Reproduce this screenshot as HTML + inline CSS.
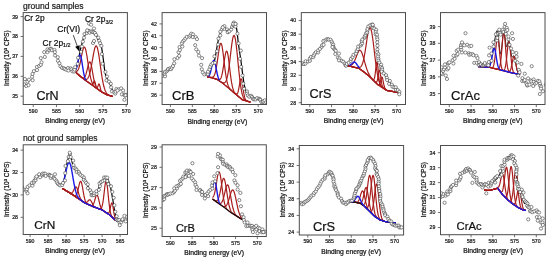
<!DOCTYPE html>
<html><head><meta charset="utf-8"><style>html,body{margin:0;padding:0;background:#fff;overflow:hidden}svg{display:block;filter:blur(0.35px)}</style></head>
<body><svg width="550" height="259" viewBox="0 0 550 259" font-family='"Liberation Sans", sans-serif'><clipPath id="c0"><rect x="23.2" y="12.6" width="104.2" height="91.9"/></clipPath>
<g clip-path="url(#c0)"><g fill="none" stroke-width="1.2" stroke-linejoin="round"><path d="M75.00,70.20 L75.32,70.07 L75.64,69.63 L75.96,68.78 L76.28,67.93 L76.60,67.08 L76.92,66.22 L77.24,65.06 L77.55,63.78 L77.87,62.50 L78.19,61.23 L78.51,59.92 L78.83,58.01 L79.15,56.09 L79.47,54.18 L79.79,52.49 L80.11,50.83 L80.43,49.17 L80.75,47.98 L81.07,46.93 L81.39,45.87 L81.71,44.68 L82.03,43.40 L82.34,42.12 L82.66,41.01 L82.98,40.05 L83.30,39.09 L83.62,38.13 L83.94,37.18 L84.26,36.39 L84.58,35.65 L84.90,34.90 L85.22,34.16 L85.54,33.45 L85.86,33.02 L86.18,32.60 L86.50,32.17 L86.82,31.75 L87.13,31.53 L87.45,31.61 L87.77,31.69 L88.09,31.77 L88.41,31.85 L88.73,31.93 L89.05,32.01 L89.37,32.09 L89.69,32.17 L90.01,32.25 L90.33,32.33 L90.65,32.41 L90.97,32.49 L91.29,32.43 L91.61,32.35 L91.92,32.27 L92.24,32.19 L92.56,32.11 L92.88,32.03 L93.20,32.10 L93.52,32.26 L93.84,32.42 L94.16,32.58 L94.48,32.74 L94.80,32.90 L95.12,33.16 L95.44,33.58 L95.76,34.01 L96.08,34.43 L96.39,34.86 L96.71,35.64 L97.03,36.60 L97.35,37.56 L97.67,38.52 L97.99,39.47 L98.31,40.04 L98.63,40.60 L98.95,41.16 L99.27,41.72 L99.59,42.28 L99.91,42.84 L100.23,43.53 L100.55,44.27 L100.87,45.02 L101.18,45.76 L101.50,46.53 L101.82,48.72 L102.14,50.92 L102.46,53.16 L102.78,55.44 L103.10,57.76 L103.42,60.15 L103.74,62.55 L104.06,65.26 L104.38,68.06 L104.70,70.49 L105.02,72.08 L105.34,73.68 L105.66,75.28 L105.97,76.11 L106.29,76.81 L106.61,77.52 L106.93,78.22 L107.25,78.93 L107.57,79.63 L107.89,80.34 L108.21,81.00 L108.53,81.60 L108.85,82.19 L109.17,82.78 L109.49,83.38 L109.81,83.97 L110.13,84.56 L110.45,85.16 L110.76,85.75 L111.08,86.53 L111.40,87.46 L111.72,88.38 L112.04,89.31 L112.36,90.23 L112.68,91.15 L113.00,91.70" stroke="#000" stroke-width="1.2"/><path d="M72.30,69.50 L72.55,69.71 L72.81,69.91 L73.06,70.12 L73.31,70.32 L73.57,70.53 L73.82,70.73 L74.07,70.94 L74.33,71.14 L74.58,71.35 L74.83,71.56 L75.09,71.76 L75.34,71.97 L75.59,72.17 L75.85,72.38 L76.10,72.59 L76.36,72.81 L76.61,73.03 L76.86,73.26 L77.12,73.48 L77.37,73.70 L77.62,73.92 L77.88,74.15 L78.13,74.37 L78.38,74.59 L78.64,74.81 L78.89,75.04 L79.14,75.26 L79.40,75.48 L79.65,75.71 L79.90,75.93 L80.16,76.15 L80.41,76.35 L80.66,76.55 L80.92,76.75 L81.17,76.95 L81.42,77.15 L81.68,77.36 L81.93,77.56 L82.18,77.76 L82.44,77.96 L82.69,78.16 L82.95,78.36 L83.20,78.57 L83.45,78.77 L83.71,78.97 L83.96,79.17 L84.21,79.37 L84.47,79.58 L84.72,79.78 L84.97,79.98 L85.23,80.16 L85.48,80.34 L85.73,80.51 L85.99,80.69 L86.24,80.87 L86.49,81.05 L86.75,81.22 L87.00,81.40 L87.25,81.58 L87.51,81.76 L87.76,81.93 L88.01,82.11 L88.27,82.29 L88.52,82.46 L88.77,82.64 L89.03,82.82 L89.28,83.00 L89.54,83.17 L89.79,83.35 L90.04,83.53 L90.30,83.71 L90.55,83.88 L90.80,84.06 L91.06,84.24 L91.31,84.44 L91.56,84.63 L91.82,84.82 L92.07,85.01 L92.32,85.21 L92.58,85.40 L92.83,85.59 L93.08,85.78 L93.34,85.98 L93.59,86.17 L93.84,86.36 L94.10,86.55 L94.35,86.75 L94.60,86.94 L94.86,87.13 L95.11,87.32 L95.36,87.52 L95.62,87.71 L95.87,87.90 L96.13,88.09 L96.38,88.26 L96.63,88.44 L96.89,88.61 L97.14,88.79 L97.39,88.96 L97.65,89.14 L97.90,89.31 L98.15,89.48 L98.41,89.66 L98.66,89.83 L98.91,90.01 L99.17,90.18 L99.42,90.36 L99.67,90.53 L99.93,90.71 L100.18,90.88 L100.43,91.06 L100.69,91.23 L100.94,91.41 L101.19,91.58 L101.45,91.76 L101.70,91.93 L101.95,92.08 L102.21,92.22 L102.46,92.36 L102.72,92.49 L102.97,92.63 L103.22,92.77 L103.48,92.90 L103.73,93.04 L103.98,93.18 L104.24,93.31 L104.49,93.45 L104.74,93.58 L105.00,93.72 L105.25,93.86 L105.50,93.99 L105.76,94.13 L106.01,94.27 L106.26,94.40 L106.52,94.54 L106.77,94.68 L107.02,94.81 L107.28,94.88 L107.53,94.95 L107.78,95.02 L108.04,95.10 L108.29,95.17 L108.54,95.24 L108.80,95.31 L109.05,95.39 L109.31,95.46 L109.56,95.53 L109.81,95.60 L110.07,95.68 L110.32,95.75 L110.57,95.82 L110.83,95.89 L111.08,95.97 L111.33,96.04 L111.59,96.11 L111.84,96.18 L112.09,96.26 L112.35,96.33 L112.60,96.40" stroke="#a81c1c"/><path d="M72.30,69.47 L72.55,69.66 L72.81,69.86 L73.06,70.04 L73.31,70.23 L73.57,70.41 L73.82,70.58 L74.07,70.74 L74.33,70.89 L74.58,71.03 L74.83,71.15 L75.09,71.25 L75.34,71.33 L75.59,71.39 L75.85,71.41 L76.10,71.41 L76.36,71.38 L76.61,71.30 L76.86,71.18 L77.12,71.00 L77.37,70.76 L77.62,70.45 L77.88,70.07 L78.13,69.62 L78.38,69.09 L78.64,68.47 L78.89,67.77 L79.14,66.98 L79.40,66.11 L79.65,65.16 L79.90,64.13 L80.16,63.02 L80.41,61.84 L80.66,60.60 L80.92,59.32 L81.17,58.02 L81.42,56.71 L81.68,55.41 L81.93,54.13 L82.18,52.91 L82.44,51.75 L82.69,50.68 L82.95,49.72 L83.20,48.88 L83.45,48.19 L83.71,47.66 L83.96,47.30 L84.21,47.11 L84.47,47.12 L84.72,47.32 L84.97,47.70 L85.23,48.26 L85.48,48.99 L85.73,49.89 L85.99,50.95 L86.24,52.16 L86.49,53.50 L86.75,54.94 L87.00,56.47 L87.25,58.07 L87.51,59.72 L87.76,61.40 L88.01,63.09 L88.27,64.77 L88.52,66.43 L88.77,68.05 L89.03,69.62 L89.28,71.12 L89.54,72.56 L89.79,73.92 L90.04,75.19 L90.30,76.38 L90.55,77.49 L90.80,78.51 L91.06,79.45 L91.31,80.32 L91.56,81.12 L91.82,81.85 L92.07,82.51 L92.32,83.11 L92.58,83.65 L92.83,84.14 L93.08,84.59 L93.34,85.00 L93.59,85.37 L93.84,85.72 L94.10,86.04 L94.35,86.33 L94.60,86.61 L94.86,86.87 L95.11,87.12 L95.36,87.36 L95.62,87.59 L95.87,87.81 L96.13,88.01 L96.38,88.21 L96.63,88.39 L96.89,88.58 L97.14,88.76 L97.39,88.94 L97.65,89.12 L97.90,89.30 L98.15,89.48 L98.41,89.65 L98.66,89.83 L98.91,90.01 L99.17,90.18 L99.42,90.36 L99.67,90.53 L99.93,90.71 L100.18,90.88 L100.43,91.06 L100.69,91.23 L100.94,91.41 L101.19,91.58 L101.45,91.76 L101.70,91.93 L101.95,92.08 L102.21,92.22 L102.46,92.36 L102.72,92.49 L102.97,92.63 L103.22,92.77 L103.48,92.90 L103.73,93.04 L103.98,93.18 L104.24,93.31 L104.49,93.45 L104.74,93.58 L105.00,93.72 L105.25,93.86 L105.50,93.99 L105.76,94.13 L106.01,94.27 L106.26,94.40 L106.52,94.54 L106.77,94.68 L107.02,94.81 L107.28,94.88 L107.53,94.95 L107.78,95.02 L108.04,95.10 L108.29,95.17 L108.54,95.24 L108.80,95.31 L109.05,95.39 L109.31,95.46 L109.56,95.53 L109.81,95.60 L110.07,95.68 L110.32,95.75 L110.57,95.82 L110.83,95.89 L111.08,95.97 L111.33,96.04 L111.59,96.11 L111.84,96.18 L112.09,96.26 L112.35,96.33 L112.60,96.40" stroke="#a81c1c"/><path d="M72.30,69.50 L72.55,69.71 L72.81,69.91 L73.06,70.12 L73.31,70.32 L73.57,70.53 L73.82,70.73 L74.07,70.94 L74.33,71.14 L74.58,71.35 L74.83,71.56 L75.09,71.76 L75.34,71.97 L75.59,72.17 L75.85,72.38 L76.10,72.59 L76.36,72.81 L76.61,73.03 L76.86,73.26 L77.12,73.48 L77.37,73.70 L77.62,73.92 L77.88,74.15 L78.13,74.37 L78.38,74.59 L78.64,74.81 L78.89,75.04 L79.14,75.26 L79.40,75.48 L79.65,75.70 L79.90,75.92 L80.16,76.13 L80.41,76.32 L80.66,76.51 L80.92,76.70 L81.17,76.89 L81.42,77.06 L81.68,77.23 L81.93,77.38 L82.18,77.52 L82.44,77.65 L82.69,77.75 L82.95,77.82 L83.20,77.86 L83.45,77.87 L83.71,77.82 L83.96,77.73 L84.21,77.57 L84.47,77.34 L84.72,77.04 L84.97,76.66 L85.23,76.17 L85.48,75.59 L85.73,74.92 L85.99,74.16 L86.24,73.31 L86.49,72.39 L86.75,71.39 L87.00,70.35 L87.25,69.27 L87.51,68.18 L87.76,67.09 L88.01,66.05 L88.27,65.07 L88.52,64.18 L88.77,63.40 L89.03,62.77 L89.28,62.30 L89.54,62.02 L89.79,61.92 L90.04,62.03 L90.30,62.35 L90.55,62.86 L90.80,63.56 L91.06,64.44 L91.31,65.50 L91.56,66.68 L91.82,67.98 L92.07,69.35 L92.32,70.78 L92.58,72.24 L92.83,73.70 L93.08,75.14 L93.34,76.54 L93.59,77.88 L93.84,79.15 L94.10,80.34 L94.35,81.45 L94.60,82.46 L94.86,83.38 L95.11,84.21 L95.36,84.96 L95.62,85.63 L95.87,86.22 L96.13,86.75 L96.38,87.20 L96.63,87.61 L96.89,87.97 L97.14,88.29 L97.39,88.58 L97.65,88.85 L97.90,89.10 L98.15,89.33 L98.41,89.54 L98.66,89.75 L98.91,89.95 L99.17,90.14 L99.42,90.33 L99.67,90.51 L99.93,90.69 L100.18,90.87 L100.43,91.05 L100.69,91.23 L100.94,91.40 L101.19,91.58 L101.45,91.76 L101.70,91.93 L101.95,92.08 L102.21,92.22 L102.46,92.36 L102.72,92.49 L102.97,92.63 L103.22,92.77 L103.48,92.90 L103.73,93.04 L103.98,93.18 L104.24,93.31 L104.49,93.45 L104.74,93.58 L105.00,93.72 L105.25,93.86 L105.50,93.99 L105.76,94.13 L106.01,94.27 L106.26,94.40 L106.52,94.54 L106.77,94.68 L107.02,94.81 L107.28,94.88 L107.53,94.95 L107.78,95.02 L108.04,95.10 L108.29,95.17 L108.54,95.24 L108.80,95.31 L109.05,95.39 L109.31,95.46 L109.56,95.53 L109.81,95.60 L110.07,95.68 L110.32,95.75 L110.57,95.82 L110.83,95.89 L111.08,95.97 L111.33,96.04 L111.59,96.11 L111.84,96.18 L112.09,96.26 L112.35,96.33 L112.60,96.40" stroke="#a81c1c"/><path d="M72.30,69.50 L72.55,69.71 L72.81,69.91 L73.06,70.12 L73.31,70.32 L73.57,70.53 L73.82,70.73 L74.07,70.94 L74.33,71.14 L74.58,71.35 L74.83,71.56 L75.09,71.76 L75.34,71.97 L75.59,72.17 L75.85,72.38 L76.10,72.59 L76.36,72.81 L76.61,73.03 L76.86,73.26 L77.12,73.48 L77.37,73.70 L77.62,73.92 L77.88,74.15 L78.13,74.37 L78.38,74.59 L78.64,74.81 L78.89,75.04 L79.14,75.26 L79.40,75.48 L79.65,75.70 L79.90,75.92 L80.16,76.14 L80.41,76.34 L80.66,76.54 L80.92,76.73 L81.17,76.93 L81.42,77.13 L81.68,77.32 L81.93,77.51 L82.18,77.70 L82.44,77.89 L82.69,78.08 L82.95,78.25 L83.20,78.43 L83.45,78.60 L83.71,78.76 L83.96,78.91 L84.21,79.05 L84.47,79.18 L84.72,79.30 L84.97,79.40 L85.23,79.46 L85.48,79.50 L85.73,79.51 L85.99,79.49 L86.24,79.45 L86.49,79.37 L86.75,79.25 L87.00,79.08 L87.25,78.87 L87.51,78.61 L87.76,78.30 L88.01,77.92 L88.27,77.48 L88.52,76.97 L88.77,76.39 L89.03,75.74 L89.28,75.00 L89.54,74.19 L89.79,73.30 L90.04,72.34 L90.30,71.29 L90.55,70.16 L90.80,68.97 L91.06,67.71 L91.31,66.40 L91.56,65.04 L91.82,63.63 L92.07,62.19 L92.32,60.73 L92.58,59.25 L92.83,57.78 L93.08,56.33 L93.34,54.92 L93.59,53.55 L93.84,52.26 L94.10,51.04 L94.35,49.92 L94.60,48.91 L94.86,48.04 L95.11,47.29 L95.36,46.70 L95.62,46.27 L95.87,46.01 L96.13,45.92 L96.38,45.99 L96.63,46.23 L96.89,46.66 L97.14,47.26 L97.39,48.03 L97.65,48.96 L97.90,50.05 L98.15,51.27 L98.41,52.62 L98.66,54.09 L98.91,55.66 L99.17,57.31 L99.42,59.03 L99.67,60.81 L99.93,62.62 L100.18,64.46 L100.43,66.30 L100.69,68.13 L100.94,69.94 L101.19,71.72 L101.45,73.46 L101.70,75.15 L101.95,76.75 L102.21,78.27 L102.46,79.72 L102.72,81.10 L102.97,82.39 L103.22,83.61 L103.48,84.75 L103.73,85.81 L103.98,86.79 L104.24,87.69 L104.49,88.53 L104.74,89.29 L105.00,90.00 L105.25,90.64 L105.50,91.22 L105.76,91.75 L106.01,92.24 L106.26,92.68 L106.52,93.08 L106.77,93.44 L107.02,93.77 L107.28,94.01 L107.53,94.23 L107.78,94.43 L108.04,94.60 L108.29,94.76 L108.54,94.91 L108.80,95.04 L109.05,95.17 L109.31,95.28 L109.56,95.39 L109.81,95.49 L110.07,95.58 L110.32,95.68 L110.57,95.76 L110.83,95.85 L111.08,95.93 L111.33,96.01 L111.59,96.09 L111.84,96.17 L112.09,96.24 L112.35,96.32 L112.60,96.39" stroke="#a81c1c"/><path d="M72.30,69.50 L72.55,69.71 L72.81,69.91 L73.06,70.12 L73.31,70.32 L73.57,70.53 L73.82,70.73 L74.07,70.94 L74.33,71.14 L74.58,71.35 L74.83,71.56 L75.09,71.76 L75.34,71.97 L75.59,72.17 L75.85,72.38 L76.10,72.59 L76.36,72.81 L76.61,73.03 L76.86,73.26 L77.12,73.48 L77.37,73.70 L77.62,73.92 L77.88,74.15 L78.13,74.37 L78.38,74.59 L78.64,74.81 L78.89,75.04 L79.14,75.26 L79.40,75.48 L79.65,75.71 L79.90,75.93 L80.16,76.15 L80.41,76.35 L80.66,76.55 L80.92,76.75 L81.17,76.95 L81.42,77.15 L81.68,77.36 L81.93,77.56 L82.18,77.76 L82.44,77.96 L82.69,78.16 L82.95,78.36 L83.20,78.57 L83.45,78.77 L83.71,78.97 L83.96,79.17 L84.21,79.37 L84.47,79.58 L84.72,79.78 L84.97,79.98 L85.23,80.16 L85.48,80.34 L85.73,80.51 L85.99,80.69 L86.24,80.87 L86.49,81.05 L86.75,81.22 L87.00,81.40 L87.25,81.58 L87.51,81.76 L87.76,81.93 L88.01,82.11 L88.27,82.29 L88.52,82.46 L88.77,82.64 L89.03,82.82 L89.28,83.00 L89.54,83.17 L89.79,83.35 L90.04,83.53 L90.30,83.71 L90.55,83.88 L90.80,84.06 L91.06,84.24 L91.31,84.44 L91.56,84.63 L91.82,84.82 L92.07,85.01 L92.32,85.21 L92.58,85.40 L92.83,85.59 L93.08,85.78 L93.34,85.98 L93.59,86.17 L93.84,86.36 L94.10,86.55 L94.35,86.75 L94.60,86.94 L94.86,87.13 L95.11,87.32 L95.36,87.51 L95.62,87.70 L95.87,87.87 L96.13,88.01 L96.38,88.11 L96.63,88.14 L96.89,88.08 L97.14,87.89 L97.39,87.53 L97.65,87.00 L97.90,86.32 L98.15,85.57 L98.41,84.83 L98.66,84.26 L98.91,83.98 L99.17,84.06 L99.42,84.53 L99.67,85.33 L99.93,86.35 L100.18,87.46 L100.43,88.54 L100.69,89.49 L100.94,90.28 L101.19,90.90 L101.45,91.37 L101.70,91.72 L101.95,91.98 L102.21,92.17 L102.46,92.33 L102.72,92.48 L102.97,92.63 L103.22,92.76 L103.48,92.90 L103.73,93.04 L103.98,93.18 L104.24,93.31 L104.49,93.45 L104.74,93.58 L105.00,93.72 L105.25,93.86 L105.50,93.99 L105.76,94.13 L106.01,94.27 L106.26,94.40 L106.52,94.54 L106.77,94.68 L107.02,94.81 L107.28,94.88 L107.53,94.95 L107.78,95.02 L108.04,95.10 L108.29,95.17 L108.54,95.24 L108.80,95.31 L109.05,95.39 L109.31,95.46 L109.56,95.53 L109.81,95.60 L110.07,95.68 L110.32,95.75 L110.57,95.82 L110.83,95.89 L111.08,95.97 L111.33,96.04 L111.59,96.11 L111.84,96.18 L112.09,96.26 L112.35,96.33 L112.60,96.40" stroke="#a81c1c"/><path d="M72.30,69.50 L72.55,69.71 L72.81,69.91 L73.06,70.12 L73.31,70.32 L73.57,70.53 L73.82,70.73 L74.07,70.94 L74.33,71.14 L74.58,71.35 L74.83,71.56 L75.09,71.76 L75.34,71.97 L75.59,72.17 L75.85,72.38 L76.10,72.59 L76.36,72.81 L76.61,73.03 L76.86,73.26 L77.12,73.48 L77.37,73.70 L77.62,73.92 L77.88,74.15 L78.13,74.37 L78.38,74.59 L78.64,74.81 L78.89,75.04 L79.14,75.26 L79.40,75.48 L79.65,75.71 L79.90,75.93 L80.16,76.15 L80.41,76.35 L80.66,76.55 L80.92,76.75 L81.17,76.95 L81.42,77.15 L81.68,77.36 L81.93,77.56 L82.18,77.76 L82.44,77.96 L82.69,78.16 L82.95,78.36 L83.20,78.57 L83.45,78.77 L83.71,78.97 L83.96,79.17 L84.21,79.37 L84.47,79.58 L84.72,79.78 L84.97,79.98 L85.23,80.16 L85.48,80.34 L85.73,80.51 L85.99,80.69 L86.24,80.87 L86.49,81.05 L86.75,81.22 L87.00,81.40 L87.25,81.58 L87.51,81.76 L87.76,81.93 L88.01,82.11 L88.27,82.29 L88.52,82.46 L88.77,82.64 L89.03,82.82 L89.28,83.00 L89.54,83.17 L89.79,83.35 L90.04,83.53 L90.30,83.71 L90.55,83.88 L90.80,84.06 L91.06,84.23 L91.31,84.40 L91.56,84.55 L91.82,84.66 L92.07,84.71 L92.32,84.66 L92.58,84.48 L92.83,84.14 L93.08,83.63 L93.34,83.00 L93.59,82.29 L93.84,81.64 L94.10,81.15 L94.35,80.95 L94.60,81.11 L94.86,81.64 L95.11,82.46 L95.36,83.49 L95.62,84.57 L95.87,85.62 L96.13,86.52 L96.38,87.26 L96.63,87.83 L96.89,88.27 L97.14,88.61 L97.39,88.87 L97.65,89.09 L97.90,89.29 L98.15,89.48 L98.41,89.66 L98.66,89.83 L98.91,90.01 L99.17,90.18 L99.42,90.36 L99.67,90.53 L99.93,90.71 L100.18,90.88 L100.43,91.06 L100.69,91.23 L100.94,91.41 L101.19,91.58 L101.45,91.76 L101.70,91.93 L101.95,92.08 L102.21,92.22 L102.46,92.36 L102.72,92.49 L102.97,92.63 L103.22,92.77 L103.48,92.90 L103.73,93.04 L103.98,93.18 L104.24,93.31 L104.49,93.45 L104.74,93.58 L105.00,93.72 L105.25,93.86 L105.50,93.99 L105.76,94.13 L106.01,94.27 L106.26,94.40 L106.52,94.54 L106.77,94.68 L107.02,94.81 L107.28,94.88 L107.53,94.95 L107.78,95.02 L108.04,95.10 L108.29,95.17 L108.54,95.24 L108.80,95.31 L109.05,95.39 L109.31,95.46 L109.56,95.53 L109.81,95.60 L110.07,95.68 L110.32,95.75 L110.57,95.82 L110.83,95.89 L111.08,95.97 L111.33,96.04 L111.59,96.11 L111.84,96.18 L112.09,96.26 L112.35,96.33 L112.60,96.40" stroke="#a81c1c"/><path d="M74.33,70.54 L74.58,70.54 L74.83,70.47 L75.09,70.34 L75.34,70.12 L75.59,69.80 L75.85,69.38 L76.10,68.85 L76.36,68.21 L76.61,67.45 L76.86,66.56 L77.12,65.55 L77.37,64.45 L77.62,63.26 L77.88,62.02 L78.13,60.77 L78.38,59.53 L78.64,58.36 L78.89,57.30 L79.14,56.39 L79.40,55.67 L79.65,55.18 L79.90,54.94 L80.16,54.97 L80.41,55.26 L80.66,55.84 L80.92,56.67 L81.17,57.74 L81.42,59.01 L81.68,60.45 L81.93,62.02 L82.18,63.66 L82.44,65.34 L82.69,67.01 L82.95,68.64 L83.20,70.20 L83.45,71.67 L83.71,73.02 L83.96,74.25 L84.21,75.36 L84.47,76.34 L84.72,77.21 L84.97,77.97 L85.23,78.60 L85.48,79.15 L85.73,79.62 L85.99,80.02" stroke="#1a1ae8" stroke-width="1.4"/></g></g>
<g fill="#fff" stroke="#3c3c3c" stroke-width="0.6"><g clip-path="url(#c0)"><circle cx="24.93" cy="79.07" r="1.6"/><circle cx="24.17" cy="84.39" r="1.6"/><circle cx="26.26" cy="86.01" r="1.6"/><circle cx="28.49" cy="85.13" r="1.6"/><circle cx="27.46" cy="81.65" r="1.6"/><circle cx="28.84" cy="79.75" r="1.6"/><circle cx="32.65" cy="80.21" r="1.6"/><circle cx="32.09" cy="76.68" r="1.6"/><circle cx="32.56" cy="73.93" r="1.6"/><circle cx="33.88" cy="71.11" r="1.6"/><circle cx="37.00" cy="70.05" r="1.6"/><circle cx="36.90" cy="66.93" r="1.6"/><circle cx="39.22" cy="65.94" r="1.6"/><circle cx="40.86" cy="64.74" r="1.6"/><circle cx="41.58" cy="62.28" r="1.6"/><circle cx="40.79" cy="58.14" r="1.6"/><circle cx="44.82" cy="56.99" r="1.6"/><circle cx="44.20" cy="52.15" r="1.6"/><circle cx="47.45" cy="52.10" r="1.6"/><circle cx="47.52" cy="49.41" r="1.6"/><circle cx="49.31" cy="50.12" r="1.6"/><circle cx="50.35" cy="48.62" r="1.6"/><circle cx="51.26" cy="48.89" r="1.6"/><circle cx="52.00" cy="50.20" r="1.6"/><circle cx="54.47" cy="49.96" r="1.6"/><circle cx="54.87" cy="52.17" r="1.6"/><circle cx="55.04" cy="55.48" r="1.6"/><circle cx="57.76" cy="57.20" r="1.6"/><circle cx="57.97" cy="60.82" r="1.6"/><circle cx="59.39" cy="63.23" r="1.6"/><circle cx="60.45" cy="66.30" r="1.6"/><circle cx="62.06" cy="67.85" r="1.6"/><circle cx="63.78" cy="68.32" r="1.6"/><circle cx="64.74" cy="69.00" r="1.6"/><circle cx="66.35" cy="69.76" r="1.6"/><circle cx="68.00" cy="68.07" r="1.6"/><circle cx="68.39" cy="70.51" r="1.6"/><circle cx="70.57" cy="68.29" r="1.6"/><circle cx="71.51" cy="69.37" r="1.6"/><circle cx="72.52" cy="71.30" r="1.6"/><circle cx="74.14" cy="71.51" r="1.6"/><circle cx="74.53" cy="69.69" r="1.6"/><circle cx="75.14" cy="67.17" r="1.6"/><circle cx="77.74" cy="63.84" r="1.6"/><circle cx="78.06" cy="57.75" r="1.6"/><circle cx="80.99" cy="51.82" r="1.6"/><circle cx="81.85" cy="46.49" r="1.6"/><circle cx="82.90" cy="41.60" r="1.6"/><circle cx="84.02" cy="37.67" r="1.6"/><circle cx="84.50" cy="34.02" r="1.6"/><circle cx="86.73" cy="33.02" r="1.6"/><circle cx="87.57" cy="30.88" r="1.6"/><circle cx="88.81" cy="30.93" r="1.6"/><circle cx="89.74" cy="32.62" r="1.6"/><circle cx="91.42" cy="31.31" r="1.6"/><circle cx="92.53" cy="31.86" r="1.6"/><circle cx="93.73" cy="32.34" r="1.6"/><circle cx="94.94" cy="32.98" r="1.6"/><circle cx="95.99" cy="34.86" r="1.6"/><circle cx="98.16" cy="37.60" r="1.6"/><circle cx="99.24" cy="40.76" r="1.6"/><circle cx="100.13" cy="43.27" r="1.6"/><circle cx="101.38" cy="45.88" r="1.6"/><circle cx="101.88" cy="54.11" r="1.6"/><circle cx="102.58" cy="63.78" r="1.6"/><circle cx="105.44" cy="71.89" r="1.6"/><circle cx="106.98" cy="76.52" r="1.6"/><circle cx="106.54" cy="80.35" r="1.6"/><circle cx="109.06" cy="81.68" r="1.6"/><circle cx="110.79" cy="83.77" r="1.6"/><circle cx="111.06" cy="87.38" r="1.6"/><circle cx="111.98" cy="91.33" r="1.6"/><circle cx="114.18" cy="92.20" r="1.6"/><circle cx="115.24" cy="93.57" r="1.6"/><circle cx="115.67" cy="91.69" r="1.6"/><circle cx="116.38" cy="89.00" r="1.6"/><circle cx="118.76" cy="89.38" r="1.6"/><circle cx="121.15" cy="88.35" r="1.6"/><circle cx="123.15" cy="90.46" r="1.6"/><circle cx="121.88" cy="94.36" r="1.6"/><circle cx="124.63" cy="94.67" r="1.6"/><circle cx="124.83" cy="95.51" r="1.6"/><circle cx="127.31" cy="94.61" r="1.6"/><circle cx="89.10" cy="23.70" r="1.6"/><circle cx="91.10" cy="24.70" r="1.6"/><circle cx="94.00" cy="28.50" r="1.6"/><circle cx="87.20" cy="30.40" r="1.6"/><circle cx="93.00" cy="43.00" r="1.6"/><circle cx="94.00" cy="41.00" r="1.6"/><circle cx="117.50" cy="90.50" r="1.6"/><circle cx="125.60" cy="95.20" r="1.6"/><circle cx="124.40" cy="99.80" r="1.6"/></g></g>
<line x1="33.20" y1="104.50" x2="33.20" y2="107.10" stroke="#4d4d4d" stroke-width="0.8"/>
<text x="33.20" y="112.50" font-size="5.2" text-anchor="middle" fill="#222" stroke="#222" stroke-width="0.22" >590</text>
<line x1="56.45" y1="104.50" x2="56.45" y2="107.10" stroke="#4d4d4d" stroke-width="0.8"/>
<text x="56.45" y="112.50" font-size="5.2" text-anchor="middle" fill="#222" stroke="#222" stroke-width="0.22" >585</text>
<line x1="79.70" y1="104.50" x2="79.70" y2="107.10" stroke="#4d4d4d" stroke-width="0.8"/>
<text x="79.70" y="112.50" font-size="5.2" text-anchor="middle" fill="#222" stroke="#222" stroke-width="0.22" >580</text>
<line x1="102.95" y1="104.50" x2="102.95" y2="107.10" stroke="#4d4d4d" stroke-width="0.8"/>
<text x="102.95" y="112.50" font-size="5.2" text-anchor="middle" fill="#222" stroke="#222" stroke-width="0.22" >575</text>
<line x1="126.20" y1="104.50" x2="126.20" y2="107.10" stroke="#4d4d4d" stroke-width="0.8"/>
<text x="126.20" y="112.50" font-size="5.2" text-anchor="middle" fill="#222" stroke="#222" stroke-width="0.22" >570</text>
<line x1="20.60" y1="96.20" x2="23.20" y2="96.20" stroke="#4d4d4d" stroke-width="0.8"/>
<text x="18.00" y="98.10" font-size="5.2" text-anchor="end" fill="#222" stroke="#222" stroke-width="0.22" >35</text>
<line x1="20.60" y1="76.30" x2="23.20" y2="76.30" stroke="#4d4d4d" stroke-width="0.8"/>
<text x="18.00" y="78.20" font-size="5.2" text-anchor="end" fill="#222" stroke="#222" stroke-width="0.22" >36</text>
<line x1="20.60" y1="56.40" x2="23.20" y2="56.40" stroke="#4d4d4d" stroke-width="0.8"/>
<text x="18.00" y="58.30" font-size="5.2" text-anchor="end" fill="#222" stroke="#222" stroke-width="0.22" >37</text>
<line x1="20.60" y1="36.50" x2="23.20" y2="36.50" stroke="#4d4d4d" stroke-width="0.8"/>
<text x="18.00" y="38.40" font-size="5.2" text-anchor="end" fill="#222" stroke="#222" stroke-width="0.22" >38</text>
<line x1="20.60" y1="16.60" x2="23.20" y2="16.60" stroke="#4d4d4d" stroke-width="0.8"/>
<text x="18.00" y="18.50" font-size="5.2" text-anchor="end" fill="#222" stroke="#222" stroke-width="0.22" >39</text>
<rect x="23.20" y="12.60" width="104.20" height="91.90" fill="none" stroke="#4d4d4d" stroke-width="1"/>
<text x="75.10" y="122.90" font-size="6.75" text-anchor="middle" fill="#111" stroke="#111" stroke-width="0.22" >Binding energy (eV)</text>
<text x="0" y="0" font-size="6.55" text-anchor="middle" fill="#111" stroke="#111" stroke-width="0.22" transform="translate(9.10,58.15) rotate(-90)">Intensity (10<tspan font-size="4.2" dy="-2.1">3</tspan><tspan dy="2.1"> CPS)</tspan></text>
<text x="36.40" y="100.00" font-size="12.5" text-anchor="start" fill="#111" stroke="#111" stroke-width="0.22" >CrN</text>
<clipPath id="c1"><rect x="162.1" y="12.6" width="104.4" height="91.9"/></clipPath>
<g clip-path="url(#c1)"><g fill="none" stroke-width="1.2" stroke-linejoin="round"><path d="M211.00,67.19 L211.34,66.45 L211.67,65.72 L212.01,64.99 L212.34,64.66 L212.68,64.32 L213.02,63.98 L213.35,63.65 L213.69,63.31 L214.03,62.88 L214.36,61.31 L214.70,59.75 L215.03,58.18 L215.37,56.61 L215.71,54.76 L216.04,52.75 L216.38,50.73 L216.71,48.71 L217.05,46.73 L217.39,44.94 L217.72,43.15 L218.06,41.35 L218.39,39.56 L218.73,38.23 L219.07,37.11 L219.40,35.99 L219.74,34.87 L220.08,33.81 L220.41,32.97 L220.75,32.13 L221.08,31.29 L221.42,30.45 L221.76,29.61 L222.09,28.88 L222.43,28.46 L222.76,28.04 L223.10,27.62 L223.44,27.20 L223.77,26.78 L224.11,26.66 L224.45,27.17 L224.78,27.67 L225.12,28.18 L225.45,28.68 L225.79,29.18 L226.13,29.75 L226.46,30.42 L226.80,31.10 L227.13,31.77 L227.47,32.44 L227.81,33.11 L228.14,33.32 L228.48,32.90 L228.82,32.48 L229.15,32.06 L229.49,31.64 L229.82,31.22 L230.16,30.60 L230.50,29.76 L230.83,28.92 L231.17,28.08 L231.50,27.24 L231.84,26.40 L232.18,25.78 L232.51,25.36 L232.85,24.94 L233.18,24.52 L233.52,24.10 L233.86,23.68 L234.19,23.64 L234.53,23.90 L234.87,24.15 L235.20,24.40 L235.54,24.65 L235.87,24.91 L236.21,26.26 L236.55,28.28 L236.88,30.29 L237.22,33.02 L237.55,36.12 L237.89,39.22 L238.23,42.33 L238.56,44.82 L238.90,47.15 L239.24,49.48 L239.57,51.80 L239.91,53.98 L240.24,56.14 L240.58,58.30 L240.92,60.46 L241.25,63.02 L241.59,65.71 L241.92,68.39 L242.26,71.08 L242.60,73.71 L242.93,76.17 L243.27,78.64 L243.61,81.10 L243.94,83.57 L244.28,85.11 L244.61,86.45 L244.95,87.80 L245.29,89.14 L245.62,90.49 L245.96,91.83 L246.29,92.41 L246.63,92.88 L246.97,93.35 L247.30,93.82 L247.64,94.29 L247.97,94.76 L248.31,95.24 L248.65,95.60 L248.98,95.82 L249.32,96.05 L249.66,96.27 L249.99,96.49 L250.33,96.72 L250.66,96.94 L251.00,97.17" stroke="#000" stroke-width="1.2"/><path d="M207.00,77.00 L207.27,77.04 L207.55,77.08 L207.82,77.11 L208.09,77.15 L208.37,77.19 L208.64,77.23 L208.92,77.27 L209.19,77.31 L209.46,77.34 L209.74,77.38 L210.01,77.42 L210.28,77.46 L210.56,77.50 L210.83,77.54 L211.10,77.57 L211.38,77.61 L211.65,77.65 L211.92,77.69 L212.20,77.77 L212.47,77.86 L212.75,77.95 L213.02,78.05 L213.29,78.14 L213.57,78.23 L213.84,78.32 L214.11,78.42 L214.39,78.51 L214.66,78.60 L214.93,78.70 L215.21,78.79 L215.48,78.88 L215.75,78.98 L216.03,79.07 L216.30,79.16 L216.58,79.25 L216.85,79.35 L217.12,79.44 L217.40,79.56 L217.67,79.75 L217.94,79.93 L218.22,80.12 L218.49,80.30 L218.76,80.49 L219.04,80.67 L219.31,80.85 L219.58,81.04 L219.86,81.22 L220.13,81.41 L220.41,81.59 L220.68,81.77 L220.95,81.96 L221.23,82.14 L221.50,82.33 L221.77,82.51 L222.05,82.70 L222.32,82.88 L222.59,83.08 L222.87,83.30 L223.14,83.53 L223.42,83.76 L223.69,83.98 L223.96,84.21 L224.24,84.44 L224.51,84.66 L224.78,84.89 L225.06,85.11 L225.33,85.34 L225.60,85.57 L225.88,85.79 L226.15,86.02 L226.42,86.25 L226.70,86.47 L226.97,86.70 L227.25,86.92 L227.52,87.15 L227.79,87.38 L228.07,87.61 L228.34,87.85 L228.61,88.08 L228.89,88.31 L229.16,88.55 L229.43,88.78 L229.71,89.02 L229.98,89.25 L230.25,89.48 L230.53,89.72 L230.80,89.95 L231.08,90.18 L231.35,90.42 L231.62,90.65 L231.90,90.89 L232.17,91.12 L232.44,91.35 L232.72,91.59 L232.99,91.82 L233.26,92.05 L233.54,92.29 L233.81,92.52 L234.08,92.75 L234.36,92.98 L234.63,93.21 L234.91,93.45 L235.18,93.68 L235.45,93.91 L235.73,94.14 L236.00,94.37 L236.27,94.61 L236.55,94.84 L236.82,95.07 L237.09,95.30 L237.37,95.53 L237.64,95.77 L237.92,96.00 L238.19,96.23 L238.46,96.46 L238.74,96.69 L239.01,96.93 L239.28,97.16 L239.56,97.39 L239.83,97.62 L240.10,97.85 L240.38,98.09 L240.65,98.32 L240.92,98.55 L241.20,98.78 L241.47,99.01 L241.75,99.24 L242.02,99.48 L242.29,99.71 L242.57,99.85 L242.84,99.92 L243.11,100.00 L243.39,100.08 L243.66,100.16 L243.93,100.24 L244.21,100.31 L244.48,100.39 L244.75,100.47 L245.03,100.55 L245.30,100.62 L245.58,100.70 L245.85,100.78 L246.12,100.86 L246.40,100.93 L246.67,101.01 L246.94,101.09 L247.22,101.17 L247.49,101.25 L247.76,101.32 L248.04,101.40 L248.31,101.48 L248.58,101.56 L248.86,101.63 L249.13,101.71 L249.41,101.79 L249.68,101.87 L249.95,101.94 L250.23,102.02 L250.50,102.10" stroke="#a81c1c"/><path d="M207.00,77.00 L207.27,77.04 L207.55,77.07 L207.82,77.11 L208.09,77.15 L208.37,77.19 L208.64,77.22 L208.92,77.26 L209.19,77.29 L209.46,77.32 L209.74,77.35 L210.01,77.37 L210.28,77.39 L210.56,77.41 L210.83,77.41 L211.10,77.41 L211.38,77.39 L211.65,77.35 L211.92,77.29 L212.20,77.25 L212.47,77.18 L212.75,77.08 L213.02,76.93 L213.29,76.72 L213.57,76.44 L213.84,76.09 L214.11,75.65 L214.39,75.11 L214.66,74.47 L214.93,73.70 L215.21,72.81 L215.48,71.78 L215.75,70.61 L216.03,69.29 L216.30,67.84 L216.58,66.25 L216.85,64.53 L217.12,62.70 L217.40,60.81 L217.67,58.91 L217.94,56.97 L218.22,55.02 L218.49,53.10 L218.76,51.25 L219.04,49.51 L219.31,47.92 L219.58,46.51 L219.86,45.33 L220.13,44.40 L220.41,43.75 L220.68,43.40 L220.95,43.37 L221.23,43.66 L221.50,44.27 L221.77,45.18 L222.05,46.39 L222.32,47.85 L222.59,49.57 L222.87,51.51 L223.14,53.62 L223.42,55.85 L223.69,58.16 L223.96,60.51 L224.24,62.87 L224.51,65.19 L224.78,67.46 L225.06,69.65 L225.33,71.72 L225.60,73.68 L225.88,75.50 L226.15,77.18 L226.42,78.72 L226.70,80.12 L226.97,81.38 L227.25,82.50 L227.52,83.51 L227.79,84.41 L228.07,85.20 L228.34,85.91 L228.61,86.54 L228.89,87.10 L229.16,87.59 L229.43,88.04 L229.71,88.44 L229.98,88.81 L230.25,89.15 L230.53,89.47 L230.80,89.77 L231.08,90.05 L231.35,90.32 L231.62,90.58 L231.90,90.83 L232.17,91.08 L232.44,91.33 L232.72,91.57 L232.99,91.81 L233.26,92.05 L233.54,92.28 L233.81,92.51 L234.08,92.75 L234.36,92.98 L234.63,93.21 L234.91,93.45 L235.18,93.68 L235.45,93.91 L235.73,94.14 L236.00,94.37 L236.27,94.61 L236.55,94.84 L236.82,95.07 L237.09,95.30 L237.37,95.53 L237.64,95.77 L237.92,96.00 L238.19,96.23 L238.46,96.46 L238.74,96.69 L239.01,96.93 L239.28,97.16 L239.56,97.39 L239.83,97.62 L240.10,97.85 L240.38,98.09 L240.65,98.32 L240.92,98.55 L241.20,98.78 L241.47,99.01 L241.75,99.24 L242.02,99.48 L242.29,99.71 L242.57,99.85 L242.84,99.92 L243.11,100.00 L243.39,100.08 L243.66,100.16 L243.93,100.24 L244.21,100.31 L244.48,100.39 L244.75,100.47 L245.03,100.55 L245.30,100.62 L245.58,100.70 L245.85,100.78 L246.12,100.86 L246.40,100.93 L246.67,101.01 L246.94,101.09 L247.22,101.17 L247.49,101.25 L247.76,101.32 L248.04,101.40 L248.31,101.48 L248.58,101.56 L248.86,101.63 L249.13,101.71 L249.41,101.79 L249.68,101.87 L249.95,101.94 L250.23,102.02 L250.50,102.10" stroke="#a81c1c"/><path d="M207.00,77.00 L207.27,77.04 L207.55,77.08 L207.82,77.11 L208.09,77.15 L208.37,77.19 L208.64,77.23 L208.92,77.27 L209.19,77.31 L209.46,77.34 L209.74,77.38 L210.01,77.42 L210.28,77.46 L210.56,77.50 L210.83,77.54 L211.10,77.57 L211.38,77.61 L211.65,77.65 L211.92,77.69 L212.20,77.77 L212.47,77.86 L212.75,77.95 L213.02,78.05 L213.29,78.14 L213.57,78.23 L213.84,78.32 L214.11,78.42 L214.39,78.51 L214.66,78.60 L214.93,78.69 L215.21,78.78 L215.48,78.87 L215.75,78.96 L216.03,79.05 L216.30,79.13 L216.58,79.21 L216.85,79.28 L217.12,79.35 L217.40,79.44 L217.67,79.58 L217.94,79.70 L218.22,79.80 L218.49,79.87 L218.76,79.91 L219.04,79.91 L219.31,79.86 L219.58,79.76 L219.86,79.59 L220.13,79.33 L220.41,78.98 L220.68,78.53 L220.95,77.96 L221.23,77.27 L221.50,76.43 L221.77,75.45 L222.05,74.32 L222.32,73.04 L222.59,71.63 L222.87,70.11 L223.14,68.47 L223.42,66.73 L223.69,64.91 L223.96,63.05 L224.24,61.19 L224.51,59.36 L224.78,57.61 L225.06,55.99 L225.33,54.54 L225.60,53.29 L225.88,52.31 L226.15,51.60 L226.42,51.21 L226.70,51.14 L226.97,51.41 L227.25,52.01 L227.52,52.94 L227.79,54.18 L228.07,55.69 L228.34,57.45 L228.61,59.41 L228.89,61.53 L229.16,63.77 L229.43,66.07 L229.71,68.39 L229.98,70.71 L230.25,72.97 L230.53,75.15 L230.80,77.22 L231.08,79.16 L231.35,80.97 L231.62,82.63 L231.90,84.14 L232.17,85.50 L232.44,86.72 L232.72,87.80 L232.99,88.75 L233.26,89.59 L233.54,90.33 L233.81,90.98 L234.08,91.55 L234.36,92.06 L234.63,92.51 L234.91,92.91 L235.18,93.28 L235.45,93.61 L235.73,93.92 L236.00,94.21 L236.27,94.49 L236.55,94.76 L236.82,95.01 L237.09,95.26 L237.37,95.51 L237.64,95.75 L237.92,95.98 L238.19,96.22 L238.46,96.46 L238.74,96.69 L239.01,96.92 L239.28,97.16 L239.56,97.39 L239.83,97.62 L240.10,97.85 L240.38,98.08 L240.65,98.32 L240.92,98.55 L241.20,98.78 L241.47,99.01 L241.75,99.24 L242.02,99.48 L242.29,99.71 L242.57,99.85 L242.84,99.92 L243.11,100.00 L243.39,100.08 L243.66,100.16 L243.93,100.24 L244.21,100.31 L244.48,100.39 L244.75,100.47 L245.03,100.55 L245.30,100.62 L245.58,100.70 L245.85,100.78 L246.12,100.86 L246.40,100.93 L246.67,101.01 L246.94,101.09 L247.22,101.17 L247.49,101.25 L247.76,101.32 L248.04,101.40 L248.31,101.48 L248.58,101.56 L248.86,101.63 L249.13,101.71 L249.41,101.79 L249.68,101.87 L249.95,101.94 L250.23,102.02 L250.50,102.10" stroke="#a81c1c"/><path d="M207.00,77.00 L207.27,77.04 L207.55,77.08 L207.82,77.11 L208.09,77.15 L208.37,77.19 L208.64,77.23 L208.92,77.27 L209.19,77.31 L209.46,77.34 L209.74,77.38 L210.01,77.42 L210.28,77.46 L210.56,77.50 L210.83,77.54 L211.10,77.57 L211.38,77.61 L211.65,77.65 L211.92,77.69 L212.20,77.77 L212.47,77.86 L212.75,77.95 L213.02,78.05 L213.29,78.14 L213.57,78.23 L213.84,78.32 L214.11,78.42 L214.39,78.51 L214.66,78.60 L214.93,78.70 L215.21,78.79 L215.48,78.88 L215.75,78.97 L216.03,79.07 L216.30,79.16 L216.58,79.25 L216.85,79.35 L217.12,79.44 L217.40,79.56 L217.67,79.75 L217.94,79.93 L218.22,80.11 L218.49,80.29 L218.76,80.48 L219.04,80.66 L219.31,80.84 L219.58,81.01 L219.86,81.19 L220.13,81.36 L220.41,81.54 L220.68,81.70 L220.95,81.86 L221.23,82.02 L221.50,82.17 L221.77,82.31 L222.05,82.43 L222.32,82.55 L222.59,82.66 L222.87,82.78 L223.14,82.87 L223.42,82.94 L223.69,82.97 L223.96,82.96 L224.24,82.91 L224.51,82.80 L224.78,82.64 L225.06,82.41 L225.33,82.10 L225.60,81.71 L225.88,81.22 L226.15,80.64 L226.42,79.94 L226.70,79.13 L226.97,78.19 L227.25,77.12 L227.52,75.92 L227.79,74.58 L228.07,73.10 L228.34,71.49 L228.61,69.74 L228.89,67.86 L229.16,65.87 L229.43,63.77 L229.71,61.57 L229.98,59.31 L230.25,57.00 L230.53,54.67 L230.80,52.34 L231.08,50.04 L231.35,47.80 L231.62,45.66 L231.90,43.64 L232.17,41.79 L232.44,40.12 L232.72,38.67 L232.99,37.46 L233.26,36.51 L233.54,35.85 L233.81,35.49 L234.08,35.43 L234.36,35.69 L234.63,36.26 L234.91,37.13 L235.18,38.30 L235.45,39.76 L235.73,41.47 L236.00,43.43 L236.27,45.59 L236.55,47.94 L236.82,50.45 L237.09,53.07 L237.37,55.78 L237.64,58.56 L237.92,61.36 L238.19,64.15 L238.46,66.93 L238.74,69.64 L239.01,72.29 L239.28,74.84 L239.56,77.28 L239.83,79.60 L240.10,81.80 L240.38,83.85 L240.65,85.77 L240.92,87.55 L241.20,89.19 L241.47,90.70 L241.75,92.08 L242.02,93.33 L242.29,94.46 L242.57,95.40 L242.84,96.17 L243.11,96.85 L243.39,97.45 L243.66,97.98 L243.93,98.43 L244.21,98.83 L244.48,99.18 L244.75,99.49 L245.03,99.75 L245.30,99.99 L245.58,100.19 L245.85,100.38 L246.12,100.54 L246.40,100.68 L246.67,100.82 L246.94,100.94 L247.22,101.05 L247.49,101.15 L247.76,101.25 L248.04,101.35 L248.31,101.44 L248.58,101.53 L248.86,101.61 L249.13,101.69 L249.41,101.78 L249.68,101.86 L249.95,101.94 L250.23,102.02 L250.50,102.10" stroke="#a81c1c"/><path d="M207.00,77.00 L207.27,77.04 L207.55,77.08 L207.82,77.11 L208.09,77.15 L208.37,77.19 L208.64,77.23 L208.92,77.27 L209.19,77.31 L209.46,77.34 L209.74,77.38 L210.01,77.42 L210.28,77.46 L210.56,77.50 L210.83,77.54 L211.10,77.57 L211.38,77.61 L211.65,77.65 L211.92,77.69 L212.20,77.77 L212.47,77.86 L212.75,77.95 L213.02,78.05 L213.29,78.14 L213.57,78.23 L213.84,78.32 L214.11,78.42 L214.39,78.51 L214.66,78.60 L214.93,78.70 L215.21,78.79 L215.48,78.88 L215.75,78.98 L216.03,79.07 L216.30,79.16 L216.58,79.25 L216.85,79.35 L217.12,79.44 L217.40,79.56 L217.67,79.75 L217.94,79.93 L218.22,80.12 L218.49,80.30 L218.76,80.49 L219.04,80.67 L219.31,80.85 L219.58,81.04 L219.86,81.22 L220.13,81.41 L220.41,81.59 L220.68,81.77 L220.95,81.96 L221.23,82.14 L221.50,82.33 L221.77,82.51 L222.05,82.70 L222.32,82.88 L222.59,83.08 L222.87,83.30 L223.14,83.53 L223.42,83.76 L223.69,83.98 L223.96,84.21 L224.24,84.44 L224.51,84.66 L224.78,84.89 L225.06,85.11 L225.33,85.34 L225.60,85.57 L225.88,85.79 L226.15,86.02 L226.42,86.25 L226.70,86.47 L226.97,86.70 L227.25,86.92 L227.52,87.15 L227.79,87.38 L228.07,87.61 L228.34,87.85 L228.61,88.08 L228.89,88.31 L229.16,88.55 L229.43,88.78 L229.71,89.02 L229.98,89.25 L230.25,89.48 L230.53,89.72 L230.80,89.95 L231.08,90.18 L231.35,90.42 L231.62,90.65 L231.90,90.89 L232.17,91.12 L232.44,91.35 L232.72,91.59 L232.99,91.82 L233.26,92.05 L233.54,92.28 L233.81,92.51 L234.08,92.74 L234.36,92.97 L234.63,93.19 L234.91,93.40 L235.18,93.60 L235.45,93.79 L235.73,93.95 L236.00,94.07 L236.27,94.13 L236.55,94.13 L236.82,94.03 L237.09,93.82 L237.37,93.46 L237.64,92.93 L237.92,92.22 L238.19,91.30 L238.46,90.18 L238.74,88.86 L239.01,87.40 L239.28,85.82 L239.56,84.22 L239.83,82.66 L240.10,81.25 L240.38,80.08 L240.65,79.24 L240.92,78.80 L241.20,78.80 L241.47,79.26 L241.75,80.16 L242.02,81.46 L242.29,83.09 L242.57,84.86 L242.84,86.73 L243.11,88.64 L243.39,90.53 L243.66,92.31 L243.93,93.93 L244.21,95.37 L244.48,96.60 L244.75,97.63 L245.03,98.46 L245.30,99.13 L245.58,99.66 L245.85,100.07 L246.12,100.38 L246.40,100.62 L246.67,100.81 L246.94,100.97 L247.22,101.09 L247.49,101.20 L247.76,101.30 L248.04,101.39 L248.31,101.47 L248.58,101.55 L248.86,101.63 L249.13,101.71 L249.41,101.79 L249.68,101.87 L249.95,101.94 L250.23,102.02 L250.50,102.10" stroke="#a81c1c"/><path d="M208.37,76.43 L208.64,76.20 L208.92,75.89 L209.19,75.49 L209.46,75.00 L209.74,74.39 L210.01,73.66 L210.28,72.81 L210.56,71.84 L210.83,70.76 L211.10,69.57 L211.38,68.31 L211.65,67.01 L211.92,65.70 L212.20,64.46 L212.47,63.32 L212.75,62.32 L213.02,61.48 L213.29,60.87 L213.57,60.49 L213.84,60.39 L214.11,60.56 L214.39,61.00 L214.66,61.70 L214.93,62.63 L215.21,63.75 L215.48,65.02 L215.75,66.40 L216.03,67.83 L216.30,69.27 L216.58,70.69 L216.85,72.04 L217.12,73.30 L217.40,74.49 L217.67,75.62 L217.94,76.62 L218.22,77.50 L218.49,78.27 L218.76,78.93 L219.04,79.50 L219.31,79.98 L219.58,80.40" stroke="#1a1ae8" stroke-width="1.4"/></g></g>
<g fill="#fff" stroke="#3c3c3c" stroke-width="0.6"><g clip-path="url(#c1)"><circle cx="162.44" cy="75.85" r="1.6"/><circle cx="165.05" cy="76.28" r="1.6"/><circle cx="164.71" cy="73.62" r="1.6"/><circle cx="164.93" cy="71.86" r="1.6"/><circle cx="166.53" cy="71.29" r="1.6"/><circle cx="167.68" cy="70.29" r="1.6"/><circle cx="168.03" cy="69.07" r="1.6"/><circle cx="169.65" cy="68.50" r="1.6"/><circle cx="170.97" cy="69.16" r="1.6"/><circle cx="171.88" cy="67.70" r="1.6"/><circle cx="172.98" cy="66.08" r="1.6"/><circle cx="174.22" cy="63.24" r="1.6"/><circle cx="174.44" cy="59.26" r="1.6"/><circle cx="177.56" cy="57.97" r="1.6"/><circle cx="179.21" cy="55.92" r="1.6"/><circle cx="178.52" cy="52.21" r="1.6"/><circle cx="179.88" cy="50.06" r="1.6"/><circle cx="179.51" cy="47.11" r="1.6"/><circle cx="182.33" cy="46.57" r="1.6"/><circle cx="181.92" cy="43.33" r="1.6"/><circle cx="182.94" cy="41.43" r="1.6"/><circle cx="184.21" cy="40.13" r="1.6"/><circle cx="185.43" cy="38.54" r="1.6"/><circle cx="186.81" cy="36.86" r="1.6"/><circle cx="189.51" cy="36.73" r="1.6"/><circle cx="190.41" cy="35.35" r="1.6"/><circle cx="191.32" cy="33.71" r="1.6"/><circle cx="193.02" cy="34.40" r="1.6"/><circle cx="192.81" cy="37.02" r="1.6"/><circle cx="195.75" cy="37.16" r="1.6"/><circle cx="196.96" cy="39.14" r="1.6"/><circle cx="195.21" cy="45.16" r="1.6"/><circle cx="196.28" cy="49.36" r="1.6"/><circle cx="198.26" cy="51.93" r="1.6"/><circle cx="198.98" cy="55.63" r="1.6"/><circle cx="202.08" cy="58.12" r="1.6"/><circle cx="201.20" cy="64.84" r="1.6"/><circle cx="201.81" cy="69.28" r="1.6"/><circle cx="202.83" cy="72.44" r="1.6"/><circle cx="204.32" cy="74.41" r="1.6"/><circle cx="206.62" cy="74.08" r="1.6"/><circle cx="207.85" cy="74.04" r="1.6"/><circle cx="208.05" cy="71.71" r="1.6"/><circle cx="209.45" cy="69.33" r="1.6"/><circle cx="210.22" cy="66.71" r="1.6"/><circle cx="211.33" cy="64.61" r="1.6"/><circle cx="212.75" cy="63.19" r="1.6"/><circle cx="215.00" cy="62.69" r="1.6"/><circle cx="214.46" cy="56.30" r="1.6"/><circle cx="217.00" cy="51.20" r="1.6"/><circle cx="218.02" cy="44.54" r="1.6"/><circle cx="218.55" cy="38.60" r="1.6"/><circle cx="220.22" cy="35.47" r="1.6"/><circle cx="220.40" cy="31.65" r="1.6"/><circle cx="222.03" cy="29.33" r="1.6"/><circle cx="222.96" cy="27.48" r="1.6"/><circle cx="224.39" cy="26.14" r="1.6"/><circle cx="224.37" cy="28.91" r="1.6"/><circle cx="227.06" cy="29.40" r="1.6"/><circle cx="228.10" cy="31.62" r="1.6"/><circle cx="227.71" cy="32.26" r="1.6"/><circle cx="229.32" cy="31.30" r="1.6"/><circle cx="231.16" cy="29.51" r="1.6"/><circle cx="232.12" cy="26.79" r="1.6"/><circle cx="233.23" cy="25.14" r="1.6"/><circle cx="233.82" cy="22.56" r="1.6"/><circle cx="235.46" cy="23.95" r="1.6"/><circle cx="235.51" cy="26.57" r="1.6"/><circle cx="237.42" cy="33.67" r="1.6"/><circle cx="238.60" cy="43.38" r="1.6"/><circle cx="240.84" cy="50.61" r="1.6"/><circle cx="240.01" cy="58.80" r="1.6"/><circle cx="241.17" cy="66.86" r="1.6"/><circle cx="242.58" cy="75.53" r="1.6"/><circle cx="243.25" cy="83.69" r="1.6"/><circle cx="244.16" cy="88.75" r="1.6"/><circle cx="247.00" cy="91.45" r="1.6"/><circle cx="247.16" cy="93.61" r="1.6"/><circle cx="247.88" cy="95.42" r="1.6"/><circle cx="249.29" cy="96.63" r="1.6"/><circle cx="251.21" cy="95.85" r="1.6"/><circle cx="251.93" cy="96.90" r="1.6"/><circle cx="252.84" cy="98.42" r="1.6"/><circle cx="253.46" cy="99.12" r="1.6"/><circle cx="254.51" cy="99.27" r="1.6"/><circle cx="255.81" cy="99.45" r="1.6"/><circle cx="257.13" cy="98.10" r="1.6"/><circle cx="258.95" cy="98.76" r="1.6"/><circle cx="259.96" cy="99.30" r="1.6"/><circle cx="260.42" cy="99.99" r="1.6"/><circle cx="261.43" cy="102.07" r="1.6"/><circle cx="262.76" cy="102.02" r="1.6"/><circle cx="263.42" cy="101.32" r="1.6"/><circle cx="264.81" cy="100.38" r="1.6"/><circle cx="266.15" cy="102.28" r="1.6"/><circle cx="222.70" cy="27.40" r="1.6"/><circle cx="233.20" cy="23.90" r="1.6"/><circle cx="235.50" cy="23.90" r="1.6"/></g></g>
<line x1="170.40" y1="104.50" x2="170.40" y2="107.10" stroke="#4d4d4d" stroke-width="0.8"/>
<text x="170.40" y="112.50" font-size="5.2" text-anchor="middle" fill="#222" stroke="#222" stroke-width="0.22" >590</text>
<line x1="192.35" y1="104.50" x2="192.35" y2="107.10" stroke="#4d4d4d" stroke-width="0.8"/>
<text x="192.35" y="112.50" font-size="5.2" text-anchor="middle" fill="#222" stroke="#222" stroke-width="0.22" >585</text>
<line x1="214.30" y1="104.50" x2="214.30" y2="107.10" stroke="#4d4d4d" stroke-width="0.8"/>
<text x="214.30" y="112.50" font-size="5.2" text-anchor="middle" fill="#222" stroke="#222" stroke-width="0.22" >580</text>
<line x1="236.25" y1="104.50" x2="236.25" y2="107.10" stroke="#4d4d4d" stroke-width="0.8"/>
<text x="236.25" y="112.50" font-size="5.2" text-anchor="middle" fill="#222" stroke="#222" stroke-width="0.22" >575</text>
<line x1="258.20" y1="104.50" x2="258.20" y2="107.10" stroke="#4d4d4d" stroke-width="0.8"/>
<text x="258.20" y="112.50" font-size="5.2" text-anchor="middle" fill="#222" stroke="#222" stroke-width="0.22" >570</text>
<line x1="159.50" y1="95.12" x2="162.10" y2="95.12" stroke="#4d4d4d" stroke-width="0.8"/>
<text x="156.90" y="97.02" font-size="5.2" text-anchor="end" fill="#222" stroke="#222" stroke-width="0.22" >36</text>
<line x1="159.50" y1="83.25" x2="162.10" y2="83.25" stroke="#4d4d4d" stroke-width="0.8"/>
<text x="156.90" y="85.15" font-size="5.2" text-anchor="end" fill="#222" stroke="#222" stroke-width="0.22" >37</text>
<line x1="159.50" y1="71.38" x2="162.10" y2="71.38" stroke="#4d4d4d" stroke-width="0.8"/>
<text x="156.90" y="73.28" font-size="5.2" text-anchor="end" fill="#222" stroke="#222" stroke-width="0.22" >38</text>
<line x1="159.50" y1="59.51" x2="162.10" y2="59.51" stroke="#4d4d4d" stroke-width="0.8"/>
<text x="156.90" y="61.41" font-size="5.2" text-anchor="end" fill="#222" stroke="#222" stroke-width="0.22" >39</text>
<line x1="159.50" y1="47.64" x2="162.10" y2="47.64" stroke="#4d4d4d" stroke-width="0.8"/>
<text x="156.90" y="49.54" font-size="5.2" text-anchor="end" fill="#222" stroke="#222" stroke-width="0.22" >40</text>
<line x1="159.50" y1="35.77" x2="162.10" y2="35.77" stroke="#4d4d4d" stroke-width="0.8"/>
<text x="156.90" y="37.67" font-size="5.2" text-anchor="end" fill="#222" stroke="#222" stroke-width="0.22" >41</text>
<line x1="159.50" y1="23.90" x2="162.10" y2="23.90" stroke="#4d4d4d" stroke-width="0.8"/>
<text x="156.90" y="25.80" font-size="5.2" text-anchor="end" fill="#222" stroke="#222" stroke-width="0.22" >42</text>
<rect x="162.10" y="12.60" width="104.40" height="91.90" fill="none" stroke="#4d4d4d" stroke-width="1"/>
<text x="217.40" y="124.30" font-size="6.75" text-anchor="middle" fill="#111" stroke="#111" stroke-width="0.22" >Binding energy (eV)</text>
<text x="0" y="0" font-size="6.55" text-anchor="middle" fill="#111" stroke="#111" stroke-width="0.22" transform="translate(148.00,58.15) rotate(-90)">Intensity (10<tspan font-size="4.2" dy="-2.1">3</tspan><tspan dy="2.1"> CPS)</tspan></text>
<text x="172.10" y="99.50" font-size="13" text-anchor="start" fill="#111" stroke="#111" stroke-width="0.22" >CrB</text>
<clipPath id="c2"><rect x="301.3" y="12.6" width="104.19999999999999" height="91.9"/></clipPath>
<g clip-path="url(#c2)"><g fill="none" stroke-width="1.2" stroke-linejoin="round"><path d="M350.00,61.00 L350.42,60.50 L350.84,60.00 L351.26,59.50 L351.68,59.00 L352.10,58.50 L352.52,57.75 L352.94,57.00 L353.36,56.25 L353.78,55.55 L354.20,54.88 L354.62,54.21 L355.04,53.53 L355.46,52.86 L355.88,52.19 L356.30,51.47 L356.72,50.74 L357.14,50.00 L357.56,49.26 L357.98,48.53 L358.40,47.91 L358.82,47.30 L359.24,46.69 L359.66,46.07 L360.08,45.46 L360.50,44.77 L360.92,43.86 L361.34,42.95 L361.76,42.03 L362.18,41.12 L362.61,40.21 L363.03,39.36 L363.45,38.54 L363.87,37.72 L364.29,36.90 L364.71,36.08 L365.13,35.21 L365.55,34.25 L365.97,33.29 L366.39,32.32 L366.81,31.36 L367.23,30.40 L367.65,29.52 L368.07,28.69 L368.49,27.87 L368.91,27.05 L369.33,26.23 L369.75,25.46 L370.17,25.09 L370.59,24.73 L371.01,24.36 L371.43,24.00 L371.85,23.63 L372.27,24.03 L372.69,24.85 L373.11,25.67 L373.53,26.49 L373.95,27.31 L374.37,28.18 L374.79,29.28 L375.21,30.37 L375.63,31.47 L376.05,32.57 L376.47,33.66 L376.89,37.88 L377.31,44.13 L377.73,51.82 L378.15,54.76 L378.57,57.70 L378.99,60.37 L379.41,62.09 L379.83,63.81 L380.25,65.19 L380.67,66.35 L381.09,67.50 L381.51,68.44 L381.93,69.31 L382.35,70.17 L382.77,71.03 L383.19,71.86 L383.61,72.65 L384.03,73.45 L384.45,74.24 L384.87,75.02 L385.29,75.79 L385.71,76.56 L386.13,77.33 L386.55,78.08 L386.97,78.70 L387.39,79.32 L387.82,79.93 L388.24,80.55 L388.66,81.09 L389.08,81.64 L389.50,82.19 L389.92,82.74 L390.34,83.29 L390.76,83.81 L391.18,84.32 L391.60,84.84 L392.02,85.35 L392.44,85.86 L392.86,86.34 L393.28,86.67 L393.70,86.99 L394.12,87.32 L394.54,87.64 L394.96,87.97 L395.38,88.28 L395.80,88.60 L396.22,88.91 L396.64,89.23 L397.06,89.54 L397.48,89.91 L397.90,90.49 L398.32,91.06 L398.74,91.64 L399.16,92.20 L399.58,92.73 L400.00,93.00" stroke="#000" stroke-width="1.2"/><path d="M345.00,66.00 L345.35,66.01 L345.69,66.03 L346.04,66.04 L346.38,66.06 L346.73,66.07 L347.08,66.08 L347.42,66.10 L347.77,66.11 L348.11,66.12 L348.46,66.14 L348.81,66.15 L349.15,66.17 L349.50,66.18 L349.84,66.19 L350.19,66.25 L350.53,66.33 L350.88,66.42 L351.23,66.50 L351.57,66.59 L351.92,66.67 L352.26,66.76 L352.61,66.85 L352.96,66.93 L353.30,67.02 L353.65,67.10 L353.99,67.19 L354.34,67.27 L354.69,67.36 L355.03,67.44 L355.38,67.53 L355.72,67.62 L356.07,67.70 L356.42,67.79 L356.76,67.87 L357.11,67.96 L357.45,68.04 L357.80,68.13 L358.14,68.21 L358.49,68.30 L358.84,68.39 L359.18,68.47 L359.53,68.67 L359.87,68.94 L360.22,69.20 L360.57,69.46 L360.91,69.73 L361.26,69.99 L361.60,70.25 L361.95,70.52 L362.30,70.78 L362.64,71.04 L362.99,71.31 L363.33,71.57 L363.68,71.83 L364.03,72.10 L364.37,72.36 L364.72,72.62 L365.06,72.88 L365.41,73.15 L365.75,73.41 L366.10,73.67 L366.45,73.94 L366.79,74.20 L367.14,74.46 L367.48,74.73 L367.83,74.99 L368.18,75.25 L368.52,75.52 L368.87,75.86 L369.21,76.21 L369.56,76.55 L369.91,76.89 L370.25,77.23 L370.60,77.57 L370.94,77.92 L371.29,78.26 L371.64,78.60 L371.98,78.94 L372.33,79.29 L372.67,79.63 L373.02,79.97 L373.36,80.31 L373.71,80.65 L374.06,81.00 L374.40,81.34 L374.75,81.68 L375.09,82.02 L375.44,82.37 L375.79,82.71 L376.13,83.05 L376.48,83.39 L376.82,83.73 L377.17,84.08 L377.52,84.42 L377.86,84.74 L378.21,84.95 L378.55,85.17 L378.90,85.39 L379.25,85.60 L379.59,85.82 L379.94,86.03 L380.28,86.25 L380.63,86.46 L380.97,86.68 L381.32,86.90 L381.67,87.11 L382.01,87.33 L382.36,87.54 L382.70,87.76 L383.05,87.97 L383.40,88.19 L383.74,88.41 L384.09,88.62 L384.43,88.84 L384.78,89.05 L385.13,89.27 L385.47,89.48 L385.82,89.70 L386.16,89.92 L386.51,90.13 L386.86,90.35 L387.20,90.52 L387.55,90.58 L387.89,90.64 L388.24,90.70 L388.58,90.76 L388.93,90.82 L389.28,90.88 L389.62,90.94 L389.97,91.00 L390.31,91.06 L390.66,91.12 L391.01,91.18 L391.35,91.24 L391.70,91.30 L392.04,91.36 L392.39,91.42 L392.74,91.48 L393.08,91.54 L393.43,91.60 L393.77,91.66 L394.12,91.73 L394.47,91.80 L394.81,91.88 L395.16,91.95 L395.50,92.03 L395.85,92.10 L396.19,92.18 L396.54,92.25 L396.89,92.33 L397.23,92.40 L397.58,92.48 L397.92,92.55 L398.27,92.63 L398.62,92.70 L398.96,92.78 L399.31,92.85 L399.65,92.93 L400.00,93.00" stroke="#a81c1c"/><path d="M345.00,65.99 L345.35,66.00 L345.69,66.01 L346.04,66.01 L346.38,66.01 L346.73,66.01 L347.08,66.01 L347.42,66.00 L347.77,65.98 L348.11,65.96 L348.46,65.92 L348.81,65.87 L349.15,65.80 L349.50,65.72 L349.84,65.62 L350.19,65.52 L350.53,65.43 L350.88,65.31 L351.23,65.15 L351.57,64.94 L351.92,64.69 L352.26,64.38 L352.61,64.02 L352.96,63.60 L353.30,63.12 L353.65,62.57 L353.99,61.96 L354.34,61.30 L354.69,60.57 L355.03,59.79 L355.38,58.97 L355.72,58.11 L356.07,57.22 L356.42,56.32 L356.76,55.42 L357.11,54.54 L357.45,53.68 L357.80,52.88 L358.14,52.15 L358.49,51.49 L358.84,50.93 L359.18,50.49 L359.53,50.28 L359.87,50.26 L360.22,50.38 L360.57,50.64 L360.91,51.04 L361.26,51.58 L361.60,52.25 L361.95,53.04 L362.30,53.94 L362.64,54.94 L362.99,56.02 L363.33,57.17 L363.68,58.37 L364.03,59.60 L364.37,60.85 L364.72,62.10 L365.06,63.34 L365.41,64.55 L365.75,65.72 L366.10,66.85 L366.45,67.93 L366.79,68.95 L367.14,69.91 L367.48,70.80 L367.83,71.63 L368.18,72.41 L368.52,73.12 L368.87,73.86 L369.21,74.54 L369.56,75.18 L369.91,75.77 L370.25,76.33 L370.60,76.84 L370.94,77.33 L371.29,77.80 L371.64,78.24 L371.98,78.66 L372.33,79.06 L372.67,79.46 L373.02,79.84 L373.36,80.21 L373.71,80.58 L374.06,80.94 L374.40,81.30 L374.75,81.65 L375.09,82.00 L375.44,82.35 L375.79,82.70 L376.13,83.04 L376.48,83.39 L376.82,83.73 L377.17,84.07 L377.52,84.42 L377.86,84.74 L378.21,84.95 L378.55,85.17 L378.90,85.39 L379.25,85.60 L379.59,85.82 L379.94,86.03 L380.28,86.25 L380.63,86.46 L380.97,86.68 L381.32,86.90 L381.67,87.11 L382.01,87.33 L382.36,87.54 L382.70,87.76 L383.05,87.97 L383.40,88.19 L383.74,88.41 L384.09,88.62 L384.43,88.84 L384.78,89.05 L385.13,89.27 L385.47,89.48 L385.82,89.70 L386.16,89.92 L386.51,90.13 L386.86,90.35 L387.20,90.52 L387.55,90.58 L387.89,90.64 L388.24,90.70 L388.58,90.76 L388.93,90.82 L389.28,90.88 L389.62,90.94 L389.97,91.00 L390.31,91.06 L390.66,91.12 L391.01,91.18 L391.35,91.24 L391.70,91.30 L392.04,91.36 L392.39,91.42 L392.74,91.48 L393.08,91.54 L393.43,91.60 L393.77,91.66 L394.12,91.73 L394.47,91.80 L394.81,91.88 L395.16,91.95 L395.50,92.03 L395.85,92.10 L396.19,92.18 L396.54,92.25 L396.89,92.33 L397.23,92.40 L397.58,92.48 L397.92,92.55 L398.27,92.63 L398.62,92.70 L398.96,92.78 L399.31,92.85 L399.65,92.93 L400.00,93.00" stroke="#a81c1c"/><path d="M345.00,66.00 L345.35,66.01 L345.69,66.03 L346.04,66.04 L346.38,66.06 L346.73,66.07 L347.08,66.08 L347.42,66.10 L347.77,66.11 L348.11,66.12 L348.46,66.14 L348.81,66.15 L349.15,66.17 L349.50,66.18 L349.84,66.19 L350.19,66.25 L350.53,66.33 L350.88,66.42 L351.23,66.50 L351.57,66.59 L351.92,66.67 L352.26,66.76 L352.61,66.84 L352.96,66.93 L353.30,67.01 L353.65,67.09 L353.99,67.18 L354.34,67.26 L354.69,67.33 L355.03,67.41 L355.38,67.48 L355.72,67.55 L356.07,67.61 L356.42,67.67 L356.76,67.71 L357.11,67.74 L357.45,67.76 L357.80,67.75 L358.14,67.73 L358.49,67.67 L358.84,67.57 L359.18,67.43 L359.53,67.36 L359.87,67.28 L360.22,67.13 L360.57,66.90 L360.91,66.58 L361.26,66.15 L361.60,65.60 L361.95,64.92 L362.30,64.10 L362.64,63.13 L362.99,62.00 L363.33,60.71 L363.68,59.26 L364.03,57.64 L364.37,55.86 L364.72,53.94 L365.06,51.89 L365.41,49.72 L365.75,47.47 L366.10,45.16 L366.45,42.83 L366.79,40.51 L367.14,38.26 L367.48,36.11 L367.83,34.10 L368.18,32.28 L368.52,30.70 L368.87,29.45 L369.21,28.52 L369.56,27.91 L369.91,27.65 L370.25,27.76 L370.60,28.23 L370.94,29.07 L371.29,30.27 L371.64,31.80 L371.98,33.65 L372.33,35.77 L372.67,38.13 L373.02,40.70 L373.36,43.42 L373.71,46.25 L374.06,49.16 L374.40,52.10 L374.75,55.02 L375.09,57.90 L375.44,60.70 L375.79,63.39 L376.13,65.96 L376.48,68.38 L376.82,70.65 L377.17,72.75 L377.52,74.70 L377.86,76.45 L378.21,77.94 L378.55,79.28 L378.90,80.48 L379.25,81.54 L379.59,82.48 L379.94,83.32 L380.28,84.05 L380.63,84.70 L380.97,85.27 L381.32,85.78 L381.67,86.24 L382.01,86.65 L382.36,87.02 L382.70,87.35 L383.05,87.67 L383.40,87.96 L383.74,88.23 L384.09,88.49 L384.43,88.74 L384.78,88.98 L385.13,89.22 L385.47,89.45 L385.82,89.67 L386.16,89.90 L386.51,90.12 L386.86,90.34 L387.20,90.51 L387.55,90.57 L387.89,90.63 L388.24,90.70 L388.58,90.76 L388.93,90.82 L389.28,90.88 L389.62,90.94 L389.97,91.00 L390.31,91.06 L390.66,91.12 L391.01,91.18 L391.35,91.24 L391.70,91.30 L392.04,91.36 L392.39,91.42 L392.74,91.48 L393.08,91.54 L393.43,91.60 L393.77,91.66 L394.12,91.73 L394.47,91.80 L394.81,91.88 L395.16,91.95 L395.50,92.03 L395.85,92.10 L396.19,92.18 L396.54,92.25 L396.89,92.33 L397.23,92.40 L397.58,92.48 L397.92,92.55 L398.27,92.63 L398.62,92.70 L398.96,92.78 L399.31,92.85 L399.65,92.93 L400.00,93.00" stroke="#a81c1c"/><path d="M345.00,66.00 L345.35,66.01 L345.69,66.03 L346.04,66.04 L346.38,66.06 L346.73,66.07 L347.08,66.08 L347.42,66.10 L347.77,66.11 L348.11,66.12 L348.46,66.14 L348.81,66.15 L349.15,66.17 L349.50,66.18 L349.84,66.19 L350.19,66.25 L350.53,66.33 L350.88,66.42 L351.23,66.50 L351.57,66.59 L351.92,66.67 L352.26,66.76 L352.61,66.85 L352.96,66.93 L353.30,67.02 L353.65,67.10 L353.99,67.19 L354.34,67.27 L354.69,67.36 L355.03,67.44 L355.38,67.53 L355.72,67.62 L356.07,67.70 L356.42,67.79 L356.76,67.87 L357.11,67.96 L357.45,68.04 L357.80,68.13 L358.14,68.21 L358.49,68.30 L358.84,68.39 L359.18,68.47 L359.53,68.67 L359.87,68.94 L360.22,69.20 L360.57,69.46 L360.91,69.73 L361.26,69.99 L361.60,70.25 L361.95,70.52 L362.30,70.78 L362.64,71.04 L362.99,71.31 L363.33,71.57 L363.68,71.83 L364.03,72.10 L364.37,72.36 L364.72,72.62 L365.06,72.88 L365.41,73.15 L365.75,73.41 L366.10,73.67 L366.45,73.94 L366.79,74.20 L367.14,74.46 L367.48,74.73 L367.83,74.99 L368.18,75.25 L368.52,75.52 L368.87,75.86 L369.21,76.21 L369.56,76.55 L369.91,76.89 L370.25,77.23 L370.60,77.57 L370.94,77.92 L371.29,78.26 L371.64,78.60 L371.98,78.93 L372.33,79.25 L372.67,79.54 L373.02,79.77 L373.36,79.87 L373.71,79.76 L374.06,79.31 L374.40,78.36 L374.75,76.79 L375.09,74.54 L375.44,71.70 L375.79,68.54 L376.13,65.52 L376.48,63.18 L376.82,62.03 L377.17,62.35 L377.52,64.17 L377.86,67.15 L378.21,70.72 L378.55,74.44 L378.90,77.85 L379.25,80.67 L379.59,82.81 L379.94,84.33 L380.28,85.35 L380.63,86.02 L380.97,86.48 L381.32,86.81 L381.67,87.08 L382.01,87.31 L382.36,87.54 L382.70,87.76 L383.05,87.97 L383.40,88.19 L383.74,88.41 L384.09,88.62 L384.43,88.84 L384.78,89.05 L385.13,89.27 L385.47,89.48 L385.82,89.70 L386.16,89.92 L386.51,90.13 L386.86,90.35 L387.20,90.52 L387.55,90.58 L387.89,90.64 L388.24,90.70 L388.58,90.76 L388.93,90.82 L389.28,90.88 L389.62,90.94 L389.97,91.00 L390.31,91.06 L390.66,91.12 L391.01,91.18 L391.35,91.24 L391.70,91.30 L392.04,91.36 L392.39,91.42 L392.74,91.48 L393.08,91.54 L393.43,91.60 L393.77,91.66 L394.12,91.73 L394.47,91.80 L394.81,91.88 L395.16,91.95 L395.50,92.03 L395.85,92.10 L396.19,92.18 L396.54,92.25 L396.89,92.33 L397.23,92.40 L397.58,92.48 L397.92,92.55 L398.27,92.63 L398.62,92.70 L398.96,92.78 L399.31,92.85 L399.65,92.93 L400.00,93.00" stroke="#a81c1c"/><path d="M345.00,66.00 L345.35,66.01 L345.69,66.03 L346.04,66.04 L346.38,66.06 L346.73,66.07 L347.08,66.08 L347.42,66.10 L347.77,66.11 L348.11,66.12 L348.46,66.14 L348.81,66.15 L349.15,66.17 L349.50,66.18 L349.84,66.19 L350.19,66.25 L350.53,66.33 L350.88,66.42 L351.23,66.50 L351.57,66.59 L351.92,66.67 L352.26,66.76 L352.61,66.85 L352.96,66.93 L353.30,67.02 L353.65,67.10 L353.99,67.19 L354.34,67.27 L354.69,67.36 L355.03,67.44 L355.38,67.53 L355.72,67.62 L356.07,67.70 L356.42,67.79 L356.76,67.87 L357.11,67.96 L357.45,68.04 L357.80,68.13 L358.14,68.21 L358.49,68.30 L358.84,68.39 L359.18,68.47 L359.53,68.67 L359.87,68.94 L360.22,69.20 L360.57,69.46 L360.91,69.73 L361.26,69.99 L361.60,70.25 L361.95,70.52 L362.30,70.78 L362.64,71.04 L362.99,71.31 L363.33,71.57 L363.68,71.83 L364.03,72.10 L364.37,72.36 L364.72,72.62 L365.06,72.88 L365.41,73.15 L365.75,73.41 L366.10,73.67 L366.45,73.94 L366.79,74.20 L367.14,74.46 L367.48,74.73 L367.83,74.99 L368.18,75.25 L368.52,75.52 L368.87,75.86 L369.21,76.21 L369.56,76.55 L369.91,76.89 L370.25,77.23 L370.60,77.57 L370.94,77.92 L371.29,78.26 L371.64,78.60 L371.98,78.94 L372.33,79.29 L372.67,79.63 L373.02,79.97 L373.36,80.31 L373.71,80.65 L374.06,80.99 L374.40,81.33 L374.75,81.66 L375.09,81.97 L375.44,82.25 L375.79,82.44 L376.13,82.50 L376.48,82.34 L376.82,81.84 L377.17,80.92 L377.52,79.50 L377.86,77.62 L378.21,75.34 L378.55,73.08 L378.90,71.22 L379.25,70.14 L379.59,70.10 L379.94,71.14 L380.28,73.10 L380.63,75.65 L380.97,78.40 L381.32,80.99 L381.67,83.18 L382.01,84.89 L382.36,86.14 L382.70,87.00 L383.05,87.60 L383.40,88.01 L383.74,88.33 L384.09,88.59 L384.43,88.83 L384.78,89.05 L385.13,89.27 L385.47,89.48 L385.82,89.70 L386.16,89.92 L386.51,90.13 L386.86,90.35 L387.20,90.52 L387.55,90.58 L387.89,90.64 L388.24,90.70 L388.58,90.76 L388.93,90.82 L389.28,90.88 L389.62,90.94 L389.97,91.00 L390.31,91.06 L390.66,91.12 L391.01,91.18 L391.35,91.24 L391.70,91.30 L392.04,91.36 L392.39,91.42 L392.74,91.48 L393.08,91.54 L393.43,91.60 L393.77,91.66 L394.12,91.73 L394.47,91.80 L394.81,91.88 L395.16,91.95 L395.50,92.03 L395.85,92.10 L396.19,92.18 L396.54,92.25 L396.89,92.33 L397.23,92.40 L397.58,92.48 L397.92,92.55 L398.27,92.63 L398.62,92.70 L398.96,92.78 L399.31,92.85 L399.65,92.93 L400.00,93.00" stroke="#a81c1c"/><path d="M345.00,66.00 L345.35,66.01 L345.69,66.03 L346.04,66.04 L346.38,66.06 L346.73,66.07 L347.08,66.08 L347.42,66.10 L347.77,66.11 L348.11,66.12 L348.46,66.14 L348.81,66.15 L349.15,66.17 L349.50,66.18 L349.84,66.19 L350.19,66.25 L350.53,66.33 L350.88,66.42 L351.23,66.50 L351.57,66.59 L351.92,66.67 L352.26,66.76 L352.61,66.85 L352.96,66.93 L353.30,67.02 L353.65,67.10 L353.99,67.19 L354.34,67.27 L354.69,67.36 L355.03,67.44 L355.38,67.53 L355.72,67.62 L356.07,67.70 L356.42,67.79 L356.76,67.87 L357.11,67.96 L357.45,68.04 L357.80,68.13 L358.14,68.21 L358.49,68.30 L358.84,68.39 L359.18,68.47 L359.53,68.67 L359.87,68.94 L360.22,69.20 L360.57,69.46 L360.91,69.73 L361.26,69.99 L361.60,70.25 L361.95,70.52 L362.30,70.78 L362.64,71.04 L362.99,71.31 L363.33,71.57 L363.68,71.83 L364.03,72.10 L364.37,72.36 L364.72,72.62 L365.06,72.88 L365.41,73.15 L365.75,73.41 L366.10,73.67 L366.45,73.94 L366.79,74.20 L367.14,74.46 L367.48,74.73 L367.83,74.99 L368.18,75.25 L368.52,75.52 L368.87,75.86 L369.21,76.21 L369.56,76.55 L369.91,76.89 L370.25,77.23 L370.60,77.57 L370.94,77.92 L371.29,78.26 L371.64,78.60 L371.98,78.94 L372.33,79.29 L372.67,79.63 L373.02,79.97 L373.36,80.31 L373.71,80.65 L374.06,81.00 L374.40,81.34 L374.75,81.68 L375.09,82.02 L375.44,82.37 L375.79,82.71 L376.13,83.05 L376.48,83.39 L376.82,83.73 L377.17,84.07 L377.52,84.39 L377.86,84.67 L378.21,84.81 L378.55,84.86 L378.90,84.79 L379.25,84.51 L379.59,83.96 L379.94,83.10 L380.28,81.93 L380.63,80.55 L380.97,79.12 L381.32,77.89 L381.67,77.13 L382.01,77.01 L382.36,77.61 L382.70,78.85 L383.05,80.53 L383.40,82.39 L383.74,84.20 L384.09,85.78 L384.43,87.05 L384.78,88.00 L385.13,88.70 L385.47,89.19 L385.82,89.56 L386.16,89.85 L386.51,90.11 L386.86,90.34 L387.20,90.51 L387.55,90.58 L387.89,90.64 L388.24,90.70 L388.58,90.76 L388.93,90.82 L389.28,90.88 L389.62,90.94 L389.97,91.00 L390.31,91.06 L390.66,91.12 L391.01,91.18 L391.35,91.24 L391.70,91.30 L392.04,91.36 L392.39,91.42 L392.74,91.48 L393.08,91.54 L393.43,91.60 L393.77,91.66 L394.12,91.73 L394.47,91.80 L394.81,91.88 L395.16,91.95 L395.50,92.03 L395.85,92.10 L396.19,92.18 L396.54,92.25 L396.89,92.33 L397.23,92.40 L397.58,92.48 L397.92,92.55 L398.27,92.63 L398.62,92.70 L398.96,92.78 L399.31,92.85 L399.65,92.93 L400.00,93.00" stroke="#a81c1c"/><path d="M349.50,65.53 L349.84,65.34 L350.19,65.14 L350.53,64.94 L350.88,64.69 L351.23,64.40 L351.57,64.07 L351.92,63.73 L352.26,63.37 L352.61,63.03 L352.96,62.71 L353.30,62.44 L353.65,62.23 L353.99,62.10 L354.34,62.06 L354.69,62.12 L355.03,62.28 L355.38,62.54 L355.72,62.88 L356.07,63.29 L356.42,63.76 L356.76,64.27 L357.11,64.79 L357.45,65.31 L357.80,65.82 L358.14,66.30 L358.49,66.74 L358.84,67.14 L359.18,67.49 L359.53,67.92" stroke="#1a1ae8" stroke-width="1.4"/></g></g>
<g fill="#fff" stroke="#3c3c3c" stroke-width="0.6"><g clip-path="url(#c2)"><circle cx="301.32" cy="63.91" r="1.6"/><circle cx="302.45" cy="63.43" r="1.6"/><circle cx="304.05" cy="64.10" r="1.6"/><circle cx="305.42" cy="63.58" r="1.6"/><circle cx="305.63" cy="61.28" r="1.6"/><circle cx="308.00" cy="61.51" r="1.6"/><circle cx="309.91" cy="60.86" r="1.6"/><circle cx="309.86" cy="58.51" r="1.6"/><circle cx="311.04" cy="56.92" r="1.6"/><circle cx="313.20" cy="57.18" r="1.6"/><circle cx="313.88" cy="55.37" r="1.6"/><circle cx="314.70" cy="53.62" r="1.6"/><circle cx="315.93" cy="52.21" r="1.6"/><circle cx="318.09" cy="52.43" r="1.6"/><circle cx="318.18" cy="50.35" r="1.6"/><circle cx="319.98" cy="48.89" r="1.6"/><circle cx="321.67" cy="46.87" r="1.6"/><circle cx="322.07" cy="45.30" r="1.6"/><circle cx="323.60" cy="44.80" r="1.6"/><circle cx="323.32" cy="41.02" r="1.6"/><circle cx="325.46" cy="40.49" r="1.6"/><circle cx="326.55" cy="39.25" r="1.6"/><circle cx="328.09" cy="39.28" r="1.6"/><circle cx="328.68" cy="39.53" r="1.6"/><circle cx="330.58" cy="39.72" r="1.6"/><circle cx="331.72" cy="41.65" r="1.6"/><circle cx="332.42" cy="43.46" r="1.6"/><circle cx="333.19" cy="44.67" r="1.6"/><circle cx="333.46" cy="46.83" r="1.6"/><circle cx="333.69" cy="48.40" r="1.6"/><circle cx="335.00" cy="49.77" r="1.6"/><circle cx="335.77" cy="50.80" r="1.6"/><circle cx="335.34" cy="54.01" r="1.6"/><circle cx="338.91" cy="53.61" r="1.6"/><circle cx="337.92" cy="57.58" r="1.6"/><circle cx="339.43" cy="58.40" r="1.6"/><circle cx="338.98" cy="60.35" r="1.6"/><circle cx="341.71" cy="60.93" r="1.6"/><circle cx="343.32" cy="61.78" r="1.6"/><circle cx="344.84" cy="63.54" r="1.6"/><circle cx="345.59" cy="65.29" r="1.6"/><circle cx="346.10" cy="65.67" r="1.6"/><circle cx="346.81" cy="63.91" r="1.6"/><circle cx="348.73" cy="62.66" r="1.6"/><circle cx="350.58" cy="61.02" r="1.6"/><circle cx="350.94" cy="58.87" r="1.6"/><circle cx="352.58" cy="57.10" r="1.6"/><circle cx="353.52" cy="54.84" r="1.6"/><circle cx="355.92" cy="53.57" r="1.6"/><circle cx="356.65" cy="51.08" r="1.6"/><circle cx="357.81" cy="49.11" r="1.6"/><circle cx="358.18" cy="46.54" r="1.6"/><circle cx="360.65" cy="45.58" r="1.6"/><circle cx="361.14" cy="44.34" r="1.6"/><circle cx="362.19" cy="43.13" r="1.6"/><circle cx="361.73" cy="41.07" r="1.6"/><circle cx="362.36" cy="39.55" r="1.6"/><circle cx="364.59" cy="37.71" r="1.6"/><circle cx="364.79" cy="36.60" r="1.6"/><circle cx="365.47" cy="35.10" r="1.6"/><circle cx="366.14" cy="33.31" r="1.6"/><circle cx="367.12" cy="32.42" r="1.6"/><circle cx="367.42" cy="30.28" r="1.6"/><circle cx="367.49" cy="28.92" r="1.6"/><circle cx="368.36" cy="26.41" r="1.6"/><circle cx="370.37" cy="25.19" r="1.6"/><circle cx="372.26" cy="24.55" r="1.6"/><circle cx="372.81" cy="24.76" r="1.6"/><circle cx="373.24" cy="27.96" r="1.6"/><circle cx="374.42" cy="28.56" r="1.6"/><circle cx="376.20" cy="29.83" r="1.6"/><circle cx="375.70" cy="32.15" r="1.6"/><circle cx="375.66" cy="34.30" r="1.6"/><circle cx="377.04" cy="34.70" r="1.6"/><circle cx="377.06" cy="37.63" r="1.6"/><circle cx="377.40" cy="39.43" r="1.6"/><circle cx="377.22" cy="42.32" r="1.6"/><circle cx="377.47" cy="45.68" r="1.6"/><circle cx="377.39" cy="49.45" r="1.6"/><circle cx="377.12" cy="52.45" r="1.6"/><circle cx="378.43" cy="54.18" r="1.6"/><circle cx="378.04" cy="56.48" r="1.6"/><circle cx="378.37" cy="58.71" r="1.6"/><circle cx="378.53" cy="60.61" r="1.6"/><circle cx="379.35" cy="62.62" r="1.6"/><circle cx="381.16" cy="64.75" r="1.6"/><circle cx="380.66" cy="67.21" r="1.6"/><circle cx="382.08" cy="67.92" r="1.6"/><circle cx="382.10" cy="69.59" r="1.6"/><circle cx="381.75" cy="71.61" r="1.6"/><circle cx="383.85" cy="73.36" r="1.6"/><circle cx="386.07" cy="75.17" r="1.6"/><circle cx="386.78" cy="77.78" r="1.6"/><circle cx="387.17" cy="80.10" r="1.6"/><circle cx="389.85" cy="80.92" r="1.6"/><circle cx="389.15" cy="83.88" r="1.6"/><circle cx="391.87" cy="84.65" r="1.6"/><circle cx="392.54" cy="86.79" r="1.6"/><circle cx="394.25" cy="87.28" r="1.6"/><circle cx="395.80" cy="87.35" r="1.6"/><circle cx="395.99" cy="89.78" r="1.6"/><circle cx="397.82" cy="90.19" r="1.6"/><circle cx="399.39" cy="91.83" r="1.6"/><circle cx="399.29" cy="94.28" r="1.6"/><circle cx="332.40" cy="47.00" r="1.6"/></g></g>
<line x1="309.80" y1="104.50" x2="309.80" y2="107.10" stroke="#4d4d4d" stroke-width="0.8"/>
<text x="309.80" y="112.50" font-size="5.2" text-anchor="middle" fill="#222" stroke="#222" stroke-width="0.22" >590</text>
<line x1="331.53" y1="104.50" x2="331.53" y2="107.10" stroke="#4d4d4d" stroke-width="0.8"/>
<text x="331.53" y="112.50" font-size="5.2" text-anchor="middle" fill="#222" stroke="#222" stroke-width="0.22" >585</text>
<line x1="353.25" y1="104.50" x2="353.25" y2="107.10" stroke="#4d4d4d" stroke-width="0.8"/>
<text x="353.25" y="112.50" font-size="5.2" text-anchor="middle" fill="#222" stroke="#222" stroke-width="0.22" >580</text>
<line x1="374.98" y1="104.50" x2="374.98" y2="107.10" stroke="#4d4d4d" stroke-width="0.8"/>
<text x="374.98" y="112.50" font-size="5.2" text-anchor="middle" fill="#222" stroke="#222" stroke-width="0.22" >575</text>
<line x1="396.70" y1="104.50" x2="396.70" y2="107.10" stroke="#4d4d4d" stroke-width="0.8"/>
<text x="396.70" y="112.50" font-size="5.2" text-anchor="middle" fill="#222" stroke="#222" stroke-width="0.22" >570</text>
<line x1="298.70" y1="102.70" x2="301.30" y2="102.70" stroke="#4d4d4d" stroke-width="0.8"/>
<text x="296.10" y="104.60" font-size="5.2" text-anchor="end" fill="#222" stroke="#222" stroke-width="0.22" >28</text>
<line x1="298.70" y1="89.00" x2="301.30" y2="89.00" stroke="#4d4d4d" stroke-width="0.8"/>
<text x="296.10" y="90.90" font-size="5.2" text-anchor="end" fill="#222" stroke="#222" stroke-width="0.22" >30</text>
<line x1="298.70" y1="75.30" x2="301.30" y2="75.30" stroke="#4d4d4d" stroke-width="0.8"/>
<text x="296.10" y="77.20" font-size="5.2" text-anchor="end" fill="#222" stroke="#222" stroke-width="0.22" >32</text>
<line x1="298.70" y1="61.60" x2="301.30" y2="61.60" stroke="#4d4d4d" stroke-width="0.8"/>
<text x="296.10" y="63.50" font-size="5.2" text-anchor="end" fill="#222" stroke="#222" stroke-width="0.22" >34</text>
<line x1="298.70" y1="47.90" x2="301.30" y2="47.90" stroke="#4d4d4d" stroke-width="0.8"/>
<text x="296.10" y="49.80" font-size="5.2" text-anchor="end" fill="#222" stroke="#222" stroke-width="0.22" >36</text>
<line x1="298.70" y1="34.20" x2="301.30" y2="34.20" stroke="#4d4d4d" stroke-width="0.8"/>
<text x="296.10" y="36.10" font-size="5.2" text-anchor="end" fill="#222" stroke="#222" stroke-width="0.22" >38</text>
<line x1="298.70" y1="20.50" x2="301.30" y2="20.50" stroke="#4d4d4d" stroke-width="0.8"/>
<text x="296.10" y="22.40" font-size="5.2" text-anchor="end" fill="#222" stroke="#222" stroke-width="0.22" >40</text>
<rect x="301.30" y="12.60" width="104.20" height="91.90" fill="none" stroke="#4d4d4d" stroke-width="1"/>
<text x="353.60" y="122.90" font-size="6.75" text-anchor="middle" fill="#111" stroke="#111" stroke-width="0.22" >Binding energy (eV)</text>
<text x="0" y="0" font-size="6.55" text-anchor="middle" fill="#111" stroke="#111" stroke-width="0.22" transform="translate(287.20,58.15) rotate(-90)">Intensity (10<tspan font-size="4.2" dy="-2.1">3</tspan><tspan dy="2.1"> CPS)</tspan></text>
<text x="309.50" y="98.30" font-size="12.7" text-anchor="start" fill="#111" stroke="#111" stroke-width="0.22" >CrS</text>
<clipPath id="c3"><rect x="440.5" y="12.6" width="104.5" height="91.9"/></clipPath>
<g clip-path="url(#c3)"><g fill="none" stroke-width="1.2" stroke-linejoin="round"><path d="M478.00,66.50 L478.26,66.52 L478.53,66.54 L478.79,66.56 L479.06,66.58 L479.32,66.60 L479.59,66.62 L479.85,66.64 L480.12,66.66 L480.38,66.68 L480.65,66.70 L480.91,66.72 L481.18,66.74 L481.44,66.76 L481.71,66.78 L481.97,66.80 L482.24,66.82 L482.50,66.84 L482.77,66.86 L483.03,66.88 L483.30,66.90 L483.56,66.92 L483.83,66.94 L484.09,66.96 L484.35,66.98 L484.62,67.00 L484.88,67.02 L485.15,67.04 L485.41,67.05 L485.68,67.07 L485.94,67.09 L486.21,67.11 L486.47,67.12 L486.74,67.14 L487.00,67.14 L487.27,67.15 L487.53,67.14 L487.80,67.11 L488.06,67.07 L488.33,67.00 L488.59,66.90 L488.86,66.74 L489.12,66.53 L489.39,66.24 L489.65,65.85 L489.92,65.35 L490.18,64.75 L490.44,64.03 L490.71,63.14 L490.97,62.09 L491.24,60.88 L491.50,59.51 L491.77,58.00 L492.03,56.38 L492.30,54.67 L492.56,52.91 L492.83,51.14 L493.09,49.38 L493.36,47.68 L493.62,46.05 L493.89,44.48 L494.15,42.98 L494.42,41.54 L494.68,40.12 L494.95,38.73 L495.21,37.34 L495.48,35.96 L495.74,34.61 L496.01,33.35 L496.27,32.23 L496.53,31.34 L496.80,30.77 L497.06,30.60 L497.33,30.89 L497.59,31.70 L497.86,33.04 L498.12,34.86 L498.39,37.10 L498.65,39.65 L498.92,42.38 L499.18,45.12 L499.45,47.71 L499.71,50.00 L499.98,51.85 L500.24,53.13 L500.51,53.77 L500.77,53.71 L501.04,52.95 L501.30,51.54 L501.57,49.56 L501.83,47.12 L502.09,44.38 L502.36,41.52 L502.62,38.75 L502.89,36.24 L503.15,34.17 L503.42,32.69 L503.68,31.89 L503.95,31.81 L504.21,32.44 L504.48,33.70 L504.74,35.44 L505.01,37.51 L505.27,39.71 L505.54,41.84 L505.80,43.73 L506.07,45.22 L506.33,46.21 L506.60,46.66 L506.86,46.57 L507.13,46.02 L507.39,45.12 L507.66,44.01 L507.92,42.87 L508.18,41.85 L508.45,41.11 L508.71,40.76 L508.98,40.89 L509.24,41.52 L509.51,42.64 L509.77,44.16 L510.04,45.99 L510.30,47.99 L510.57,50.02 L510.83,51.95 L511.10,53.66 L511.36,55.05 L511.63,56.08 L511.89,56.72 L512.16,57.01 L512.42,57.01 L512.69,56.78 L512.95,56.45 L513.22,56.10 L513.48,55.82 L513.75,55.72 L514.01,55.86 L514.27,56.29 L514.54,57.01 L514.80,58.00 L515.07,59.22 L515.33,60.63 L515.60,62.14 L515.86,63.70 L516.13,65.24 L516.39,66.71 L516.66,68.06 L516.92,69.26 L517.19,70.31 L517.45,71.19 L517.72,71.91 L517.98,72.50 L518.25,72.96 L518.51,73.31 L518.78,73.59 L519.04,73.80 L519.31,73.95 L519.57,74.07 L519.84,74.17 L520.10,74.25" stroke="#000" stroke-width="0.9"/><path d="M478.00,66.50 L478.26,66.52 L478.53,66.54 L478.79,66.56 L479.06,66.58 L479.32,66.60 L479.59,66.62 L479.85,66.64 L480.12,66.66 L480.38,66.68 L480.65,66.70 L480.91,66.72 L481.18,66.74 L481.44,66.76 L481.71,66.78 L481.97,66.80 L482.24,66.82 L482.50,66.84 L482.77,66.86 L483.03,66.88 L483.30,66.90 L483.56,66.92 L483.83,66.94 L484.09,66.96 L484.35,66.98 L484.62,67.00 L484.88,67.02 L485.15,67.04 L485.41,67.06 L485.68,67.08 L485.94,67.10 L486.21,67.12 L486.47,67.14 L486.74,67.16 L487.00,67.18 L487.27,67.20 L487.53,67.21 L487.80,67.23 L488.06,67.25 L488.33,67.27 L488.59,67.29 L488.86,67.31 L489.12,67.33 L489.39,67.35 L489.65,67.37 L489.92,67.39 L490.18,67.44 L490.44,67.51 L490.71,67.57 L490.97,67.64 L491.24,67.70 L491.50,67.77 L491.77,67.83 L492.03,67.90 L492.30,67.96 L492.56,68.03 L492.83,68.09 L493.09,68.16 L493.36,68.22 L493.62,68.29 L493.89,68.35 L494.15,68.42 L494.42,68.48 L494.68,68.55 L494.95,68.61 L495.21,68.67 L495.48,68.74 L495.74,68.80 L496.01,68.87 L496.27,68.93 L496.53,69.00 L496.80,69.06 L497.06,69.13 L497.33,69.19 L497.59,69.26 L497.86,69.32 L498.12,69.39 L498.39,69.45 L498.65,69.52 L498.92,69.58 L499.18,69.65 L499.45,69.71 L499.71,69.78 L499.98,69.84 L500.24,69.91 L500.51,69.97 L500.77,70.03 L501.04,70.10 L501.30,70.16 L501.57,70.23 L501.83,70.29 L502.09,70.36 L502.36,70.42 L502.62,70.49 L502.89,70.55 L503.15,70.62 L503.42,70.68 L503.68,70.75 L503.95,70.81 L504.21,70.88 L504.48,70.95 L504.74,71.02 L505.01,71.09 L505.27,71.15 L505.54,71.22 L505.80,71.29 L506.07,71.36 L506.33,71.43 L506.60,71.50 L506.86,71.56 L507.13,71.63 L507.39,71.70 L507.66,71.77 L507.92,71.84 L508.18,71.91 L508.45,71.97 L508.71,72.04 L508.98,72.11 L509.24,72.18 L509.51,72.25 L509.77,72.32 L510.04,72.38 L510.30,72.45 L510.57,72.52 L510.83,72.59 L511.10,72.66 L511.36,72.73 L511.63,72.79 L511.89,72.86 L512.16,72.93 L512.42,73.00 L512.69,73.07 L512.95,73.14 L513.22,73.20 L513.48,73.24 L513.75,73.29 L514.01,73.33 L514.27,73.37 L514.54,73.41 L514.80,73.46 L515.07,73.50 L515.33,73.54 L515.60,73.58 L515.86,73.62 L516.13,73.67 L516.39,73.71 L516.66,73.75 L516.92,73.79 L517.19,73.84 L517.45,73.88 L517.72,73.92 L517.98,73.96 L518.25,74.00 L518.51,74.05 L518.78,74.09 L519.04,74.13 L519.31,74.17 L519.57,74.22 L519.84,74.26 L520.10,74.30" stroke="#a81c1c"/><path d="M478.00,66.50 L478.26,66.52 L478.53,66.54 L478.79,66.56 L479.06,66.58 L479.32,66.60 L479.59,66.62 L479.85,66.64 L480.12,66.66 L480.38,66.68 L480.65,66.70 L480.91,66.72 L481.18,66.74 L481.44,66.76 L481.71,66.78 L481.97,66.80 L482.24,66.82 L482.50,66.84 L482.77,66.86 L483.03,66.88 L483.30,66.90 L483.56,66.92 L483.83,66.94 L484.09,66.96 L484.35,66.98 L484.62,67.00 L484.88,67.02 L485.15,67.04 L485.41,67.06 L485.68,67.08 L485.94,67.10 L486.21,67.12 L486.47,67.14 L486.74,67.16 L487.00,67.18 L487.27,67.20 L487.53,67.21 L487.80,67.23 L488.06,67.25 L488.33,67.27 L488.59,67.29 L488.86,67.31 L489.12,67.33 L489.39,67.35 L489.65,67.37 L489.92,67.39 L490.18,67.44 L490.44,67.50 L490.71,67.55 L490.97,67.60 L491.24,67.64 L491.50,67.66 L491.77,67.66 L492.03,67.62 L492.30,67.54 L492.56,67.38 L492.83,67.12 L493.09,66.74 L493.36,66.19 L493.62,65.45 L493.89,64.46 L494.15,63.20 L494.42,61.65 L494.68,59.78 L494.95,57.60 L495.21,55.14 L495.48,52.47 L495.74,49.65 L496.01,46.81 L496.27,44.08 L496.53,41.59 L496.80,39.48 L497.06,37.88 L497.33,36.90 L497.59,36.60 L497.86,37.00 L498.12,38.08 L498.39,39.78 L498.65,41.99 L498.92,44.60 L499.18,47.45 L499.45,50.42 L499.71,53.37 L499.98,56.18 L500.24,58.78 L500.51,61.10 L500.77,63.12 L501.04,64.82 L501.30,66.22 L501.57,67.34 L501.83,68.23 L502.09,68.91 L502.36,69.43 L502.62,69.82 L502.89,70.12 L503.15,70.34 L503.42,70.51 L503.68,70.64 L503.95,70.75 L504.21,70.84 L504.48,70.93 L504.74,71.01 L505.01,71.08 L505.27,71.15 L505.54,71.22 L505.80,71.29 L506.07,71.36 L506.33,71.43 L506.60,71.50 L506.86,71.56 L507.13,71.63 L507.39,71.70 L507.66,71.77 L507.92,71.84 L508.18,71.91 L508.45,71.97 L508.71,72.04 L508.98,72.11 L509.24,72.18 L509.51,72.25 L509.77,72.32 L510.04,72.38 L510.30,72.45 L510.57,72.52 L510.83,72.59 L511.10,72.66 L511.36,72.73 L511.63,72.79 L511.89,72.86 L512.16,72.93 L512.42,73.00 L512.69,73.07 L512.95,73.14 L513.22,73.20 L513.48,73.24 L513.75,73.29 L514.01,73.33 L514.27,73.37 L514.54,73.41 L514.80,73.46 L515.07,73.50 L515.33,73.54 L515.60,73.58 L515.86,73.62 L516.13,73.67 L516.39,73.71 L516.66,73.75 L516.92,73.79 L517.19,73.84 L517.45,73.88 L517.72,73.92 L517.98,73.96 L518.25,74.00 L518.51,74.05 L518.78,74.09 L519.04,74.13 L519.31,74.17 L519.57,74.22 L519.84,74.26 L520.10,74.30" stroke="#a81c1c"/><path d="M478.00,66.50 L478.26,66.52 L478.53,66.54 L478.79,66.56 L479.06,66.58 L479.32,66.60 L479.59,66.62 L479.85,66.64 L480.12,66.66 L480.38,66.68 L480.65,66.70 L480.91,66.72 L481.18,66.74 L481.44,66.76 L481.71,66.78 L481.97,66.80 L482.24,66.82 L482.50,66.84 L482.77,66.86 L483.03,66.88 L483.30,66.90 L483.56,66.92 L483.83,66.94 L484.09,66.96 L484.35,66.98 L484.62,67.00 L484.88,67.02 L485.15,67.04 L485.41,67.06 L485.68,67.08 L485.94,67.10 L486.21,67.12 L486.47,67.14 L486.74,67.16 L487.00,67.18 L487.27,67.20 L487.53,67.21 L487.80,67.23 L488.06,67.25 L488.33,67.27 L488.59,67.29 L488.86,67.31 L489.12,67.33 L489.39,67.35 L489.65,67.37 L489.92,67.39 L490.18,67.44 L490.44,67.51 L490.71,67.57 L490.97,67.64 L491.24,67.70 L491.50,67.77 L491.77,67.83 L492.03,67.90 L492.30,67.96 L492.56,68.03 L492.83,68.09 L493.09,68.16 L493.36,68.22 L493.62,68.29 L493.89,68.35 L494.15,68.42 L494.42,68.48 L494.68,68.54 L494.95,68.61 L495.21,68.67 L495.48,68.74 L495.74,68.80 L496.01,68.87 L496.27,68.93 L496.53,68.99 L496.80,69.04 L497.06,69.09 L497.33,69.13 L497.59,69.16 L497.86,69.16 L498.12,69.12 L498.39,69.03 L498.65,68.87 L498.92,68.61 L499.18,68.22 L499.45,67.65 L499.71,66.86 L499.98,65.82 L500.24,64.47 L500.51,62.78 L500.77,60.72 L501.04,58.30 L501.30,55.53 L501.57,52.47 L501.83,49.21 L502.09,45.86 L502.36,42.56 L502.62,39.48 L502.89,36.79 L503.15,34.63 L503.42,33.16 L503.68,32.45 L503.95,32.57 L504.21,33.50 L504.48,35.20 L504.74,37.56 L505.01,40.44 L505.27,43.69 L505.54,47.13 L505.80,50.61 L506.07,53.99 L506.33,57.15 L506.60,60.01 L506.86,62.53 L507.13,64.67 L507.39,66.45 L507.66,67.90 L507.92,69.04 L508.18,69.93 L508.45,70.61 L508.71,71.12 L508.98,71.50 L509.24,71.78 L509.51,72.00 L509.77,72.16 L510.04,72.29 L510.30,72.40 L510.57,72.49 L510.83,72.57 L511.10,72.65 L511.36,72.72 L511.63,72.79 L511.89,72.86 L512.16,72.93 L512.42,73.00 L512.69,73.07 L512.95,73.14 L513.22,73.20 L513.48,73.24 L513.75,73.29 L514.01,73.33 L514.27,73.37 L514.54,73.41 L514.80,73.46 L515.07,73.50 L515.33,73.54 L515.60,73.58 L515.86,73.62 L516.13,73.67 L516.39,73.71 L516.66,73.75 L516.92,73.79 L517.19,73.84 L517.45,73.88 L517.72,73.92 L517.98,73.96 L518.25,74.00 L518.51,74.05 L518.78,74.09 L519.04,74.13 L519.31,74.17 L519.57,74.22 L519.84,74.26 L520.10,74.30" stroke="#a81c1c"/><path d="M478.00,66.50 L478.26,66.52 L478.53,66.54 L478.79,66.56 L479.06,66.58 L479.32,66.60 L479.59,66.62 L479.85,66.64 L480.12,66.66 L480.38,66.68 L480.65,66.70 L480.91,66.72 L481.18,66.74 L481.44,66.76 L481.71,66.78 L481.97,66.80 L482.24,66.82 L482.50,66.84 L482.77,66.86 L483.03,66.88 L483.30,66.90 L483.56,66.92 L483.83,66.94 L484.09,66.96 L484.35,66.98 L484.62,67.00 L484.88,67.02 L485.15,67.04 L485.41,67.06 L485.68,67.08 L485.94,67.10 L486.21,67.12 L486.47,67.14 L486.74,67.16 L487.00,67.18 L487.27,67.20 L487.53,67.21 L487.80,67.23 L488.06,67.25 L488.33,67.27 L488.59,67.29 L488.86,67.31 L489.12,67.33 L489.39,67.35 L489.65,67.37 L489.92,67.39 L490.18,67.44 L490.44,67.51 L490.71,67.57 L490.97,67.64 L491.24,67.70 L491.50,67.77 L491.77,67.83 L492.03,67.90 L492.30,67.96 L492.56,68.03 L492.83,68.09 L493.09,68.16 L493.36,68.22 L493.62,68.29 L493.89,68.35 L494.15,68.42 L494.42,68.48 L494.68,68.55 L494.95,68.61 L495.21,68.67 L495.48,68.74 L495.74,68.80 L496.01,68.87 L496.27,68.93 L496.53,69.00 L496.80,69.06 L497.06,69.13 L497.33,69.19 L497.59,69.26 L497.86,69.32 L498.12,69.39 L498.39,69.45 L498.65,69.52 L498.92,69.58 L499.18,69.65 L499.45,69.71 L499.71,69.78 L499.98,69.84 L500.24,69.90 L500.51,69.97 L500.77,70.03 L501.04,70.10 L501.30,70.16 L501.57,70.22 L501.83,70.28 L502.09,70.33 L502.36,70.38 L502.62,70.42 L502.89,70.44 L503.15,70.43 L503.42,70.39 L503.68,70.29 L503.95,70.12 L504.21,69.86 L504.48,69.47 L504.74,68.91 L505.01,68.16 L505.27,67.18 L505.54,65.93 L505.80,64.40 L506.07,62.58 L506.33,60.48 L506.60,58.14 L506.86,55.62 L507.13,53.00 L507.39,50.39 L507.66,47.92 L507.92,45.72 L508.18,43.91 L508.45,42.62 L508.71,41.91 L508.98,41.85 L509.24,42.44 L509.51,43.64 L509.77,45.39 L510.04,47.58 L510.30,50.10 L510.57,52.80 L510.83,55.57 L511.10,58.28 L511.36,60.84 L511.63,63.18 L511.89,65.25 L512.16,67.04 L512.42,68.53 L512.69,69.75 L512.95,70.73 L513.22,71.49 L513.48,72.06 L513.75,72.48 L514.01,72.79 L514.27,73.02 L514.54,73.19 L514.80,73.32 L515.07,73.41 L515.33,73.49 L515.60,73.55 L515.86,73.61 L516.13,73.66 L516.39,73.70 L516.66,73.75 L516.92,73.79 L517.19,73.83 L517.45,73.88 L517.72,73.92 L517.98,73.96 L518.25,74.00 L518.51,74.05 L518.78,74.09 L519.04,74.13 L519.31,74.17 L519.57,74.22 L519.84,74.26 L520.10,74.30" stroke="#a81c1c"/><path d="M478.00,66.50 L478.26,66.52 L478.53,66.54 L478.79,66.56 L479.06,66.58 L479.32,66.60 L479.59,66.62 L479.85,66.64 L480.12,66.66 L480.38,66.68 L480.65,66.70 L480.91,66.72 L481.18,66.74 L481.44,66.76 L481.71,66.78 L481.97,66.80 L482.24,66.82 L482.50,66.84 L482.77,66.86 L483.03,66.88 L483.30,66.90 L483.56,66.92 L483.83,66.94 L484.09,66.96 L484.35,66.98 L484.62,67.00 L484.88,67.02 L485.15,67.04 L485.41,67.06 L485.68,67.08 L485.94,67.10 L486.21,67.12 L486.47,67.14 L486.74,67.16 L487.00,67.18 L487.27,67.20 L487.53,67.21 L487.80,67.23 L488.06,67.25 L488.33,67.27 L488.59,67.29 L488.86,67.31 L489.12,67.33 L489.39,67.35 L489.65,67.37 L489.92,67.39 L490.18,67.44 L490.44,67.51 L490.71,67.57 L490.97,67.64 L491.24,67.70 L491.50,67.77 L491.77,67.83 L492.03,67.90 L492.30,67.96 L492.56,68.03 L492.83,68.09 L493.09,68.16 L493.36,68.22 L493.62,68.29 L493.89,68.35 L494.15,68.42 L494.42,68.48 L494.68,68.55 L494.95,68.61 L495.21,68.67 L495.48,68.74 L495.74,68.80 L496.01,68.87 L496.27,68.93 L496.53,69.00 L496.80,69.06 L497.06,69.13 L497.33,69.19 L497.59,69.26 L497.86,69.32 L498.12,69.39 L498.39,69.45 L498.65,69.52 L498.92,69.58 L499.18,69.65 L499.45,69.71 L499.71,69.78 L499.98,69.84 L500.24,69.91 L500.51,69.97 L500.77,70.03 L501.04,70.10 L501.30,70.16 L501.57,70.23 L501.83,70.29 L502.09,70.36 L502.36,70.42 L502.62,70.49 L502.89,70.55 L503.15,70.62 L503.42,70.68 L503.68,70.75 L503.95,70.81 L504.21,70.88 L504.48,70.95 L504.74,71.02 L505.01,71.09 L505.27,71.15 L505.54,71.22 L505.80,71.29 L506.07,71.36 L506.33,71.43 L506.60,71.49 L506.86,71.56 L507.13,71.62 L507.39,71.68 L507.66,71.74 L507.92,71.78 L508.18,71.81 L508.45,71.83 L508.71,71.82 L508.98,71.76 L509.24,71.66 L509.51,71.49 L509.77,71.24 L510.04,70.88 L510.30,70.40 L510.57,69.77 L510.83,68.99 L511.10,68.04 L511.36,66.94 L511.63,65.69 L511.89,64.34 L512.16,62.91 L512.42,61.48 L512.69,60.10 L512.95,58.85 L513.22,57.81 L513.48,57.01 L513.75,56.53 L514.01,56.40 L514.27,56.64 L514.54,57.23 L514.80,58.14 L515.07,59.31 L515.33,60.68 L515.60,62.17 L515.86,63.72 L516.13,65.25 L516.39,66.71 L516.66,68.06 L516.92,69.26 L517.19,70.31 L517.45,71.19 L517.72,71.91 L517.98,72.50 L518.25,72.96 L518.51,73.31 L518.78,73.59 L519.04,73.80 L519.31,73.95 L519.57,74.07 L519.84,74.17 L520.10,74.25" stroke="#a81c1c"/><path d="M478.00,66.50 L478.26,66.52 L478.53,66.54 L478.79,66.56 L479.06,66.58 L479.32,66.60 L479.59,66.62 L479.85,66.64 L480.12,66.66 L480.38,66.68 L480.65,66.70 L480.91,66.72 L481.18,66.74 L481.44,66.76 L481.71,66.78 L481.97,66.80 L482.24,66.82 L482.50,66.84 L482.77,66.86 L483.03,66.88 L483.30,66.90 L483.56,66.92 L483.83,66.94 L484.09,66.96 L484.35,66.98 L484.62,67.00 L484.88,67.02 L485.15,67.04 L485.41,67.05 L485.68,67.07 L485.94,67.09 L486.21,67.11 L486.47,67.12 L486.74,67.14 L487.00,67.14 L487.27,67.15 L487.53,67.14 L487.80,67.11 L488.06,67.07 L488.33,67.00 L488.59,66.90 L488.86,66.74 L489.12,66.53 L489.39,66.24 L489.65,65.85 L489.92,65.36 L490.18,64.76 L490.44,64.04 L490.71,63.16 L490.97,62.13 L491.24,60.94 L491.50,59.62 L491.77,58.17 L492.03,56.65 L492.30,55.09 L492.56,53.56 L492.83,52.11 L493.09,50.80 L493.36,49.71 L493.62,48.89 L493.89,48.37 L494.15,48.19 L494.42,48.37 L494.68,48.89 L494.95,49.74 L495.21,50.87 L495.48,52.23 L495.74,53.77 L496.01,55.41 L496.27,57.09 L496.53,58.76 L496.80,60.37 L497.06,61.87 L497.33,63.24 L497.59,64.46 L497.86,65.53 L498.12,66.43 L498.39,67.19 L498.65,67.82 L498.92,68.33 L499.18,68.74 L499.45,69.06 L499.71,69.32 L499.98,69.53 L500.24,69.69 L500.51,69.83 L500.77,69.94 L501.04,70.04 L501.30,70.13 L501.57,70.21 L501.83,70.28 L502.09,70.35 L502.36,70.42 L502.62,70.49 L502.89,70.55 L503.15,70.62 L503.42,70.68 L503.68,70.75 L503.95,70.81 L504.21,70.88 L504.48,70.95 L504.74,71.02 L505.01,71.09 L505.27,71.15 L505.54,71.22 L505.80,71.29 L506.07,71.36 L506.33,71.43 L506.60,71.50 L506.86,71.56 L507.13,71.63 L507.39,71.70 L507.66,71.77 L507.92,71.84 L508.18,71.91 L508.45,71.97 L508.71,72.04 L508.98,72.11 L509.24,72.18 L509.51,72.25 L509.77,72.32 L510.04,72.38 L510.30,72.45 L510.57,72.52 L510.83,72.59 L511.10,72.66 L511.36,72.73 L511.63,72.79 L511.89,72.86 L512.16,72.93 L512.42,73.00 L512.69,73.07 L512.95,73.14 L513.22,73.20 L513.48,73.24 L513.75,73.29 L514.01,73.33 L514.27,73.37 L514.54,73.41 L514.80,73.46 L515.07,73.50 L515.33,73.54 L515.60,73.58 L515.86,73.62 L516.13,73.67 L516.39,73.71 L516.66,73.75 L516.92,73.79 L517.19,73.84 L517.45,73.88 L517.72,73.92 L517.98,73.96 L518.25,74.00 L518.51,74.05 L518.78,74.09 L519.04,74.13 L519.31,74.17 L519.57,74.22 L519.84,74.26 L520.10,74.30" stroke="#1a1ae8" stroke-width="1.4"/></g></g>
<g fill="#fff" stroke="#3c3c3c" stroke-width="0.6"><g clip-path="url(#c3)"><circle cx="442.36" cy="74.08" r="1.6"/><circle cx="443.14" cy="71.11" r="1.6"/><circle cx="441.69" cy="67.32" r="1.6"/><circle cx="444.02" cy="69.28" r="1.6"/><circle cx="444.95" cy="67.42" r="1.6"/><circle cx="447.46" cy="69.38" r="1.6"/><circle cx="444.94" cy="64.39" r="1.6"/><circle cx="448.50" cy="67.97" r="1.6"/><circle cx="448.11" cy="63.58" r="1.6"/><circle cx="448.50" cy="62.96" r="1.6"/><circle cx="449.37" cy="62.35" r="1.6"/><circle cx="453.40" cy="63.49" r="1.6"/><circle cx="452.69" cy="60.14" r="1.6"/><circle cx="454.60" cy="58.81" r="1.6"/><circle cx="453.53" cy="55.69" r="1.6"/><circle cx="456.70" cy="55.34" r="1.6"/><circle cx="457.61" cy="54.00" r="1.6"/><circle cx="456.69" cy="50.84" r="1.6"/><circle cx="458.21" cy="49.65" r="1.6"/><circle cx="461.96" cy="52.42" r="1.6"/><circle cx="461.27" cy="49.38" r="1.6"/><circle cx="460.95" cy="47.14" r="1.6"/><circle cx="461.10" cy="45.01" r="1.6"/><circle cx="462.41" cy="43.96" r="1.6"/><circle cx="467.11" cy="44.76" r="1.6"/><circle cx="464.22" cy="45.31" r="1.6"/><circle cx="469.45" cy="46.29" r="1.6"/><circle cx="465.41" cy="52.57" r="1.6"/><circle cx="468.83" cy="53.26" r="1.6"/><circle cx="469.29" cy="54.79" r="1.6"/><circle cx="470.89" cy="54.29" r="1.6"/><circle cx="472.59" cy="54.16" r="1.6"/><circle cx="473.44" cy="55.27" r="1.6"/><circle cx="476.44" cy="55.95" r="1.6"/><circle cx="477.54" cy="58.12" r="1.6"/><circle cx="474.22" cy="62.85" r="1.6"/><circle cx="476.77" cy="62.80" r="1.6"/><circle cx="479.12" cy="62.19" r="1.6"/><circle cx="478.80" cy="64.93" r="1.6"/><circle cx="480.32" cy="64.27" r="1.6"/><circle cx="480.90" cy="64.35" r="1.6"/><circle cx="482.55" cy="65.71" r="1.6"/><circle cx="483.21" cy="65.26" r="1.6"/><circle cx="484.15" cy="64.95" r="1.6"/><circle cx="485.25" cy="64.20" r="1.6"/><circle cx="484.76" cy="63.04" r="1.6"/><circle cx="488.33" cy="65.26" r="1.6"/><circle cx="488.85" cy="61.95" r="1.6"/><circle cx="491.54" cy="60.73" r="1.6"/><circle cx="489.06" cy="55.41" r="1.6"/><circle cx="491.46" cy="53.50" r="1.6"/><circle cx="489.60" cy="47.68" r="1.6"/><circle cx="493.51" cy="46.49" r="1.6"/><circle cx="493.47" cy="42.22" r="1.6"/><circle cx="496.90" cy="40.44" r="1.6"/><circle cx="497.32" cy="37.87" r="1.6"/><circle cx="495.90" cy="34.29" r="1.6"/><circle cx="498.04" cy="33.49" r="1.6"/><circle cx="499.32" cy="32.59" r="1.6"/><circle cx="500.29" cy="32.89" r="1.6"/><circle cx="502.51" cy="29.93" r="1.6"/><circle cx="500.64" cy="34.63" r="1.6"/><circle cx="503.48" cy="31.98" r="1.6"/><circle cx="506.09" cy="31.12" r="1.6"/><circle cx="504.68" cy="26.92" r="1.6"/><circle cx="506.69" cy="27.94" r="1.6"/><circle cx="507.30" cy="30.05" r="1.6"/><circle cx="505.81" cy="33.85" r="1.6"/><circle cx="512.07" cy="33.24" r="1.6"/><circle cx="508.43" cy="39.14" r="1.6"/><circle cx="512.91" cy="38.93" r="1.6"/><circle cx="509.50" cy="44.76" r="1.6"/><circle cx="511.04" cy="48.46" r="1.6"/><circle cx="512.71" cy="52.02" r="1.6"/><circle cx="516.28" cy="52.99" r="1.6"/><circle cx="516.57" cy="56.71" r="1.6"/><circle cx="515.26" cy="60.86" r="1.6"/><circle cx="517.43" cy="62.39" r="1.6"/><circle cx="521.38" cy="63.92" r="1.6"/><circle cx="518.83" cy="69.84" r="1.6"/><circle cx="519.55" cy="72.30" r="1.6"/><circle cx="518.19" cy="75.66" r="1.6"/><circle cx="524.78" cy="73.72" r="1.6"/><circle cx="522.45" cy="78.14" r="1.6"/><circle cx="522.24" cy="81.05" r="1.6"/><circle cx="524.04" cy="80.88" r="1.6"/><circle cx="528.12" cy="78.44" r="1.6"/><circle cx="526.44" cy="83.33" r="1.6"/><circle cx="527.24" cy="85.55" r="1.6"/><circle cx="530.62" cy="80.43" r="1.6"/><circle cx="531.32" cy="81.38" r="1.6"/><circle cx="533.67" cy="79.49" r="1.6"/><circle cx="533.72" cy="81.83" r="1.6"/><circle cx="533.20" cy="85.96" r="1.6"/><circle cx="535.03" cy="83.67" r="1.6"/><circle cx="536.48" cy="82.79" r="1.6"/><circle cx="537.82" cy="80.86" r="1.6"/><circle cx="539.34" cy="81.35" r="1.6"/><circle cx="540.09" cy="83.69" r="1.6"/><circle cx="540.17" cy="85.85" r="1.6"/><circle cx="541.10" cy="86.71" r="1.6"/><circle cx="541.00" cy="88.61" r="1.6"/><circle cx="545.76" cy="84.69" r="1.6"/><circle cx="542.94" cy="91.24" r="1.6"/><circle cx="465.50" cy="33.20" r="1.6"/><circle cx="462.00" cy="42.40" r="1.6"/><circle cx="471.30" cy="45.90" r="1.6"/><circle cx="531.70" cy="66.20" r="1.6"/><circle cx="539.80" cy="94.00" r="1.6"/><circle cx="447.00" cy="79.00" r="1.6"/><circle cx="445.80" cy="75.50" r="1.6"/><circle cx="441.20" cy="73.20" r="1.6"/><circle cx="524.70" cy="80.10" r="1.6"/><circle cx="527.10" cy="84.70" r="1.6"/><circle cx="529.40" cy="84.70" r="1.6"/><circle cx="505.10" cy="23.90" r="1.6"/><circle cx="499.30" cy="29.70" r="1.6"/><circle cx="508.50" cy="36.60" r="1.6"/></g></g>
<line x1="449.30" y1="104.50" x2="449.30" y2="107.10" stroke="#4d4d4d" stroke-width="0.8"/>
<text x="449.30" y="112.50" font-size="5.2" text-anchor="middle" fill="#222" stroke="#222" stroke-width="0.22" >590</text>
<line x1="471.05" y1="104.50" x2="471.05" y2="107.10" stroke="#4d4d4d" stroke-width="0.8"/>
<text x="471.05" y="112.50" font-size="5.2" text-anchor="middle" fill="#222" stroke="#222" stroke-width="0.22" >585</text>
<line x1="492.80" y1="104.50" x2="492.80" y2="107.10" stroke="#4d4d4d" stroke-width="0.8"/>
<text x="492.80" y="112.50" font-size="5.2" text-anchor="middle" fill="#222" stroke="#222" stroke-width="0.22" >580</text>
<line x1="514.55" y1="104.50" x2="514.55" y2="107.10" stroke="#4d4d4d" stroke-width="0.8"/>
<text x="514.55" y="112.50" font-size="5.2" text-anchor="middle" fill="#222" stroke="#222" stroke-width="0.22" >575</text>
<line x1="536.30" y1="104.50" x2="536.30" y2="107.10" stroke="#4d4d4d" stroke-width="0.8"/>
<text x="536.30" y="112.50" font-size="5.2" text-anchor="middle" fill="#222" stroke="#222" stroke-width="0.22" >570</text>
<line x1="437.90" y1="93.60" x2="440.50" y2="93.60" stroke="#4d4d4d" stroke-width="0.8"/>
<text x="435.30" y="95.50" font-size="5.2" text-anchor="end" fill="#222" stroke="#222" stroke-width="0.22" >35</text>
<line x1="437.90" y1="76.85" x2="440.50" y2="76.85" stroke="#4d4d4d" stroke-width="0.8"/>
<text x="435.30" y="78.75" font-size="5.2" text-anchor="end" fill="#222" stroke="#222" stroke-width="0.22" >36</text>
<line x1="437.90" y1="60.10" x2="440.50" y2="60.10" stroke="#4d4d4d" stroke-width="0.8"/>
<text x="435.30" y="62.00" font-size="5.2" text-anchor="end" fill="#222" stroke="#222" stroke-width="0.22" >37</text>
<line x1="437.90" y1="43.35" x2="440.50" y2="43.35" stroke="#4d4d4d" stroke-width="0.8"/>
<text x="435.30" y="45.25" font-size="5.2" text-anchor="end" fill="#222" stroke="#222" stroke-width="0.22" >38</text>
<line x1="437.90" y1="26.60" x2="440.50" y2="26.60" stroke="#4d4d4d" stroke-width="0.8"/>
<text x="435.30" y="28.50" font-size="5.2" text-anchor="end" fill="#222" stroke="#222" stroke-width="0.22" >39</text>
<rect x="440.50" y="12.60" width="104.50" height="91.90" fill="none" stroke="#4d4d4d" stroke-width="1"/>
<text x="492.80" y="122.90" font-size="6.75" text-anchor="middle" fill="#111" stroke="#111" stroke-width="0.22" >Binding energy (eV)</text>
<text x="0" y="0" font-size="6.55" text-anchor="middle" fill="#111" stroke="#111" stroke-width="0.22" transform="translate(426.40,58.15) rotate(-90)">Intensity (10<tspan font-size="4.2" dy="-2.1">3</tspan><tspan dy="2.1"> CPS)</tspan></text>
<text x="451.10" y="99.80" font-size="13" text-anchor="start" fill="#111" stroke="#111" stroke-width="0.22" >CrAc</text>
<clipPath id="c4"><rect x="23.2" y="144.8" width="104.3" height="89.69999999999999"/></clipPath>
<g clip-path="url(#c4)"><g fill="none" stroke-width="1.2" stroke-linejoin="round"><path d="M63.00,183.00 L63.47,182.06 L63.94,181.12 L64.41,178.53 L64.88,175.71 L65.35,172.88 L65.82,170.06 L66.29,167.24 L66.76,164.41 L67.24,162.06 L67.71,160.18 L68.18,158.29 L68.65,156.60 L69.12,155.34 L69.59,154.07 L70.06,154.36 L70.53,155.93 L71.00,157.50 L71.47,159.49 L71.94,161.48 L72.41,163.42 L72.88,165.18 L73.35,166.95 L73.82,167.85 L74.29,168.36 L74.76,168.87 L75.24,169.39 L75.71,169.90 L76.18,170.34 L76.65,170.77 L77.12,171.20 L77.59,171.63 L78.06,172.06 L78.53,172.55 L79.00,173.04 L79.47,173.53 L79.94,174.02 L80.41,174.52 L80.88,175.23 L81.35,175.95 L81.82,176.67 L82.29,177.38 L82.76,178.08 L83.24,178.70 L83.71,179.31 L84.18,179.93 L84.65,180.54 L85.12,181.20 L85.59,181.98 L86.06,182.76 L86.53,183.55 L87.00,184.33 L87.47,185.20 L87.94,186.52 L88.41,187.85 L88.88,189.17 L89.35,190.29 L89.82,191.35 L90.29,192.41 L90.76,193.47 L91.24,194.18 L91.71,194.53 L92.18,194.88 L92.65,195.24 L93.12,195.43 L93.59,195.15 L94.06,194.86 L94.53,194.58 L95.00,194.30 L95.47,194.02 L95.94,193.42 L96.41,192.81 L96.88,192.20 L97.35,191.58 L97.82,190.92 L98.29,189.40 L98.76,187.88 L99.24,186.36 L99.71,185.22 L100.18,184.57 L100.65,183.92 L101.12,183.27 L101.59,182.62 L102.06,181.97 L102.53,181.33 L103.00,180.72 L103.47,180.10 L103.94,179.49 L104.41,178.88 L104.88,178.42 L105.35,178.22 L105.82,178.01 L106.29,177.81 L106.76,177.60 L107.24,178.05 L107.71,179.15 L108.18,180.25 L108.65,181.44 L109.12,182.85 L109.59,184.26 L110.06,185.68 L110.53,187.16 L111.00,189.71 L111.47,192.26 L111.94,194.81 L112.41,197.36 L112.88,199.90 L113.35,203.09 L113.82,206.30 L114.29,209.22 L114.76,211.96 L115.24,214.61 L115.71,216.06 L116.18,217.50 L116.65,218.64 L117.12,219.09 L117.59,219.54 L118.06,219.98 L118.53,220.43 L119.00,220.67" stroke="#000" stroke-width="1.2"/><path d="M62.50,188.50 L62.85,188.71 L63.21,188.92 L63.56,189.14 L63.91,189.35 L64.26,189.56 L64.62,189.77 L64.97,189.98 L65.32,190.19 L65.68,190.41 L66.03,190.62 L66.38,190.83 L66.73,191.04 L67.09,191.25 L67.44,191.46 L67.79,191.68 L68.15,191.89 L68.50,192.10 L68.85,192.31 L69.20,192.52 L69.56,192.73 L69.91,192.95 L70.26,193.17 L70.62,193.41 L70.97,193.65 L71.32,193.88 L71.67,194.12 L72.03,194.35 L72.38,194.59 L72.73,194.82 L73.08,195.06 L73.44,195.29 L73.79,195.53 L74.14,195.76 L74.50,196.00 L74.85,196.23 L75.20,196.47 L75.55,196.70 L75.91,196.94 L76.26,197.17 L76.61,197.41 L76.97,197.64 L77.32,197.88 L77.67,198.11 L78.02,198.35 L78.38,198.58 L78.73,198.82 L79.08,199.06 L79.44,199.29 L79.79,199.53 L80.14,199.76 L80.49,200.00 L80.85,200.23 L81.20,200.47 L81.55,200.70 L81.91,200.94 L82.26,201.17 L82.61,201.41 L82.96,201.64 L83.32,201.88 L83.67,202.11 L84.02,202.35 L84.38,202.58 L84.73,202.82 L85.08,203.04 L85.43,203.19 L85.79,203.35 L86.14,203.50 L86.49,203.66 L86.85,203.81 L87.20,203.97 L87.55,204.12 L87.90,204.27 L88.26,204.43 L88.61,204.58 L88.96,204.74 L89.32,204.89 L89.67,205.05 L90.02,205.20 L90.37,205.36 L90.73,205.51 L91.08,205.67 L91.43,205.82 L91.78,205.98 L92.14,206.13 L92.49,206.29 L92.84,206.44 L93.20,206.60 L93.55,206.73 L93.90,206.87 L94.25,207.00 L94.61,207.14 L94.96,207.27 L95.31,207.40 L95.67,207.54 L96.02,207.67 L96.37,207.81 L96.72,207.94 L97.08,208.08 L97.43,208.21 L97.78,208.34 L98.14,208.48 L98.49,208.61 L98.84,208.75 L99.19,208.88 L99.55,209.01 L99.90,209.15 L100.25,209.28 L100.61,209.42 L100.96,209.55 L101.31,209.69 L101.66,209.82 L102.02,209.95 L102.37,210.09 L102.72,210.31 L103.08,210.54 L103.43,210.78 L103.78,211.01 L104.13,211.24 L104.49,211.47 L104.84,211.70 L105.19,211.94 L105.55,212.17 L105.90,212.40 L106.25,212.63 L106.60,212.86 L106.96,213.09 L107.31,213.33 L107.66,213.56 L108.02,213.79 L108.37,214.02 L108.72,214.25 L109.07,214.49 L109.43,214.72 L109.78,215.05 L110.13,215.37 L110.48,215.69 L110.84,216.01 L111.19,216.34 L111.54,216.66 L111.90,216.98 L112.25,217.30 L112.60,217.63 L112.95,217.95 L113.31,218.27 L113.66,218.59 L114.01,218.92 L114.37,219.24 L114.72,219.56 L115.07,219.88 L115.42,220.11 L115.78,220.29 L116.13,220.47 L116.48,220.64 L116.84,220.82 L117.19,220.99 L117.54,221.17 L117.89,221.35 L118.25,221.52 L118.60,221.70" stroke="#a81c1c"/><path d="M62.50,188.50 L62.85,188.71 L63.21,188.92 L63.56,189.14 L63.91,189.35 L64.26,189.56 L64.62,189.77 L64.97,189.98 L65.32,190.19 L65.68,190.41 L66.03,190.62 L66.38,190.83 L66.73,191.04 L67.09,191.25 L67.44,191.46 L67.79,191.67 L68.15,191.87 L68.50,192.08 L68.85,192.27 L69.20,192.46 L69.56,192.63 L69.91,192.78 L70.26,192.91 L70.62,193.01 L70.97,193.05 L71.32,193.01 L71.67,192.90 L72.03,192.68 L72.38,192.34 L72.73,191.90 L73.08,191.34 L73.44,190.68 L73.79,189.96 L74.14,189.22 L74.50,188.49 L74.85,187.84 L75.20,187.33 L75.55,187.00 L75.91,186.89 L76.26,187.04 L76.61,187.45 L76.97,188.11 L77.32,188.98 L77.67,190.01 L78.02,191.17 L78.38,192.38 L78.73,193.59 L79.08,194.76 L79.44,195.86 L79.79,196.85 L80.14,197.73 L80.49,198.49 L80.85,199.14 L81.20,199.70 L81.55,200.18 L81.91,200.59 L82.26,200.94 L82.61,201.26 L82.96,201.55 L83.32,201.82 L83.67,202.08 L84.02,202.33 L84.38,202.57 L84.73,202.81 L85.08,203.03 L85.43,203.19 L85.79,203.34 L86.14,203.50 L86.49,203.66 L86.85,203.81 L87.20,203.96 L87.55,204.12 L87.90,204.27 L88.26,204.43 L88.61,204.58 L88.96,204.74 L89.32,204.89 L89.67,205.05 L90.02,205.20 L90.37,205.36 L90.73,205.51 L91.08,205.67 L91.43,205.82 L91.78,205.98 L92.14,206.13 L92.49,206.29 L92.84,206.44 L93.20,206.60 L93.55,206.73 L93.90,206.87 L94.25,207.00 L94.61,207.14 L94.96,207.27 L95.31,207.40 L95.67,207.54 L96.02,207.67 L96.37,207.81 L96.72,207.94 L97.08,208.08 L97.43,208.21 L97.78,208.34 L98.14,208.48 L98.49,208.61 L98.84,208.75 L99.19,208.88 L99.55,209.01 L99.90,209.15 L100.25,209.28 L100.61,209.42 L100.96,209.55 L101.31,209.69 L101.66,209.82 L102.02,209.95 L102.37,210.09 L102.72,210.31 L103.08,210.54 L103.43,210.78 L103.78,211.01 L104.13,211.24 L104.49,211.47 L104.84,211.70 L105.19,211.94 L105.55,212.17 L105.90,212.40 L106.25,212.63 L106.60,212.86 L106.96,213.09 L107.31,213.33 L107.66,213.56 L108.02,213.79 L108.37,214.02 L108.72,214.25 L109.07,214.49 L109.43,214.72 L109.78,215.05 L110.13,215.37 L110.48,215.69 L110.84,216.01 L111.19,216.34 L111.54,216.66 L111.90,216.98 L112.25,217.30 L112.60,217.63 L112.95,217.95 L113.31,218.27 L113.66,218.59 L114.01,218.92 L114.37,219.24 L114.72,219.56 L115.07,219.88 L115.42,220.11 L115.78,220.29 L116.13,220.47 L116.48,220.64 L116.84,220.82 L117.19,220.99 L117.54,221.17 L117.89,221.35 L118.25,221.52 L118.60,221.70" stroke="#a81c1c"/><path d="M62.50,188.50 L62.85,188.71 L63.21,188.92 L63.56,189.14 L63.91,189.35 L64.26,189.56 L64.62,189.77 L64.97,189.98 L65.32,190.19 L65.68,190.41 L66.03,190.62 L66.38,190.83 L66.73,191.04 L67.09,191.25 L67.44,191.46 L67.79,191.68 L68.15,191.89 L68.50,192.10 L68.85,192.31 L69.20,192.52 L69.56,192.73 L69.91,192.95 L70.26,193.17 L70.62,193.41 L70.97,193.64 L71.32,193.88 L71.67,194.11 L72.03,194.34 L72.38,194.57 L72.73,194.80 L73.08,195.02 L73.44,195.22 L73.79,195.41 L74.14,195.57 L74.50,195.69 L74.85,195.75 L75.20,195.73 L75.55,195.60 L75.91,195.34 L76.26,194.93 L76.61,194.32 L76.97,193.50 L77.32,192.47 L77.67,191.24 L78.02,189.82 L78.38,188.28 L78.73,186.68 L79.08,185.12 L79.44,183.70 L79.79,182.52 L80.14,181.69 L80.49,181.28 L80.85,181.34 L81.20,181.88 L81.55,182.88 L81.91,184.28 L82.26,186.00 L82.61,187.94 L82.96,189.99 L83.32,192.06 L83.67,194.04 L84.02,195.88 L84.38,197.54 L84.73,198.98 L85.08,200.19 L85.43,201.13 L85.79,201.90 L86.14,202.51 L86.49,202.99 L86.85,203.38 L87.20,203.69 L87.55,203.95 L87.90,204.17 L88.26,204.37 L88.61,204.55 L88.96,204.72 L89.32,204.88 L89.67,205.04 L90.02,205.20 L90.37,205.36 L90.73,205.51 L91.08,205.67 L91.43,205.82 L91.78,205.98 L92.14,206.13 L92.49,206.29 L92.84,206.44 L93.20,206.60 L93.55,206.73 L93.90,206.87 L94.25,207.00 L94.61,207.14 L94.96,207.27 L95.31,207.40 L95.67,207.54 L96.02,207.67 L96.37,207.81 L96.72,207.94 L97.08,208.08 L97.43,208.21 L97.78,208.34 L98.14,208.48 L98.49,208.61 L98.84,208.75 L99.19,208.88 L99.55,209.01 L99.90,209.15 L100.25,209.28 L100.61,209.42 L100.96,209.55 L101.31,209.69 L101.66,209.82 L102.02,209.95 L102.37,210.09 L102.72,210.31 L103.08,210.54 L103.43,210.78 L103.78,211.01 L104.13,211.24 L104.49,211.47 L104.84,211.70 L105.19,211.94 L105.55,212.17 L105.90,212.40 L106.25,212.63 L106.60,212.86 L106.96,213.09 L107.31,213.33 L107.66,213.56 L108.02,213.79 L108.37,214.02 L108.72,214.25 L109.07,214.49 L109.43,214.72 L109.78,215.05 L110.13,215.37 L110.48,215.69 L110.84,216.01 L111.19,216.34 L111.54,216.66 L111.90,216.98 L112.25,217.30 L112.60,217.63 L112.95,217.95 L113.31,218.27 L113.66,218.59 L114.01,218.92 L114.37,219.24 L114.72,219.56 L115.07,219.88 L115.42,220.11 L115.78,220.29 L116.13,220.47 L116.48,220.64 L116.84,220.82 L117.19,220.99 L117.54,221.17 L117.89,221.35 L118.25,221.52 L118.60,221.70" stroke="#a81c1c"/><path d="M62.50,188.50 L62.85,188.71 L63.21,188.92 L63.56,189.14 L63.91,189.35 L64.26,189.56 L64.62,189.77 L64.97,189.98 L65.32,190.19 L65.68,190.41 L66.03,190.62 L66.38,190.83 L66.73,191.04 L67.09,191.25 L67.44,191.46 L67.79,191.68 L68.15,191.89 L68.50,192.10 L68.85,192.31 L69.20,192.52 L69.56,192.73 L69.91,192.95 L70.26,193.17 L70.62,193.41 L70.97,193.65 L71.32,193.88 L71.67,194.12 L72.03,194.35 L72.38,194.59 L72.73,194.82 L73.08,195.06 L73.44,195.29 L73.79,195.53 L74.14,195.76 L74.50,196.00 L74.85,196.23 L75.20,196.47 L75.55,196.70 L75.91,196.94 L76.26,197.17 L76.61,197.41 L76.97,197.64 L77.32,197.88 L77.67,198.11 L78.02,198.35 L78.38,198.58 L78.73,198.82 L79.08,199.06 L79.44,199.29 L79.79,199.53 L80.14,199.76 L80.49,200.00 L80.85,200.23 L81.20,200.47 L81.55,200.70 L81.91,200.94 L82.26,201.17 L82.61,201.40 L82.96,201.63 L83.32,201.86 L83.67,202.08 L84.02,202.29 L84.38,202.48 L84.73,202.65 L85.08,202.77 L85.43,202.79 L85.79,202.76 L86.14,202.66 L86.49,202.50 L86.85,202.26 L87.20,201.94 L87.55,201.57 L87.90,201.16 L88.26,200.74 L88.61,200.35 L88.96,200.02 L89.32,199.81 L89.67,199.73 L90.02,199.81 L90.37,200.06 L90.73,200.46 L91.08,201.00 L91.43,201.65 L91.78,202.36 L92.14,203.09 L92.49,203.80 L92.84,204.48 L93.20,205.09 L93.55,205.62 L93.90,206.06 L94.25,206.44 L94.61,206.76 L94.96,207.02 L95.31,207.25 L95.67,207.44 L96.02,207.61 L96.37,207.77 L96.72,207.92 L97.08,208.06 L97.43,208.20 L97.78,208.34 L98.14,208.48 L98.49,208.61 L98.84,208.75 L99.19,208.88 L99.55,209.01 L99.90,209.15 L100.25,209.28 L100.61,209.42 L100.96,209.55 L101.31,209.69 L101.66,209.82 L102.02,209.95 L102.37,210.09 L102.72,210.31 L103.08,210.54 L103.43,210.78 L103.78,211.01 L104.13,211.24 L104.49,211.47 L104.84,211.70 L105.19,211.94 L105.55,212.17 L105.90,212.40 L106.25,212.63 L106.60,212.86 L106.96,213.09 L107.31,213.33 L107.66,213.56 L108.02,213.79 L108.37,214.02 L108.72,214.25 L109.07,214.49 L109.43,214.72 L109.78,215.05 L110.13,215.37 L110.48,215.69 L110.84,216.01 L111.19,216.34 L111.54,216.66 L111.90,216.98 L112.25,217.30 L112.60,217.63 L112.95,217.95 L113.31,218.27 L113.66,218.59 L114.01,218.92 L114.37,219.24 L114.72,219.56 L115.07,219.88 L115.42,220.11 L115.78,220.29 L116.13,220.47 L116.48,220.64 L116.84,220.82 L117.19,220.99 L117.54,221.17 L117.89,221.35 L118.25,221.52 L118.60,221.70" stroke="#a81c1c"/><path d="M62.50,188.50 L62.85,188.71 L63.21,188.92 L63.56,189.14 L63.91,189.35 L64.26,189.56 L64.62,189.77 L64.97,189.98 L65.32,190.19 L65.68,190.41 L66.03,190.62 L66.38,190.83 L66.73,191.04 L67.09,191.25 L67.44,191.46 L67.79,191.68 L68.15,191.89 L68.50,192.10 L68.85,192.31 L69.20,192.52 L69.56,192.73 L69.91,192.95 L70.26,193.17 L70.62,193.41 L70.97,193.65 L71.32,193.88 L71.67,194.12 L72.03,194.35 L72.38,194.59 L72.73,194.82 L73.08,195.06 L73.44,195.29 L73.79,195.53 L74.14,195.76 L74.50,196.00 L74.85,196.23 L75.20,196.47 L75.55,196.70 L75.91,196.94 L76.26,197.17 L76.61,197.41 L76.97,197.64 L77.32,197.88 L77.67,198.11 L78.02,198.35 L78.38,198.58 L78.73,198.82 L79.08,199.06 L79.44,199.29 L79.79,199.53 L80.14,199.76 L80.49,200.00 L80.85,200.23 L81.20,200.47 L81.55,200.70 L81.91,200.94 L82.26,201.17 L82.61,201.41 L82.96,201.64 L83.32,201.88 L83.67,202.11 L84.02,202.35 L84.38,202.58 L84.73,202.82 L85.08,203.04 L85.43,203.19 L85.79,203.35 L86.14,203.50 L86.49,203.66 L86.85,203.81 L87.20,203.96 L87.55,204.12 L87.90,204.27 L88.26,204.43 L88.61,204.58 L88.96,204.74 L89.32,204.89 L89.67,205.03 L90.02,205.17 L90.37,205.31 L90.73,205.42 L91.08,205.51 L91.43,205.55 L91.78,205.54 L92.14,205.45 L92.49,205.26 L92.84,204.94 L93.20,204.46 L93.55,203.79 L93.90,202.94 L94.25,201.92 L94.61,200.76 L94.96,199.51 L95.31,198.26 L95.67,197.09 L96.02,196.11 L96.37,195.39 L96.72,195.02 L97.08,195.04 L97.43,195.46 L97.78,196.26 L98.14,197.38 L98.49,198.72 L98.84,200.21 L99.19,201.73 L99.55,203.22 L99.90,204.59 L100.25,205.81 L100.61,206.85 L100.96,207.71 L101.31,208.41 L101.66,208.96 L102.02,209.39 L102.37,209.73 L102.72,210.09 L103.08,210.41 L103.43,210.70 L103.78,210.97 L104.13,211.22 L104.49,211.46 L104.84,211.70 L105.19,211.93 L105.55,212.17 L105.90,212.40 L106.25,212.63 L106.60,212.86 L106.96,213.09 L107.31,213.33 L107.66,213.56 L108.02,213.79 L108.37,214.02 L108.72,214.25 L109.07,214.49 L109.43,214.72 L109.78,215.05 L110.13,215.37 L110.48,215.69 L110.84,216.01 L111.19,216.34 L111.54,216.66 L111.90,216.98 L112.25,217.30 L112.60,217.63 L112.95,217.95 L113.31,218.27 L113.66,218.59 L114.01,218.92 L114.37,219.24 L114.72,219.56 L115.07,219.88 L115.42,220.11 L115.78,220.29 L116.13,220.47 L116.48,220.64 L116.84,220.82 L117.19,220.99 L117.54,221.17 L117.89,221.35 L118.25,221.52 L118.60,221.70" stroke="#a81c1c"/><path d="M62.50,188.50 L62.85,188.71 L63.21,188.92 L63.56,189.14 L63.91,189.35 L64.26,189.56 L64.62,189.77 L64.97,189.98 L65.32,190.19 L65.68,190.41 L66.03,190.62 L66.38,190.83 L66.73,191.04 L67.09,191.25 L67.44,191.46 L67.79,191.68 L68.15,191.89 L68.50,192.10 L68.85,192.31 L69.20,192.52 L69.56,192.73 L69.91,192.95 L70.26,193.17 L70.62,193.41 L70.97,193.65 L71.32,193.88 L71.67,194.12 L72.03,194.35 L72.38,194.59 L72.73,194.82 L73.08,195.06 L73.44,195.29 L73.79,195.53 L74.14,195.76 L74.50,196.00 L74.85,196.23 L75.20,196.47 L75.55,196.70 L75.91,196.94 L76.26,197.17 L76.61,197.41 L76.97,197.64 L77.32,197.88 L77.67,198.11 L78.02,198.35 L78.38,198.58 L78.73,198.82 L79.08,199.06 L79.44,199.29 L79.79,199.53 L80.14,199.76 L80.49,200.00 L80.85,200.23 L81.20,200.47 L81.55,200.70 L81.91,200.94 L82.26,201.17 L82.61,201.41 L82.96,201.64 L83.32,201.88 L83.67,202.11 L84.02,202.35 L84.38,202.58 L84.73,202.82 L85.08,203.04 L85.43,203.19 L85.79,203.35 L86.14,203.50 L86.49,203.66 L86.85,203.81 L87.20,203.97 L87.55,204.12 L87.90,204.27 L88.26,204.43 L88.61,204.58 L88.96,204.74 L89.32,204.89 L89.67,205.05 L90.02,205.20 L90.37,205.36 L90.73,205.51 L91.08,205.67 L91.43,205.82 L91.78,205.98 L92.14,206.13 L92.49,206.29 L92.84,206.44 L93.20,206.60 L93.55,206.73 L93.90,206.87 L94.25,207.00 L94.61,207.14 L94.96,207.27 L95.31,207.40 L95.67,207.54 L96.02,207.67 L96.37,207.81 L96.72,207.94 L97.08,208.07 L97.43,208.21 L97.78,208.34 L98.14,208.47 L98.49,208.59 L98.84,208.71 L99.19,208.81 L99.55,208.89 L99.90,208.93 L100.25,208.91 L100.61,208.79 L100.96,208.54 L101.31,208.10 L101.66,207.42 L102.02,206.43 L102.37,205.07 L102.72,203.39 L103.08,201.28 L103.43,198.76 L103.78,195.90 L104.13,192.82 L104.49,189.72 L104.84,186.79 L105.19,184.28 L105.55,182.41 L105.90,181.36 L106.25,181.24 L106.60,182.10 L106.96,183.87 L107.31,186.41 L107.66,189.52 L108.02,192.99 L108.37,196.57 L108.72,200.07 L109.07,203.30 L109.43,206.18 L109.78,208.72 L110.13,210.82 L110.48,212.53 L110.84,213.88 L111.19,214.94 L111.54,215.77 L111.90,216.44 L112.25,216.98 L112.60,217.44 L112.95,217.84 L113.31,218.21 L113.66,218.56 L114.01,218.90 L114.37,219.23 L114.72,219.56 L115.07,219.88 L115.42,220.11 L115.78,220.29 L116.13,220.46 L116.48,220.64 L116.84,220.82 L117.19,220.99 L117.54,221.17 L117.89,221.35 L118.25,221.52 L118.60,221.70" stroke="#a81c1c"/><path d="M62.50,188.50 L62.85,188.71 L63.21,188.92 L63.56,189.14 L63.91,189.35 L64.26,189.56 L64.62,189.77 L64.97,189.98 L65.32,190.19 L65.68,190.41 L66.03,190.62 L66.38,190.83 L66.73,191.04 L67.09,191.25 L67.44,191.46 L67.79,191.68 L68.15,191.89 L68.50,192.10 L68.85,192.31 L69.20,192.52 L69.56,192.73 L69.91,192.95 L70.26,193.17 L70.62,193.41 L70.97,193.65 L71.32,193.88 L71.67,194.12 L72.03,194.35 L72.38,194.59 L72.73,194.82 L73.08,195.06 L73.44,195.29 L73.79,195.53 L74.14,195.76 L74.50,196.00 L74.85,196.23 L75.20,196.47 L75.55,196.70 L75.91,196.94 L76.26,197.17 L76.61,197.41 L76.97,197.64 L77.32,197.88 L77.67,198.11 L78.02,198.35 L78.38,198.58 L78.73,198.82 L79.08,199.06 L79.44,199.29 L79.79,199.53 L80.14,199.76 L80.49,200.00 L80.85,200.23 L81.20,200.47 L81.55,200.70 L81.91,200.94 L82.26,201.17 L82.61,201.41 L82.96,201.64 L83.32,201.88 L83.67,202.11 L84.02,202.35 L84.38,202.58 L84.73,202.82 L85.08,203.04 L85.43,203.19 L85.79,203.35 L86.14,203.50 L86.49,203.66 L86.85,203.81 L87.20,203.97 L87.55,204.12 L87.90,204.27 L88.26,204.43 L88.61,204.58 L88.96,204.74 L89.32,204.89 L89.67,205.05 L90.02,205.20 L90.37,205.36 L90.73,205.51 L91.08,205.67 L91.43,205.82 L91.78,205.98 L92.14,206.13 L92.49,206.29 L92.84,206.44 L93.20,206.60 L93.55,206.73 L93.90,206.87 L94.25,207.00 L94.61,207.14 L94.96,207.27 L95.31,207.40 L95.67,207.54 L96.02,207.67 L96.37,207.81 L96.72,207.94 L97.08,208.08 L97.43,208.21 L97.78,208.34 L98.14,208.48 L98.49,208.61 L98.84,208.75 L99.19,208.88 L99.55,209.01 L99.90,209.15 L100.25,209.28 L100.61,209.42 L100.96,209.55 L101.31,209.69 L101.66,209.82 L102.02,209.95 L102.37,210.09 L102.72,210.31 L103.08,210.54 L103.43,210.78 L103.78,211.01 L104.13,211.24 L104.49,211.47 L104.84,211.70 L105.19,211.93 L105.55,212.17 L105.90,212.40 L106.25,212.62 L106.60,212.84 L106.96,213.04 L107.31,213.22 L107.66,213.34 L108.02,213.38 L108.37,213.27 L108.72,212.96 L109.07,212.39 L109.43,211.49 L109.78,210.34 L110.13,208.89 L110.48,207.24 L110.84,205.59 L111.19,204.17 L111.54,203.22 L111.90,202.94 L112.25,203.42 L112.60,204.64 L112.95,206.45 L113.31,208.64 L113.66,210.97 L114.01,213.20 L114.37,215.18 L114.72,216.84 L115.07,218.15 L115.42,219.07 L115.78,219.70 L116.13,220.15 L116.48,220.48 L116.84,220.74 L117.19,220.96 L117.54,221.16 L117.89,221.34 L118.25,221.52 L118.60,221.70" stroke="#a81c1c"/><path d="M62.50,183.94 L62.85,183.20 L63.21,182.32 L63.56,181.30 L63.91,180.15 L64.26,178.87 L64.62,177.48 L64.97,175.99 L65.32,174.42 L65.68,172.81 L66.03,171.18 L66.38,169.58 L66.73,168.05 L67.09,166.62 L67.44,165.35 L67.79,164.26 L68.15,163.40 L68.50,162.80 L68.85,162.48 L69.20,162.45 L69.56,162.73 L69.91,163.32 L70.26,164.21 L70.62,165.38 L70.97,166.79 L71.32,168.42 L71.67,170.22 L72.03,172.14 L72.38,174.16 L72.73,176.22 L73.08,178.29 L73.44,180.34 L73.79,182.32 L74.14,184.22 L74.50,186.01 L74.85,187.67 L75.20,189.21 L75.55,190.61 L75.91,191.88 L76.26,193.01 L76.61,194.02 L76.97,194.91 L77.32,195.70 L77.67,196.39 L78.02,197.00 L78.38,197.54 L78.73,198.02 L79.08,198.45 L79.44,198.84 L79.79,199.19 L80.14,199.51 L80.49,199.82 L80.85,200.10 L81.20,200.37 L81.55,200.64 L81.91,200.89 L82.26,201.14 L82.61,201.39 L82.96,201.63 L83.32,201.87 L83.67,202.11 L84.02,202.34 L84.38,202.58 L84.73,202.82 L85.08,203.03 L85.43,203.19 L85.79,203.34 L86.14,203.50 L86.49,203.66 L86.85,203.81 L87.20,203.96 L87.55,204.12 L87.90,204.27 L88.26,204.43 L88.61,204.58 L88.96,204.74 L89.32,204.89 L89.67,205.05 L90.02,205.20 L90.37,205.36 L90.73,205.51 L91.08,205.67 L91.43,205.82 L91.78,205.98 L92.14,206.13 L92.49,206.29 L92.84,206.44 L93.20,206.60 L93.55,206.73 L93.90,206.87 L94.25,207.00 L94.61,207.14 L94.96,207.27 L95.31,207.40 L95.67,207.54 L96.02,207.67 L96.37,207.81 L96.72,207.94 L97.08,208.08 L97.43,208.21 L97.78,208.34 L98.14,208.48 L98.49,208.61 L98.84,208.75 L99.19,208.88 L99.55,209.01 L99.90,209.15 L100.25,209.28 L100.61,209.42 L100.96,209.55 L101.31,209.69 L101.66,209.82 L102.02,209.95 L102.37,210.09 L102.72,210.31 L103.08,210.54 L103.43,210.78 L103.78,211.01 L104.13,211.24 L104.49,211.47 L104.84,211.70 L105.19,211.94 L105.55,212.17 L105.90,212.40 L106.25,212.63 L106.60,212.86 L106.96,213.09 L107.31,213.33 L107.66,213.56 L108.02,213.79 L108.37,214.02 L108.72,214.25 L109.07,214.49 L109.43,214.72 L109.78,215.05 L110.13,215.37 L110.48,215.69 L110.84,216.01 L111.19,216.34 L111.54,216.66 L111.90,216.98 L112.25,217.30 L112.60,217.63 L112.95,217.95 L113.31,218.27 L113.66,218.59 L114.01,218.92 L114.37,219.24 L114.72,219.56 L115.07,219.88 L115.42,220.11 L115.78,220.29 L116.13,220.47 L116.48,220.64 L116.84,220.82 L117.19,220.99 L117.54,221.17 L117.89,221.35 L118.25,221.52 L118.60,221.70" stroke="#1a1ae8" stroke-width="1.4"/></g></g>
<g fill="#fff" stroke="#3c3c3c" stroke-width="0.6"><g clip-path="url(#c4)"><circle cx="22.14" cy="187.32" r="1.6"/><circle cx="23.50" cy="189.60" r="1.6"/><circle cx="26.48" cy="190.92" r="1.6"/><circle cx="27.52" cy="193.33" r="1.6"/><circle cx="26.86" cy="189.25" r="1.6"/><circle cx="27.64" cy="186.92" r="1.6"/><circle cx="29.58" cy="185.40" r="1.6"/><circle cx="32.43" cy="185.65" r="1.6"/><circle cx="31.85" cy="182.90" r="1.6"/><circle cx="33.84" cy="182.50" r="1.6"/><circle cx="34.21" cy="180.70" r="1.6"/><circle cx="35.56" cy="180.02" r="1.6"/><circle cx="35.79" cy="177.75" r="1.6"/><circle cx="36.59" cy="176.43" r="1.6"/><circle cx="40.06" cy="177.21" r="1.6"/><circle cx="39.19" cy="174.23" r="1.6"/><circle cx="42.25" cy="175.28" r="1.6"/><circle cx="43.46" cy="174.40" r="1.6"/><circle cx="42.58" cy="173.68" r="1.6"/><circle cx="44.20" cy="173.57" r="1.6"/><circle cx="45.47" cy="173.85" r="1.6"/><circle cx="45.70" cy="175.93" r="1.6"/><circle cx="48.64" cy="174.67" r="1.6"/><circle cx="49.85" cy="175.14" r="1.6"/><circle cx="49.93" cy="175.57" r="1.6"/><circle cx="50.67" cy="177.89" r="1.6"/><circle cx="51.41" cy="175.95" r="1.6"/><circle cx="53.70" cy="177.98" r="1.6"/><circle cx="54.98" cy="174.34" r="1.6"/><circle cx="54.66" cy="178.98" r="1.6"/><circle cx="56.39" cy="180.65" r="1.6"/><circle cx="56.87" cy="182.29" r="1.6"/><circle cx="57.89" cy="183.81" r="1.6"/><circle cx="59.25" cy="184.85" r="1.6"/><circle cx="60.23" cy="185.40" r="1.6"/><circle cx="62.18" cy="185.07" r="1.6"/><circle cx="63.01" cy="182.94" r="1.6"/><circle cx="64.97" cy="180.45" r="1.6"/><circle cx="65.24" cy="173.18" r="1.6"/><circle cx="65.51" cy="165.97" r="1.6"/><circle cx="67.89" cy="161.14" r="1.6"/><circle cx="68.73" cy="156.91" r="1.6"/><circle cx="70.02" cy="153.93" r="1.6"/><circle cx="70.70" cy="157.05" r="1.6"/><circle cx="73.13" cy="160.55" r="1.6"/><circle cx="73.45" cy="165.17" r="1.6"/><circle cx="74.20" cy="167.86" r="1.6"/><circle cx="75.74" cy="168.62" r="1.6"/><circle cx="76.57" cy="169.94" r="1.6"/><circle cx="76.68" cy="172.03" r="1.6"/><circle cx="78.74" cy="171.98" r="1.6"/><circle cx="79.43" cy="173.68" r="1.6"/><circle cx="80.48" cy="175.00" r="1.6"/><circle cx="82.39" cy="176.16" r="1.6"/><circle cx="83.94" cy="177.59" r="1.6"/><circle cx="83.82" cy="179.79" r="1.6"/><circle cx="85.27" cy="181.24" r="1.6"/><circle cx="86.15" cy="182.99" r="1.6"/><circle cx="87.83" cy="184.39" r="1.6"/><circle cx="87.86" cy="188.24" r="1.6"/><circle cx="90.22" cy="190.28" r="1.6"/><circle cx="91.29" cy="192.53" r="1.6"/><circle cx="91.56" cy="195.10" r="1.6"/><circle cx="92.54" cy="195.25" r="1.6"/><circle cx="93.93" cy="195.10" r="1.6"/><circle cx="94.34" cy="193.25" r="1.6"/><circle cx="96.53" cy="193.82" r="1.6"/><circle cx="96.40" cy="191.27" r="1.6"/><circle cx="98.85" cy="189.85" r="1.6"/><circle cx="99.91" cy="186.11" r="1.6"/><circle cx="99.54" cy="183.36" r="1.6"/><circle cx="101.06" cy="182.01" r="1.6"/><circle cx="102.60" cy="181.09" r="1.6"/><circle cx="104.57" cy="180.17" r="1.6"/><circle cx="104.08" cy="177.49" r="1.6"/><circle cx="105.72" cy="177.51" r="1.6"/><circle cx="107.16" cy="177.64" r="1.6"/><circle cx="107.28" cy="181.04" r="1.6"/><circle cx="108.35" cy="184.12" r="1.6"/><circle cx="111.04" cy="186.28" r="1.6"/><circle cx="112.33" cy="191.89" r="1.6"/><circle cx="113.68" cy="197.82" r="1.6"/><circle cx="114.39" cy="205.15" r="1.6"/><circle cx="115.27" cy="211.73" r="1.6"/><circle cx="116.66" cy="216.26" r="1.6"/><circle cx="116.62" cy="219.59" r="1.6"/><circle cx="117.77" cy="220.17" r="1.6"/><circle cx="119.19" cy="220.02" r="1.6"/><circle cx="119.57" cy="222.56" r="1.6"/><circle cx="121.34" cy="222.10" r="1.6"/><circle cx="122.25" cy="220.06" r="1.6"/><circle cx="122.55" cy="219.26" r="1.6"/><circle cx="125.62" cy="220.05" r="1.6"/><circle cx="126.92" cy="216.65" r="1.6"/><circle cx="125.78" cy="221.34" r="1.6"/><circle cx="119.80" cy="225.20" r="1.6"/><circle cx="124.40" cy="215.90" r="1.6"/><circle cx="69.80" cy="152.70" r="1.6"/></g></g>
<line x1="30.10" y1="234.50" x2="30.10" y2="237.10" stroke="#4d4d4d" stroke-width="0.8"/>
<text x="30.10" y="242.50" font-size="5.2" text-anchor="middle" fill="#222" stroke="#222" stroke-width="0.22" >590</text>
<line x1="48.10" y1="234.50" x2="48.10" y2="237.10" stroke="#4d4d4d" stroke-width="0.8"/>
<text x="48.10" y="242.50" font-size="5.2" text-anchor="middle" fill="#222" stroke="#222" stroke-width="0.22" >585</text>
<line x1="66.10" y1="234.50" x2="66.10" y2="237.10" stroke="#4d4d4d" stroke-width="0.8"/>
<text x="66.10" y="242.50" font-size="5.2" text-anchor="middle" fill="#222" stroke="#222" stroke-width="0.22" >580</text>
<line x1="84.10" y1="234.50" x2="84.10" y2="237.10" stroke="#4d4d4d" stroke-width="0.8"/>
<text x="84.10" y="242.50" font-size="5.2" text-anchor="middle" fill="#222" stroke="#222" stroke-width="0.22" >575</text>
<line x1="102.10" y1="234.50" x2="102.10" y2="237.10" stroke="#4d4d4d" stroke-width="0.8"/>
<text x="102.10" y="242.50" font-size="5.2" text-anchor="middle" fill="#222" stroke="#222" stroke-width="0.22" >570</text>
<line x1="120.10" y1="234.50" x2="120.10" y2="237.10" stroke="#4d4d4d" stroke-width="0.8"/>
<text x="120.10" y="242.50" font-size="5.2" text-anchor="middle" fill="#222" stroke="#222" stroke-width="0.22" >565</text>
<line x1="20.60" y1="217.30" x2="23.20" y2="217.30" stroke="#4d4d4d" stroke-width="0.8"/>
<text x="18.00" y="219.20" font-size="5.2" text-anchor="end" fill="#222" stroke="#222" stroke-width="0.22" >28</text>
<line x1="20.60" y1="194.90" x2="23.20" y2="194.90" stroke="#4d4d4d" stroke-width="0.8"/>
<text x="18.00" y="196.80" font-size="5.2" text-anchor="end" fill="#222" stroke="#222" stroke-width="0.22" >30</text>
<line x1="20.60" y1="172.50" x2="23.20" y2="172.50" stroke="#4d4d4d" stroke-width="0.8"/>
<text x="18.00" y="174.40" font-size="5.2" text-anchor="end" fill="#222" stroke="#222" stroke-width="0.22" >32</text>
<line x1="20.60" y1="150.10" x2="23.20" y2="150.10" stroke="#4d4d4d" stroke-width="0.8"/>
<text x="18.00" y="152.00" font-size="5.2" text-anchor="end" fill="#222" stroke="#222" stroke-width="0.22" >34</text>
<rect x="23.20" y="144.80" width="104.30" height="89.70" fill="none" stroke="#4d4d4d" stroke-width="1"/>
<text x="75.10" y="253.30" font-size="6.75" text-anchor="middle" fill="#111" stroke="#111" stroke-width="0.22" >Binding energy (eV)</text>
<text x="0" y="0" font-size="6.55" text-anchor="middle" fill="#111" stroke="#111" stroke-width="0.22" transform="translate(9.10,189.25) rotate(-90)">Intensity (10<tspan font-size="4.2" dy="-2.1">3</tspan><tspan dy="2.1"> CPS)</tspan></text>
<text x="34.20" y="228.60" font-size="11.8" text-anchor="start" fill="#111" stroke="#111" stroke-width="0.22" >CrN</text>
<clipPath id="c5"><rect x="162.1" y="144.8" width="104.20000000000002" height="91.69999999999999"/></clipPath>
<g clip-path="url(#c5)"><g fill="none" stroke-width="1.2" stroke-linejoin="round"><path d="M212.50,197.54 L212.69,197.40 L212.87,197.23 L213.06,197.01 L213.24,196.74 L213.43,196.43 L213.61,196.06 L213.80,195.63 L213.98,195.14 L214.17,194.59 L214.36,193.97 L214.54,193.29 L214.73,192.53 L214.91,191.72 L215.10,190.83 L215.28,189.89 L215.47,188.89 L215.65,187.83 L215.84,186.73 L216.03,185.60 L216.21,184.43 L216.40,183.24 L216.58,182.05 L216.77,180.87 L216.95,179.70 L217.14,178.57 L217.32,177.48 L217.51,176.45 L217.69,175.50 L217.88,174.64 L218.07,173.87 L218.25,173.22 L218.44,172.70 L218.62,172.31 L218.81,172.05 L218.99,171.95 L219.18,171.99 L219.36,172.18 L219.55,172.52 L219.74,173.00 L219.92,173.63 L220.11,174.39 L220.29,175.28 L220.48,176.28 L220.66,177.39 L220.85,178.59 L221.03,179.86 L221.22,181.20 L221.41,182.59 L221.59,184.02 L221.78,185.47 L221.96,186.94 L222.15,188.40 L222.33,189.84 L222.52,191.26 L222.70,192.64 L222.89,193.97 L223.08,195.26 L223.26,196.49 L223.45,197.66 L223.63,198.76 L223.82,199.80 L224.00,200.77 L224.19,201.67 L224.37,202.51 L224.56,203.29 L224.75,204.00 L224.93,204.66 L225.12,205.26 L225.30,205.80 L225.49,206.30 L225.67,206.76 L225.86,207.17 L226.04,207.55 L226.23,207.90 L226.42,208.22 L226.60,208.51 L226.79,208.78 L226.97,209.02 L227.16,209.25 L227.34,209.47 L227.53,209.67 L227.71,209.87 L227.90,210.05 L228.08,210.22 L228.27,210.39 L228.46,210.55 L228.64,210.71 L228.83,210.87 L229.01,211.02 L229.20,211.17 L229.38,211.31 L229.57,211.46 L229.75,211.60 L229.94,211.74 L230.13,211.89 L230.31,212.03 L230.50,212.17 L230.68,212.31 L230.87,212.44 L231.05,212.56 L231.24,212.67 L231.42,212.79 L231.61,212.91 L231.80,213.02 L231.98,213.14 L232.17,213.25 L232.35,213.37 L232.54,213.49 L232.72,213.60 L232.91,213.72 L233.09,213.83 L233.28,213.95 L233.47,214.07 L233.65,214.18 L233.84,214.30 L234.02,214.41 L234.21,214.53 L234.39,214.65 L234.58,214.76 L234.76,214.88 L234.95,214.99 L235.14,215.11 L235.32,215.23 L235.51,215.34 L235.69,215.46 L235.88,215.57 L236.06,215.69 L236.25,215.81 L236.43,215.92 L236.62,216.04 L236.81,216.15 L236.99,216.27 L237.18,216.39 L237.36,216.50 L237.55,216.62 L237.73,216.73 L237.92,216.85 L238.10,216.96 L238.29,217.08 L238.47,217.20 L238.66,217.31 L238.85,217.43 L239.03,217.54 L239.22,217.66 L239.40,217.78 L239.59,217.89 L239.77,218.01 L239.96,218.12 L240.14,218.24 L240.33,218.36 L240.52,218.47 L240.70,218.59 L240.89,218.70 L241.07,218.82 L241.26,218.94 L241.44,219.05 L241.63,219.17 L241.81,219.28 L242.00,219.40" stroke="#a81c1c"/><path d="M212.50,198.99 L212.69,199.12 L212.87,199.24 L213.06,199.37 L213.24,199.50 L213.43,199.62 L213.61,199.74 L213.80,199.86 L213.98,199.98 L214.17,200.09 L214.36,200.20 L214.54,200.30 L214.73,200.40 L214.91,200.49 L215.10,200.57 L215.28,200.64 L215.47,200.70 L215.65,200.75 L215.84,200.78 L216.03,200.80 L216.21,200.80 L216.40,200.77 L216.58,200.73 L216.77,200.65 L216.95,200.55 L217.14,200.42 L217.32,200.25 L217.51,200.04 L217.69,199.80 L217.88,199.51 L218.07,199.18 L218.25,198.80 L218.44,198.37 L218.62,197.89 L218.81,197.36 L218.99,196.77 L219.18,196.14 L219.36,195.45 L219.55,194.71 L219.74,193.92 L219.92,193.09 L220.11,192.22 L220.29,191.32 L220.48,190.38 L220.66,189.42 L220.85,188.45 L221.03,187.47 L221.22,186.49 L221.41,185.52 L221.59,184.57 L221.78,183.66 L221.96,182.79 L222.15,181.98 L222.33,181.23 L222.52,180.54 L222.70,179.94 L222.89,179.43 L223.08,179.02 L223.26,178.71 L223.45,178.51 L223.63,178.42 L223.82,178.45 L224.00,178.60 L224.19,178.86 L224.37,179.24 L224.56,179.73 L224.75,180.33 L224.93,181.03 L225.12,181.83 L225.30,182.72 L225.49,183.69 L225.67,184.73 L225.86,185.83 L226.04,186.98 L226.23,188.17 L226.42,189.39 L226.60,190.63 L226.79,191.88 L226.97,193.14 L227.16,194.38 L227.34,195.61 L227.53,196.81 L227.71,197.99 L227.90,199.13 L228.08,200.22 L228.27,201.28 L228.46,202.28 L228.64,203.23 L228.83,204.14 L229.01,204.99 L229.20,205.78 L229.38,206.53 L229.57,207.23 L229.75,207.87 L229.94,208.47 L230.13,209.03 L230.31,209.54 L230.50,210.01 L230.68,210.45 L230.87,210.84 L231.05,211.19 L231.24,211.51 L231.42,211.80 L231.61,212.07 L231.80,212.32 L231.98,212.55 L232.17,212.76 L232.35,212.96 L232.54,213.15 L232.72,213.32 L232.91,213.49 L233.09,213.65 L233.28,213.80 L233.47,213.94 L233.65,214.08 L233.84,214.22 L234.02,214.35 L234.21,214.48 L234.39,214.60 L234.58,214.73 L234.76,214.85 L234.95,214.97 L235.14,215.09 L235.32,215.21 L235.51,215.33 L235.69,215.45 L235.88,215.57 L236.06,215.68 L236.25,215.80 L236.43,215.92 L236.62,216.04 L236.81,216.15 L236.99,216.27 L237.18,216.38 L237.36,216.50 L237.55,216.62 L237.73,216.73 L237.92,216.85 L238.10,216.96 L238.29,217.08 L238.47,217.20 L238.66,217.31 L238.85,217.43 L239.03,217.54 L239.22,217.66 L239.40,217.78 L239.59,217.89 L239.77,218.01 L239.96,218.12 L240.14,218.24 L240.33,218.36 L240.52,218.47 L240.70,218.59 L240.89,218.70 L241.07,218.82 L241.26,218.94 L241.44,219.05 L241.63,219.17 L241.81,219.28 L242.00,219.40" stroke="#a81c1c"/><path d="M212.50,199.00 L212.69,199.13 L212.87,199.26 L213.06,199.40 L213.24,199.53 L213.43,199.66 L213.61,199.79 L213.80,199.93 L213.98,200.06 L214.17,200.19 L214.36,200.32 L214.54,200.46 L214.73,200.59 L214.91,200.72 L215.10,200.85 L215.28,200.98 L215.47,201.12 L215.65,201.25 L215.84,201.38 L216.03,201.51 L216.21,201.64 L216.40,201.76 L216.58,201.89 L216.77,202.02 L216.95,202.14 L217.14,202.27 L217.32,202.39 L217.51,202.51 L217.69,202.62 L217.88,202.74 L218.07,202.85 L218.25,202.95 L218.44,203.05 L218.62,203.14 L218.81,203.22 L218.99,203.30 L219.18,203.37 L219.36,203.42 L219.55,203.46 L219.74,203.49 L219.92,203.50 L220.11,203.49 L220.29,203.47 L220.48,203.42 L220.66,203.35 L220.85,203.25 L221.03,203.12 L221.22,202.96 L221.41,202.77 L221.59,202.54 L221.78,202.28 L221.96,201.98 L222.15,201.65 L222.33,201.27 L222.52,200.85 L222.70,200.38 L222.89,199.88 L223.08,199.33 L223.26,198.74 L223.45,198.11 L223.63,197.44 L223.82,196.74 L224.00,196.01 L224.19,195.26 L224.37,194.48 L224.56,193.68 L224.75,192.88 L224.93,192.08 L225.12,191.28 L225.30,190.49 L225.49,189.73 L225.67,188.99 L225.86,188.30 L226.04,187.64 L226.23,187.04 L226.42,186.50 L226.60,186.03 L226.79,185.64 L226.97,185.32 L227.16,185.09 L227.34,184.95 L227.53,184.90 L227.71,184.95 L227.90,185.09 L228.08,185.33 L228.27,185.66 L228.46,186.09 L228.64,186.60 L228.83,187.20 L229.01,187.88 L229.20,188.64 L229.38,189.46 L229.57,190.34 L229.75,191.28 L229.94,192.26 L230.13,193.27 L230.31,194.32 L230.50,195.38 L230.68,196.46 L230.87,197.53 L231.05,198.59 L231.24,199.64 L231.42,200.67 L231.61,201.68 L231.80,202.66 L231.98,203.62 L232.17,204.53 L232.35,205.42 L232.54,206.26 L232.72,207.06 L232.91,207.82 L233.09,208.53 L233.28,209.21 L233.47,209.84 L233.65,210.43 L233.84,210.98 L234.02,211.49 L234.21,211.96 L234.39,212.40 L234.58,212.80 L234.76,213.18 L234.95,213.52 L235.14,213.84 L235.32,214.14 L235.51,214.41 L235.69,214.67 L235.88,214.90 L236.06,215.12 L236.25,215.33 L236.43,215.52 L236.62,215.70 L236.81,215.88 L236.99,216.04 L237.18,216.19 L237.36,216.34 L237.55,216.49 L237.73,216.63 L237.92,216.76 L238.10,216.90 L238.29,217.03 L238.47,217.15 L238.66,217.28 L238.85,217.40 L239.03,217.52 L239.22,217.64 L239.40,217.76 L239.59,217.88 L239.77,218.00 L239.96,218.12 L240.14,218.24 L240.33,218.35 L240.52,218.47 L240.70,218.59 L240.89,218.70 L241.07,218.82 L241.26,218.94 L241.44,219.05 L241.63,219.17 L241.81,219.28 L242.00,219.40" stroke="#a81c1c"/><path d="M212.50,199.00 L212.69,199.13 L212.87,199.27 L213.06,199.40 L213.24,199.53 L213.43,199.66 L213.61,199.80 L213.80,199.93 L213.98,200.06 L214.17,200.19 L214.36,200.33 L214.54,200.46 L214.73,200.59 L214.91,200.72 L215.10,200.86 L215.28,200.99 L215.47,201.12 L215.65,201.25 L215.84,201.39 L216.03,201.52 L216.21,201.65 L216.40,201.78 L216.58,201.92 L216.77,202.05 L216.95,202.18 L217.14,202.31 L217.32,202.45 L217.51,202.58 L217.69,202.71 L217.88,202.84 L218.07,202.97 L218.25,203.11 L218.44,203.24 L218.62,203.37 L218.81,203.50 L218.99,203.63 L219.18,203.76 L219.36,203.90 L219.55,204.03 L219.74,204.16 L219.92,204.29 L220.11,204.42 L220.29,204.54 L220.48,204.67 L220.66,204.80 L220.85,204.92 L221.03,205.05 L221.22,205.17 L221.41,205.29 L221.59,205.41 L221.78,205.53 L221.96,205.65 L222.15,205.77 L222.33,205.88 L222.52,205.98 L222.70,206.09 L222.89,206.18 L223.08,206.27 L223.26,206.35 L223.45,206.43 L223.63,206.49 L223.82,206.54 L224.00,206.59 L224.19,206.61 L224.37,206.63 L224.56,206.63 L224.75,206.61 L224.93,206.58 L225.12,206.52 L225.30,206.44 L225.49,206.35 L225.67,206.22 L225.86,206.08 L226.04,205.90 L226.23,205.70 L226.42,205.47 L226.60,205.21 L226.79,204.91 L226.97,204.59 L227.16,204.24 L227.34,203.85 L227.53,203.43 L227.71,202.99 L227.90,202.51 L228.08,202.00 L228.27,201.47 L228.46,200.91 L228.64,200.33 L228.83,199.73 L229.01,199.11 L229.20,198.48 L229.38,197.83 L229.57,197.19 L229.75,196.54 L229.94,195.90 L230.13,195.26 L230.31,194.64 L230.50,194.04 L230.68,193.47 L230.87,192.91 L231.05,192.38 L231.24,191.88 L231.42,191.44 L231.61,191.04 L231.80,190.69 L231.98,190.41 L232.17,190.18 L232.35,190.02 L232.54,189.93 L232.72,189.91 L232.91,189.95 L233.09,190.07 L233.28,190.26 L233.47,190.51 L233.65,190.84 L233.84,191.23 L234.02,191.69 L234.21,192.21 L234.39,192.78 L234.58,193.42 L234.76,194.10 L234.95,194.82 L235.14,195.59 L235.32,196.39 L235.51,197.22 L235.69,198.08 L235.88,198.95 L236.06,199.84 L236.25,200.74 L236.43,201.64 L236.62,202.55 L236.81,203.44 L236.99,204.33 L237.18,205.20 L237.36,206.06 L237.55,206.90 L237.73,207.71 L237.92,208.50 L238.10,209.26 L238.29,209.99 L238.47,210.69 L238.66,211.37 L238.85,212.01 L239.03,212.62 L239.22,213.19 L239.40,213.74 L239.59,214.25 L239.77,214.74 L239.96,215.20 L240.14,215.63 L240.33,216.03 L240.52,216.41 L240.70,216.76 L240.89,217.09 L241.07,217.40 L241.26,217.69 L241.44,217.96 L241.63,218.22 L241.81,218.46 L242.00,218.68" stroke="#a81c1c"/><path d="M212.50,199.00 L212.69,199.13 L212.87,199.27 L213.06,199.40 L213.24,199.53 L213.43,199.66 L213.61,199.80 L213.80,199.93 L213.98,200.06 L214.17,200.19 L214.36,200.33 L214.54,200.46 L214.73,200.59 L214.91,200.72 L215.10,200.86 L215.28,200.99 L215.47,201.12 L215.65,201.25 L215.84,201.39 L216.03,201.52 L216.21,201.65 L216.40,201.78 L216.58,201.92 L216.77,202.05 L216.95,202.18 L217.14,202.31 L217.32,202.45 L217.51,202.58 L217.69,202.71 L217.88,202.84 L218.07,202.98 L218.25,203.11 L218.44,203.24 L218.62,203.37 L218.81,203.51 L218.99,203.64 L219.18,203.77 L219.36,203.90 L219.55,204.04 L219.74,204.17 L219.92,204.30 L220.11,204.43 L220.29,204.57 L220.48,204.70 L220.66,204.83 L220.85,204.96 L221.03,205.10 L221.22,205.23 L221.41,205.36 L221.59,205.49 L221.78,205.63 L221.96,205.77 L222.15,205.91 L222.33,206.05 L222.52,206.19 L222.70,206.33 L222.89,206.47 L223.08,206.61 L223.26,206.75 L223.45,206.88 L223.63,207.02 L223.82,207.16 L224.00,207.30 L224.19,207.44 L224.37,207.58 L224.56,207.72 L224.75,207.86 L224.93,208.00 L225.12,208.14 L225.30,208.28 L225.49,208.42 L225.67,208.55 L225.86,208.69 L226.04,208.83 L226.23,208.97 L226.42,209.11 L226.60,209.25 L226.79,209.39 L226.97,209.53 L227.16,209.67 L227.34,209.81 L227.53,209.95 L227.71,210.09 L227.90,210.22 L228.08,210.36 L228.27,210.50 L228.46,210.64 L228.64,210.78 L228.83,210.92 L229.01,211.06 L229.20,211.20 L229.38,211.34 L229.57,211.48 L229.75,211.62 L229.94,211.76 L230.13,211.89 L230.31,212.03 L230.50,212.17 L230.68,212.31 L230.87,212.44 L231.05,212.56 L231.24,212.67 L231.42,212.79 L231.61,212.91 L231.80,213.02 L231.98,213.14 L232.17,213.25 L232.35,213.37 L232.54,213.49 L232.72,213.60 L232.91,213.72 L233.09,213.83 L233.28,213.95 L233.47,214.07 L233.65,214.18 L233.84,214.30 L234.02,214.41 L234.21,214.53 L234.39,214.65 L234.58,214.76 L234.76,214.88 L234.95,214.99 L235.14,215.11 L235.32,215.23 L235.51,215.34 L235.69,215.46 L235.88,215.57 L236.06,215.69 L236.25,215.81 L236.43,215.92 L236.62,216.04 L236.81,216.15 L236.99,216.27 L237.18,216.39 L237.36,216.50 L237.55,216.62 L237.73,216.73 L237.92,216.85 L238.10,216.96 L238.29,217.08 L238.47,217.20 L238.66,217.31 L238.85,217.43 L239.03,217.54 L239.22,217.66 L239.40,217.78 L239.59,217.89 L239.77,218.01 L239.96,218.12 L240.14,218.24 L240.33,218.36 L240.52,218.47 L240.70,218.59 L240.89,218.70 L241.07,218.82 L241.26,218.94 L241.44,219.05 L241.63,219.17 L241.81,219.28 L242.00,219.40" stroke="#111"/><path d="M212.50,188.86 L212.69,187.90 L212.87,186.93 L213.06,185.96 L213.24,185.03 L213.43,184.14 L213.61,183.32 L213.80,182.60 L213.98,181.99 L214.17,181.50 L214.36,181.16 L214.54,180.98 L214.73,180.96 L214.91,181.11 L215.10,181.43 L215.28,181.91 L215.47,182.54 L215.65,183.32 L215.84,184.22 L216.03,185.24 L216.21,186.33 L216.40,187.50 L216.58,188.71 L216.77,189.94 L216.95,191.18 L217.14,192.40 L217.32,193.59 L217.51,194.73 L217.69,195.82 L217.88,196.84 L218.07,197.80 L218.25,198.68 L218.44,199.48 L218.62,200.21 L218.81,200.87 L218.99,201.46 L219.18,201.98 L219.36,202.45 L219.55,202.87 L219.74,203.23 L219.92,203.56" stroke="#1a1ae8" stroke-width="1.4"/></g></g>
<g fill="#fff" stroke="#3c3c3c" stroke-width="0.6"><g clip-path="url(#c5)"><circle cx="162.67" cy="200.24" r="1.6"/><circle cx="164.20" cy="199.11" r="1.6"/><circle cx="163.99" cy="196.55" r="1.6"/><circle cx="164.67" cy="195.90" r="1.6"/><circle cx="166.24" cy="195.25" r="1.6"/><circle cx="167.03" cy="194.06" r="1.6"/><circle cx="167.74" cy="194.68" r="1.6"/><circle cx="169.04" cy="194.17" r="1.6"/><circle cx="170.41" cy="193.46" r="1.6"/><circle cx="172.60" cy="193.30" r="1.6"/><circle cx="174.05" cy="191.96" r="1.6"/><circle cx="174.89" cy="190.78" r="1.6"/><circle cx="174.23" cy="188.34" r="1.6"/><circle cx="176.97" cy="188.37" r="1.6"/><circle cx="176.47" cy="186.23" r="1.6"/><circle cx="178.47" cy="185.57" r="1.6"/><circle cx="179.72" cy="184.69" r="1.6"/><circle cx="180.89" cy="183.86" r="1.6"/><circle cx="179.96" cy="180.80" r="1.6"/><circle cx="181.47" cy="179.58" r="1.6"/><circle cx="182.92" cy="178.38" r="1.6"/><circle cx="183.41" cy="176.56" r="1.6"/><circle cx="185.82" cy="176.41" r="1.6"/><circle cx="186.29" cy="176.05" r="1.6"/><circle cx="185.25" cy="172.48" r="1.6"/><circle cx="186.57" cy="172.05" r="1.6"/><circle cx="187.03" cy="170.55" r="1.6"/><circle cx="189.42" cy="170.64" r="1.6"/><circle cx="189.84" cy="171.66" r="1.6"/><circle cx="190.71" cy="172.11" r="1.6"/><circle cx="193.16" cy="174.00" r="1.6"/><circle cx="191.87" cy="178.41" r="1.6"/><circle cx="193.48" cy="180.44" r="1.6"/><circle cx="195.22" cy="182.41" r="1.6"/><circle cx="195.50" cy="184.93" r="1.6"/><circle cx="196.75" cy="186.99" r="1.6"/><circle cx="196.54" cy="189.91" r="1.6"/><circle cx="200.29" cy="190.09" r="1.6"/><circle cx="199.98" cy="190.45" r="1.6"/><circle cx="201.49" cy="191.81" r="1.6"/><circle cx="202.13" cy="191.98" r="1.6"/><circle cx="202.05" cy="195.01" r="1.6"/><circle cx="204.81" cy="195.01" r="1.6"/><circle cx="204.84" cy="198.45" r="1.6"/><circle cx="205.46" cy="194.99" r="1.6"/><circle cx="208.12" cy="196.19" r="1.6"/><circle cx="207.44" cy="193.24" r="1.6"/><circle cx="208.78" cy="191.42" r="1.6"/><circle cx="210.37" cy="189.88" r="1.6"/><circle cx="212.37" cy="188.51" r="1.6"/><circle cx="211.92" cy="185.46" r="1.6"/><circle cx="212.46" cy="182.44" r="1.6"/><circle cx="215.08" cy="181.25" r="1.6"/><circle cx="214.22" cy="176.28" r="1.6"/><circle cx="217.44" cy="173.13" r="1.6"/><circle cx="218.07" cy="167.23" r="1.6"/><circle cx="217.82" cy="156.56" r="1.6"/><circle cx="220.02" cy="155.40" r="1.6"/><circle cx="220.88" cy="158.89" r="1.6"/><circle cx="221.55" cy="159.41" r="1.6"/><circle cx="222.82" cy="159.73" r="1.6"/><circle cx="222.90" cy="162.29" r="1.6"/><circle cx="223.13" cy="163.85" r="1.6"/><circle cx="225.03" cy="164.63" r="1.6"/><circle cx="226.78" cy="164.43" r="1.6"/><circle cx="226.92" cy="165.90" r="1.6"/><circle cx="227.78" cy="166.92" r="1.6"/><circle cx="229.33" cy="166.67" r="1.6"/><circle cx="230.06" cy="167.47" r="1.6"/><circle cx="230.61" cy="169.12" r="1.6"/><circle cx="232.22" cy="169.54" r="1.6"/><circle cx="232.87" cy="172.03" r="1.6"/><circle cx="235.36" cy="175.15" r="1.6"/><circle cx="234.43" cy="180.43" r="1.6"/><circle cx="235.50" cy="182.72" r="1.6"/><circle cx="237.57" cy="185.25" r="1.6"/><circle cx="237.63" cy="189.52" r="1.6"/><circle cx="240.35" cy="192.87" r="1.6"/><circle cx="239.34" cy="200.14" r="1.6"/><circle cx="240.91" cy="206.21" r="1.6"/><circle cx="242.07" cy="214.37" r="1.6"/><circle cx="243.62" cy="217.27" r="1.6"/><circle cx="243.87" cy="220.09" r="1.6"/><circle cx="244.75" cy="222.45" r="1.6"/><circle cx="247.51" cy="222.48" r="1.6"/><circle cx="246.31" cy="226.18" r="1.6"/><circle cx="247.96" cy="225.90" r="1.6"/><circle cx="249.74" cy="225.68" r="1.6"/><circle cx="250.71" cy="225.85" r="1.6"/><circle cx="252.09" cy="225.87" r="1.6"/><circle cx="252.18" cy="228.36" r="1.6"/><circle cx="252.47" cy="229.95" r="1.6"/><circle cx="253.80" cy="227.23" r="1.6"/><circle cx="255.22" cy="227.10" r="1.6"/><circle cx="256.17" cy="225.84" r="1.6"/><circle cx="256.53" cy="229.27" r="1.6"/><circle cx="258.33" cy="227.73" r="1.6"/><circle cx="259.71" cy="228.57" r="1.6"/><circle cx="259.24" cy="231.24" r="1.6"/><circle cx="262.35" cy="229.42" r="1.6"/><circle cx="261.81" cy="232.28" r="1.6"/><circle cx="263.32" cy="232.08" r="1.6"/><circle cx="264.65" cy="231.78" r="1.6"/><circle cx="192.40" cy="163.20" r="1.6"/><circle cx="185.50" cy="177.10" r="1.6"/><circle cx="189.00" cy="175.90" r="1.6"/><circle cx="218.10" cy="153.90" r="1.6"/><circle cx="252.90" cy="232.10" r="1.6"/><circle cx="257.50" cy="233.30" r="1.6"/><circle cx="263.30" cy="232.10" r="1.6"/></g></g>
<line x1="170.40" y1="236.50" x2="170.40" y2="239.10" stroke="#4d4d4d" stroke-width="0.8"/>
<text x="170.40" y="244.50" font-size="5.2" text-anchor="middle" fill="#222" stroke="#222" stroke-width="0.22" >590</text>
<line x1="192.12" y1="236.50" x2="192.12" y2="239.10" stroke="#4d4d4d" stroke-width="0.8"/>
<text x="192.12" y="244.50" font-size="5.2" text-anchor="middle" fill="#222" stroke="#222" stroke-width="0.22" >585</text>
<line x1="213.85" y1="236.50" x2="213.85" y2="239.10" stroke="#4d4d4d" stroke-width="0.8"/>
<text x="213.85" y="244.50" font-size="5.2" text-anchor="middle" fill="#222" stroke="#222" stroke-width="0.22" >580</text>
<line x1="235.57" y1="236.50" x2="235.57" y2="239.10" stroke="#4d4d4d" stroke-width="0.8"/>
<text x="235.57" y="244.50" font-size="5.2" text-anchor="middle" fill="#222" stroke="#222" stroke-width="0.22" >575</text>
<line x1="257.30" y1="236.50" x2="257.30" y2="239.10" stroke="#4d4d4d" stroke-width="0.8"/>
<text x="257.30" y="244.50" font-size="5.2" text-anchor="middle" fill="#222" stroke="#222" stroke-width="0.22" >570</text>
<line x1="159.50" y1="228.20" x2="162.10" y2="228.20" stroke="#4d4d4d" stroke-width="0.8"/>
<text x="156.90" y="230.10" font-size="5.2" text-anchor="end" fill="#222" stroke="#222" stroke-width="0.22" >25</text>
<line x1="159.50" y1="207.90" x2="162.10" y2="207.90" stroke="#4d4d4d" stroke-width="0.8"/>
<text x="156.90" y="209.80" font-size="5.2" text-anchor="end" fill="#222" stroke="#222" stroke-width="0.22" >26</text>
<line x1="159.50" y1="187.60" x2="162.10" y2="187.60" stroke="#4d4d4d" stroke-width="0.8"/>
<text x="156.90" y="189.50" font-size="5.2" text-anchor="end" fill="#222" stroke="#222" stroke-width="0.22" >27</text>
<line x1="159.50" y1="167.30" x2="162.10" y2="167.30" stroke="#4d4d4d" stroke-width="0.8"/>
<text x="156.90" y="169.20" font-size="5.2" text-anchor="end" fill="#222" stroke="#222" stroke-width="0.22" >28</text>
<line x1="159.50" y1="147.00" x2="162.10" y2="147.00" stroke="#4d4d4d" stroke-width="0.8"/>
<text x="156.90" y="148.90" font-size="5.2" text-anchor="end" fill="#222" stroke="#222" stroke-width="0.22" >29</text>
<rect x="162.10" y="144.80" width="104.20" height="91.70" fill="none" stroke="#4d4d4d" stroke-width="1"/>
<text x="214.20" y="254.80" font-size="6.75" text-anchor="middle" fill="#111" stroke="#111" stroke-width="0.22" >Binding energy (eV)</text>
<text x="0" y="0" font-size="6.55" text-anchor="middle" fill="#111" stroke="#111" stroke-width="0.22" transform="translate(148.00,190.25) rotate(-90)">Intensity (10<tspan font-size="4.2" dy="-2.1">3</tspan><tspan dy="2.1"> CPS)</tspan></text>
<text x="175.90" y="231.70" font-size="11" text-anchor="start" fill="#111" stroke="#111" stroke-width="0.22" >CrB</text>
<clipPath id="c6"><rect x="299.3" y="145.5" width="104.30000000000001" height="89.5"/></clipPath>
<g clip-path="url(#c6)"><g fill="none" stroke-width="1.2" stroke-linejoin="round"><path d="M350.00,201.18 L350.34,200.98 L350.67,200.79 L351.01,200.60 L351.34,200.41 L351.68,200.22 L352.02,200.03 L352.35,199.84 L352.69,199.50 L353.03,198.74 L353.36,197.99 L353.70,197.23 L354.03,196.32 L354.37,195.34 L354.71,194.36 L355.04,193.37 L355.38,192.30 L355.71,191.23 L356.05,190.16 L356.39,189.56 L356.72,189.05 L357.06,188.54 L357.39,188.03 L357.73,187.52 L358.07,187.01 L358.40,186.49 L358.74,185.84 L359.08,185.18 L359.41,184.52 L359.75,183.86 L360.08,183.21 L360.42,182.55 L360.76,181.84 L361.09,180.88 L361.43,179.92 L361.76,178.96 L362.10,178.00 L362.44,177.09 L362.77,176.19 L363.11,175.28 L363.45,174.35 L363.78,173.27 L364.12,172.18 L364.45,171.10 L364.79,169.99 L365.13,168.84 L365.46,167.70 L365.80,166.55 L366.13,165.54 L366.47,164.60 L366.81,163.66 L367.14,162.72 L367.48,161.85 L367.82,161.24 L368.15,160.62 L368.49,160.00 L368.82,159.38 L369.16,158.76 L369.50,158.37 L369.83,158.15 L370.17,157.92 L370.50,157.70 L370.84,157.47 L371.18,157.39 L371.51,157.78 L371.85,158.17 L372.18,158.56 L372.52,158.95 L372.86,159.33 L373.19,160.08 L373.53,161.09 L373.87,162.10 L374.20,163.11 L374.54,164.12 L374.87,165.19 L375.21,166.26 L375.55,167.33 L375.88,168.60 L376.22,169.91 L376.55,171.22 L376.89,172.76 L377.23,174.33 L377.56,175.89 L377.90,177.59 L378.24,179.61 L378.57,181.63 L378.91,183.85 L379.24,186.49 L379.58,189.38 L379.92,193.08 L380.25,196.52 L380.59,199.88 L380.92,201.75 L381.26,202.88 L381.60,204.01 L381.93,205.13 L382.27,206.26 L382.61,207.25 L382.94,208.16 L383.28,209.06 L383.61,209.97 L383.95,210.87 L384.29,211.78 L384.62,212.68 L384.96,213.59 L385.29,214.19 L385.63,214.74 L385.97,215.30 L386.30,215.85 L386.64,216.41 L386.97,216.97 L387.31,217.52 L387.65,218.07 L387.98,218.61 L388.32,219.14 L388.66,219.68 L388.99,220.21 L389.33,220.73 L389.66,221.05 L390.00,221.38" stroke="#000" stroke-width="1.2"/><path d="M345.00,203.50 L345.32,203.40 L345.64,203.31 L345.96,203.21 L346.28,203.12 L346.60,203.02 L346.92,202.92 L347.25,202.83 L347.57,202.73 L347.89,202.63 L348.21,202.54 L348.53,202.44 L348.85,202.35 L349.17,202.25 L349.49,202.15 L349.81,202.06 L350.13,202.00 L350.45,202.02 L350.77,202.03 L351.09,202.04 L351.42,202.05 L351.74,202.06 L352.06,202.08 L352.38,202.09 L352.70,202.10 L353.02,202.11 L353.34,202.12 L353.66,202.13 L353.98,202.14 L354.30,202.15 L354.62,202.16 L354.94,202.16 L355.26,202.16 L355.58,202.18 L355.91,202.22 L356.23,202.24 L356.55,202.23 L356.87,202.19 L357.19,202.10 L357.51,201.94 L357.83,201.70 L358.15,201.37 L358.47,200.93 L358.79,200.36 L359.11,199.66 L359.43,198.83 L359.75,197.88 L360.08,196.82 L360.40,195.69 L360.72,194.54 L361.04,193.56 L361.36,192.65 L361.68,191.89 L362.00,191.31 L362.32,190.98 L362.64,190.92 L362.96,191.16 L363.28,191.69 L363.60,192.50 L363.92,193.55 L364.25,194.82 L364.57,196.28 L364.89,197.82 L365.21,199.37 L365.53,200.89 L365.85,202.34 L366.17,203.68 L366.49,204.91 L366.81,205.99 L367.13,206.95 L367.45,207.79 L367.77,208.51 L368.09,209.14 L368.42,209.69 L368.74,210.18 L369.06,210.62 L369.38,211.01 L369.70,211.39 L370.02,211.74 L370.34,212.08 L370.66,212.41 L370.98,212.74 L371.30,213.06 L371.62,213.37 L371.94,213.69 L372.26,214.01 L372.58,214.32 L372.91,214.64 L373.23,214.95 L373.55,215.27 L373.87,215.58 L374.19,215.90 L374.51,216.21 L374.83,216.45 L375.15,216.67 L375.47,216.89 L375.79,217.10 L376.11,217.32 L376.43,217.53 L376.75,217.75 L377.08,217.97 L377.40,218.18 L377.72,218.40 L378.04,218.61 L378.36,218.83 L378.68,219.05 L379.00,219.26 L379.32,219.48 L379.64,219.69 L379.96,219.85 L380.28,219.96 L380.60,220.06 L380.92,220.17 L381.25,220.27 L381.57,220.38 L381.89,220.48 L382.21,220.59 L382.53,220.69 L382.85,220.80 L383.17,220.90 L383.49,221.01 L383.81,221.11 L384.13,221.22 L384.45,221.32 L384.77,221.43 L385.09,221.52 L385.42,221.57 L385.74,221.63 L386.06,221.68 L386.38,221.74 L386.70,221.79 L387.02,221.85 L387.34,221.90 L387.66,221.96 L387.98,222.02 L388.30,222.07 L388.62,222.13 L388.94,222.18 L389.26,222.24 L389.58,222.29 L389.91,222.35 L390.23,222.40 L390.55,222.44 L390.87,222.47 L391.19,222.50 L391.51,222.54 L391.83,222.57 L392.15,222.60 L392.47,222.64 L392.79,222.67 L393.11,222.70 L393.43,222.73 L393.75,222.77 L394.08,222.80 L394.40,222.83 L394.72,222.87 L395.04,222.90 L395.36,222.93 L395.68,222.97 L396.00,223.00" stroke="#a81c1c"/><path d="M345.00,203.50 L345.32,203.40 L345.64,203.31 L345.96,203.21 L346.28,203.12 L346.60,203.02 L346.92,202.92 L347.25,202.83 L347.57,202.73 L347.89,202.63 L348.21,202.54 L348.53,202.44 L348.85,202.35 L349.17,202.25 L349.49,202.15 L349.81,202.06 L350.13,202.00 L350.45,202.02 L350.77,202.03 L351.09,202.04 L351.42,202.05 L351.74,202.06 L352.06,202.08 L352.38,202.09 L352.70,202.10 L353.02,202.11 L353.34,202.12 L353.66,202.14 L353.98,202.15 L354.30,202.16 L354.62,202.17 L354.94,202.18 L355.26,202.19 L355.58,202.25 L355.91,202.32 L356.23,202.40 L356.55,202.48 L356.87,202.56 L357.19,202.63 L357.51,202.71 L357.83,202.78 L358.15,202.85 L358.47,202.92 L358.79,202.97 L359.11,203.01 L359.43,203.03 L359.75,203.02 L360.08,202.97 L360.40,202.86 L360.72,202.69 L361.04,202.57 L361.36,202.33 L361.68,201.94 L362.00,201.40 L362.32,200.67 L362.64,199.74 L362.96,198.63 L363.28,197.33 L363.60,195.89 L363.92,194.34 L364.25,192.79 L364.57,191.31 L364.89,189.97 L365.21,188.82 L365.53,187.98 L365.85,187.49 L366.17,187.41 L366.49,187.76 L366.81,188.55 L367.13,189.74 L367.45,191.28 L367.77,193.10 L368.09,195.10 L368.42,197.22 L368.74,199.36 L369.06,201.44 L369.38,203.41 L369.70,205.22 L370.02,206.86 L370.34,208.29 L370.66,209.54 L370.98,210.60 L371.30,211.51 L371.62,212.27 L371.94,212.92 L372.26,213.48 L372.58,213.97 L372.91,214.41 L373.23,214.81 L373.55,215.18 L373.87,215.53 L374.19,215.86 L374.51,216.19 L374.83,216.44 L375.15,216.66 L375.47,216.88 L375.79,217.10 L376.11,217.32 L376.43,217.53 L376.75,217.75 L377.08,217.97 L377.40,218.18 L377.72,218.40 L378.04,218.61 L378.36,218.83 L378.68,219.05 L379.00,219.26 L379.32,219.48 L379.64,219.69 L379.96,219.85 L380.28,219.96 L380.60,220.06 L380.92,220.17 L381.25,220.27 L381.57,220.38 L381.89,220.48 L382.21,220.59 L382.53,220.69 L382.85,220.80 L383.17,220.90 L383.49,221.01 L383.81,221.11 L384.13,221.22 L384.45,221.32 L384.77,221.43 L385.09,221.52 L385.42,221.57 L385.74,221.63 L386.06,221.68 L386.38,221.74 L386.70,221.79 L387.02,221.85 L387.34,221.90 L387.66,221.96 L387.98,222.02 L388.30,222.07 L388.62,222.13 L388.94,222.18 L389.26,222.24 L389.58,222.29 L389.91,222.35 L390.23,222.40 L390.55,222.44 L390.87,222.47 L391.19,222.50 L391.51,222.54 L391.83,222.57 L392.15,222.60 L392.47,222.64 L392.79,222.67 L393.11,222.70 L393.43,222.73 L393.75,222.77 L394.08,222.80 L394.40,222.83 L394.72,222.87 L395.04,222.90 L395.36,222.93 L395.68,222.97 L396.00,223.00" stroke="#a81c1c"/><path d="M345.00,203.50 L345.32,203.40 L345.64,203.31 L345.96,203.21 L346.28,203.12 L346.60,203.02 L346.92,202.92 L347.25,202.83 L347.57,202.73 L347.89,202.63 L348.21,202.54 L348.53,202.44 L348.85,202.35 L349.17,202.25 L349.49,202.15 L349.81,202.06 L350.13,202.00 L350.45,202.02 L350.77,202.03 L351.09,202.04 L351.42,202.05 L351.74,202.06 L352.06,202.08 L352.38,202.09 L352.70,202.10 L353.02,202.11 L353.34,202.12 L353.66,202.14 L353.98,202.15 L354.30,202.16 L354.62,202.17 L354.94,202.18 L355.26,202.19 L355.58,202.25 L355.91,202.32 L356.23,202.40 L356.55,202.48 L356.87,202.56 L357.19,202.64 L357.51,202.72 L357.83,202.80 L358.15,202.87 L358.47,202.95 L358.79,203.03 L359.11,203.11 L359.43,203.19 L359.75,203.27 L360.08,203.34 L360.40,203.42 L360.72,203.50 L361.04,203.72 L361.36,203.94 L361.68,204.15 L362.00,204.34 L362.32,204.51 L362.64,204.64 L362.96,204.73 L363.28,204.75 L363.60,204.67 L363.92,204.49 L364.25,204.18 L364.57,203.74 L364.89,203.08 L365.21,202.16 L365.53,200.95 L365.85,199.44 L366.17,197.62 L366.49,195.49 L366.81,193.10 L367.13,190.51 L367.45,187.79 L367.77,185.05 L368.09,182.43 L368.42,180.04 L368.74,178.03 L369.06,176.51 L369.38,175.59 L369.70,175.34 L370.02,175.78 L370.34,176.91 L370.66,178.69 L370.98,181.03 L371.30,183.82 L371.62,186.94 L371.94,190.25 L372.26,193.62 L372.58,196.94 L372.91,200.09 L373.23,203.02 L373.55,205.67 L373.87,208.01 L374.19,210.04 L374.51,211.76 L374.83,213.14 L375.15,214.25 L375.47,215.16 L375.79,215.89 L376.11,216.48 L376.43,216.97 L376.75,217.38 L377.08,217.72 L377.40,218.03 L377.72,218.30 L378.04,218.55 L378.36,218.79 L378.68,219.02 L379.00,219.25 L379.32,219.47 L379.64,219.69 L379.96,219.85 L380.28,219.96 L380.60,220.06 L380.92,220.17 L381.25,220.27 L381.57,220.38 L381.89,220.48 L382.21,220.59 L382.53,220.69 L382.85,220.80 L383.17,220.90 L383.49,221.01 L383.81,221.11 L384.13,221.22 L384.45,221.32 L384.77,221.43 L385.09,221.52 L385.42,221.57 L385.74,221.63 L386.06,221.68 L386.38,221.74 L386.70,221.79 L387.02,221.85 L387.34,221.90 L387.66,221.96 L387.98,222.02 L388.30,222.07 L388.62,222.13 L388.94,222.18 L389.26,222.24 L389.58,222.29 L389.91,222.35 L390.23,222.40 L390.55,222.44 L390.87,222.47 L391.19,222.50 L391.51,222.54 L391.83,222.57 L392.15,222.60 L392.47,222.64 L392.79,222.67 L393.11,222.70 L393.43,222.73 L393.75,222.77 L394.08,222.80 L394.40,222.83 L394.72,222.87 L395.04,222.90 L395.36,222.93 L395.68,222.97 L396.00,223.00" stroke="#a81c1c"/><path d="M345.00,203.50 L345.32,203.40 L345.64,203.31 L345.96,203.21 L346.28,203.12 L346.60,203.02 L346.92,202.92 L347.25,202.83 L347.57,202.73 L347.89,202.63 L348.21,202.54 L348.53,202.44 L348.85,202.35 L349.17,202.25 L349.49,202.15 L349.81,202.06 L350.13,202.00 L350.45,202.02 L350.77,202.03 L351.09,202.04 L351.42,202.05 L351.74,202.06 L352.06,202.08 L352.38,202.09 L352.70,202.10 L353.02,202.11 L353.34,202.12 L353.66,202.14 L353.98,202.15 L354.30,202.16 L354.62,202.17 L354.94,202.18 L355.26,202.19 L355.58,202.25 L355.91,202.32 L356.23,202.40 L356.55,202.48 L356.87,202.56 L357.19,202.64 L357.51,202.72 L357.83,202.80 L358.15,202.87 L358.47,202.95 L358.79,203.03 L359.11,203.11 L359.43,203.19 L359.75,203.27 L360.08,203.35 L360.40,203.43 L360.72,203.51 L361.04,203.75 L361.36,203.98 L361.68,204.22 L362.00,204.46 L362.32,204.69 L362.64,204.93 L362.96,205.16 L363.28,205.40 L363.60,205.63 L363.92,205.86 L364.25,206.12 L364.57,206.42 L364.89,206.71 L365.21,206.99 L365.53,207.25 L365.85,207.48 L366.17,207.66 L366.49,207.78 L366.81,207.82 L367.13,207.76 L367.45,207.55 L367.77,207.16 L368.09,206.55 L368.42,205.69 L368.74,204.54 L369.06,203.06 L369.38,201.24 L369.70,199.09 L370.02,196.62 L370.34,193.88 L370.66,190.95 L370.98,187.93 L371.30,184.95 L371.62,182.14 L371.94,179.65 L372.26,177.62 L372.58,176.19 L372.91,175.43 L373.23,175.43 L373.55,176.19 L373.87,177.69 L374.19,179.86 L374.51,182.60 L374.83,185.71 L375.15,189.09 L375.47,192.62 L375.79,196.16 L376.11,199.60 L376.43,202.83 L376.75,205.78 L377.08,208.41 L377.40,210.70 L377.72,212.65 L378.04,214.29 L378.36,215.63 L378.68,216.73 L379.00,217.62 L379.32,218.33 L379.64,218.91 L379.96,219.33 L380.28,219.61 L380.60,219.84 L380.92,220.03 L381.25,220.19 L381.57,220.32 L381.89,220.45 L382.21,220.57 L382.53,220.68 L382.85,220.79 L383.17,220.90 L383.49,221.00 L383.81,221.11 L384.13,221.22 L384.45,221.32 L384.77,221.43 L385.09,221.52 L385.42,221.57 L385.74,221.63 L386.06,221.68 L386.38,221.74 L386.70,221.79 L387.02,221.85 L387.34,221.90 L387.66,221.96 L387.98,222.02 L388.30,222.07 L388.62,222.13 L388.94,222.18 L389.26,222.24 L389.58,222.29 L389.91,222.35 L390.23,222.40 L390.55,222.44 L390.87,222.47 L391.19,222.50 L391.51,222.54 L391.83,222.57 L392.15,222.60 L392.47,222.64 L392.79,222.67 L393.11,222.70 L393.43,222.73 L393.75,222.77 L394.08,222.80 L394.40,222.83 L394.72,222.87 L395.04,222.90 L395.36,222.93 L395.68,222.97 L396.00,223.00" stroke="#a81c1c"/><path d="M345.00,203.50 L345.32,203.40 L345.64,203.31 L345.96,203.21 L346.28,203.12 L346.60,203.02 L346.92,202.92 L347.25,202.83 L347.57,202.73 L347.89,202.63 L348.21,202.54 L348.53,202.44 L348.85,202.35 L349.17,202.25 L349.49,202.15 L349.81,202.06 L350.13,202.00 L350.45,202.02 L350.77,202.03 L351.09,202.04 L351.42,202.05 L351.74,202.06 L352.06,202.08 L352.38,202.09 L352.70,202.10 L353.02,202.11 L353.34,202.12 L353.66,202.14 L353.98,202.15 L354.30,202.16 L354.62,202.17 L354.94,202.18 L355.26,202.19 L355.58,202.25 L355.91,202.32 L356.23,202.40 L356.55,202.48 L356.87,202.56 L357.19,202.64 L357.51,202.72 L357.83,202.80 L358.15,202.87 L358.47,202.95 L358.79,203.03 L359.11,203.11 L359.43,203.19 L359.75,203.27 L360.08,203.35 L360.40,203.43 L360.72,203.51 L361.04,203.75 L361.36,203.98 L361.68,204.22 L362.00,204.46 L362.32,204.69 L362.64,204.93 L362.96,205.16 L363.28,205.40 L363.60,205.64 L363.92,205.87 L364.25,206.14 L364.57,206.46 L364.89,206.77 L365.21,207.09 L365.53,207.40 L365.85,207.72 L366.17,208.03 L366.49,208.34 L366.81,208.66 L367.13,208.97 L367.45,209.28 L367.77,209.59 L368.09,209.90 L368.42,210.20 L368.74,210.50 L369.06,210.78 L369.38,211.04 L369.70,211.28 L370.02,211.47 L370.34,211.60 L370.66,211.66 L370.98,211.60 L371.30,211.40 L371.62,211.03 L371.94,210.44 L372.26,209.59 L372.58,208.46 L372.91,207.02 L373.23,205.26 L373.55,203.19 L373.87,200.86 L374.19,198.32 L374.51,195.68 L374.83,192.96 L375.15,190.36 L375.47,188.04 L375.79,186.14 L376.11,184.78 L376.43,184.07 L376.75,184.05 L377.08,184.74 L377.40,186.12 L377.72,188.10 L378.04,190.59 L378.36,193.46 L378.68,196.55 L379.00,199.74 L379.32,202.89 L379.64,205.90 L379.96,208.62 L380.28,211.01 L380.60,213.08 L380.92,214.83 L381.25,216.28 L381.57,217.46 L381.89,218.39 L382.21,219.12 L382.53,219.68 L382.85,220.12 L383.17,220.46 L383.49,220.72 L383.81,220.93 L384.13,221.10 L384.45,221.25 L384.77,221.39 L385.09,221.49 L385.42,221.56 L385.74,221.62 L386.06,221.68 L386.38,221.74 L386.70,221.79 L387.02,221.85 L387.34,221.90 L387.66,221.96 L387.98,222.02 L388.30,222.07 L388.62,222.13 L388.94,222.18 L389.26,222.24 L389.58,222.29 L389.91,222.35 L390.23,222.40 L390.55,222.44 L390.87,222.47 L391.19,222.50 L391.51,222.54 L391.83,222.57 L392.15,222.60 L392.47,222.64 L392.79,222.67 L393.11,222.70 L393.43,222.73 L393.75,222.77 L394.08,222.80 L394.40,222.83 L394.72,222.87 L395.04,222.90 L395.36,222.93 L395.68,222.97 L396.00,223.00" stroke="#a81c1c"/><path d="M345.00,203.50 L345.32,203.40 L345.64,203.31 L345.96,203.21 L346.28,203.12 L346.60,203.02 L346.92,202.92 L347.25,202.83 L347.57,202.73 L347.89,202.63 L348.21,202.54 L348.53,202.44 L348.85,202.35 L349.17,202.25 L349.49,202.15 L349.81,202.06 L350.13,202.00 L350.45,202.02 L350.77,202.03 L351.09,202.04 L351.42,202.05 L351.74,202.06 L352.06,202.08 L352.38,202.09 L352.70,202.10 L353.02,202.11 L353.34,202.12 L353.66,202.14 L353.98,202.15 L354.30,202.16 L354.62,202.17 L354.94,202.18 L355.26,202.19 L355.58,202.25 L355.91,202.32 L356.23,202.40 L356.55,202.48 L356.87,202.56 L357.19,202.64 L357.51,202.72 L357.83,202.80 L358.15,202.87 L358.47,202.95 L358.79,203.03 L359.11,203.11 L359.43,203.19 L359.75,203.27 L360.08,203.35 L360.40,203.43 L360.72,203.51 L361.04,203.75 L361.36,203.98 L361.68,204.22 L362.00,204.46 L362.32,204.69 L362.64,204.93 L362.96,205.16 L363.28,205.40 L363.60,205.64 L363.92,205.87 L364.25,206.14 L364.57,206.46 L364.89,206.77 L365.21,207.09 L365.53,207.40 L365.85,207.72 L366.17,208.03 L366.49,208.34 L366.81,208.66 L367.13,208.97 L367.45,209.29 L367.77,209.60 L368.09,209.92 L368.42,210.23 L368.74,210.55 L369.06,210.86 L369.38,211.18 L369.70,211.49 L370.02,211.81 L370.34,212.12 L370.66,212.43 L370.98,212.75 L371.30,213.06 L371.62,213.38 L371.94,213.69 L372.26,214.01 L372.58,214.32 L372.91,214.64 L373.23,214.95 L373.55,215.27 L373.87,215.58 L374.19,215.90 L374.51,216.21 L374.83,216.45 L375.15,216.67 L375.47,216.89 L375.79,217.10 L376.11,217.32 L376.43,217.53 L376.75,217.75 L377.08,217.97 L377.40,218.18 L377.72,218.40 L378.04,218.61 L378.36,218.83 L378.68,219.05 L379.00,219.26 L379.32,219.48 L379.64,219.69 L379.96,219.85 L380.28,219.96 L380.60,220.06 L380.92,220.17 L381.25,220.27 L381.57,220.38 L381.89,220.48 L382.21,220.59 L382.53,220.69 L382.85,220.80 L383.17,220.90 L383.49,221.01 L383.81,221.11 L384.13,221.22 L384.45,221.32 L384.77,221.43 L385.09,221.52 L385.42,221.57 L385.74,221.63 L386.06,221.68 L386.38,221.74 L386.70,221.79 L387.02,221.85 L387.34,221.90 L387.66,221.96 L387.98,222.02 L388.30,222.07 L388.62,222.13 L388.94,222.18 L389.26,222.24 L389.58,222.29 L389.91,222.35 L390.23,222.40 L390.55,222.44 L390.87,222.47 L391.19,222.50 L391.51,222.54 L391.83,222.57 L392.15,222.60 L392.47,222.64 L392.79,222.67 L393.11,222.70 L393.43,222.73 L393.75,222.77 L394.08,222.80 L394.40,222.83 L394.72,222.87 L395.04,222.90 L395.36,222.93 L395.68,222.97 L396.00,223.00" stroke="#111"/><path d="M345.00,203.50 L345.32,203.40 L345.64,203.31 L345.96,203.21 L346.28,203.12 L346.60,203.02 L346.92,202.92 L347.25,202.83 L347.57,202.73 L347.89,202.63 L348.21,202.54 L348.53,202.44 L348.85,202.34 L349.17,202.25 L349.49,202.15 L349.81,202.05 L350.13,201.99 L350.45,202.00 L350.77,202.00 L351.09,201.99 L351.42,201.98 L351.74,201.95 L352.06,201.91 L352.38,201.84 L352.70,201.74 L353.02,201.61 L353.34,201.43 L353.66,201.20 L353.98,200.91 L354.30,200.57 L354.62,200.16 L354.94,199.69 L355.26,199.18 L355.58,198.67 L355.91,198.17 L356.23,197.68 L356.55,197.22 L356.87,196.83 L357.19,196.53 L357.51,196.34 L357.83,196.28 L358.15,196.35 L358.47,196.56 L358.79,196.91 L359.11,197.36 L359.43,197.90 L359.75,198.51 L360.08,199.16 L360.40,199.81 L360.72,200.46 L361.04,201.23 L361.36,201.95 L361.68,202.61 L362.00,203.20 L362.32,203.74 L362.64,204.22 L362.96,204.65 L363.28,205.03 L363.60,205.38 L363.92,205.70 L364.25,206.03 L364.57,206.38 L364.89,206.72 L365.21,207.06 L365.53,207.38 L365.85,207.70 L366.17,208.02 L366.49,208.34 L366.81,208.66 L367.13,208.97 L367.45,209.29 L367.77,209.60 L368.09,209.92 L368.42,210.23 L368.74,210.55 L369.06,210.86 L369.38,211.18 L369.70,211.49 L370.02,211.81 L370.34,212.12 L370.66,212.43 L370.98,212.75 L371.30,213.06 L371.62,213.38 L371.94,213.69 L372.26,214.01 L372.58,214.32 L372.91,214.64 L373.23,214.95 L373.55,215.27 L373.87,215.58 L374.19,215.90 L374.51,216.21 L374.83,216.45 L375.15,216.67 L375.47,216.89 L375.79,217.10 L376.11,217.32 L376.43,217.53 L376.75,217.75 L377.08,217.97 L377.40,218.18 L377.72,218.40 L378.04,218.61 L378.36,218.83 L378.68,219.05 L379.00,219.26 L379.32,219.48 L379.64,219.69 L379.96,219.85 L380.28,219.96 L380.60,220.06 L380.92,220.17 L381.25,220.27 L381.57,220.38 L381.89,220.48 L382.21,220.59 L382.53,220.69 L382.85,220.80 L383.17,220.90 L383.49,221.01 L383.81,221.11 L384.13,221.22 L384.45,221.32 L384.77,221.43 L385.09,221.52 L385.42,221.57 L385.74,221.63 L386.06,221.68 L386.38,221.74 L386.70,221.79 L387.02,221.85 L387.34,221.90 L387.66,221.96 L387.98,222.02 L388.30,222.07 L388.62,222.13 L388.94,222.18 L389.26,222.24 L389.58,222.29 L389.91,222.35 L390.23,222.40 L390.55,222.44 L390.87,222.47 L391.19,222.50 L391.51,222.54 L391.83,222.57 L392.15,222.60 L392.47,222.64 L392.79,222.67 L393.11,222.70 L393.43,222.73 L393.75,222.77 L394.08,222.80 L394.40,222.83 L394.72,222.87 L395.04,222.90 L395.36,222.93 L395.68,222.97 L396.00,223.00" stroke="#1a1ae8" stroke-width="1.4"/></g></g>
<g fill="#fff" stroke="#3c3c3c" stroke-width="0.6"><g clip-path="url(#c6)"><circle cx="299.67" cy="203.33" r="1.6"/><circle cx="301.33" cy="202.93" r="1.6"/><circle cx="301.92" cy="204.25" r="1.6"/><circle cx="303.61" cy="203.69" r="1.6"/><circle cx="304.53" cy="202.11" r="1.6"/><circle cx="305.60" cy="201.50" r="1.6"/><circle cx="307.26" cy="200.76" r="1.6"/><circle cx="308.35" cy="199.74" r="1.6"/><circle cx="309.27" cy="198.42" r="1.6"/><circle cx="310.52" cy="197.18" r="1.6"/><circle cx="311.46" cy="195.63" r="1.6"/><circle cx="313.41" cy="194.98" r="1.6"/><circle cx="314.15" cy="192.94" r="1.6"/><circle cx="315.80" cy="191.48" r="1.6"/><circle cx="316.76" cy="188.99" r="1.6"/><circle cx="318.21" cy="187.31" r="1.6"/><circle cx="319.63" cy="185.57" r="1.6"/><circle cx="320.45" cy="183.52" r="1.6"/><circle cx="321.40" cy="181.40" r="1.6"/><circle cx="322.84" cy="179.69" r="1.6"/><circle cx="324.82" cy="178.52" r="1.6"/><circle cx="324.83" cy="176.69" r="1.6"/><circle cx="325.48" cy="175.18" r="1.6"/><circle cx="327.66" cy="174.28" r="1.6"/><circle cx="328.67" cy="173.00" r="1.6"/><circle cx="329.40" cy="171.70" r="1.6"/><circle cx="330.41" cy="172.15" r="1.6"/><circle cx="331.39" cy="173.16" r="1.6"/><circle cx="332.00" cy="174.83" r="1.6"/><circle cx="332.75" cy="175.84" r="1.6"/><circle cx="333.26" cy="178.34" r="1.6"/><circle cx="333.59" cy="179.47" r="1.6"/><circle cx="333.55" cy="181.66" r="1.6"/><circle cx="334.36" cy="184.23" r="1.6"/><circle cx="334.21" cy="186.41" r="1.6"/><circle cx="335.38" cy="187.13" r="1.6"/><circle cx="335.46" cy="188.85" r="1.6"/><circle cx="336.07" cy="190.12" r="1.6"/><circle cx="337.46" cy="192.37" r="1.6"/><circle cx="337.74" cy="193.99" r="1.6"/><circle cx="337.85" cy="195.48" r="1.6"/><circle cx="338.93" cy="197.45" r="1.6"/><circle cx="341.14" cy="198.72" r="1.6"/><circle cx="342.00" cy="201.10" r="1.6"/><circle cx="342.98" cy="202.58" r="1.6"/><circle cx="344.33" cy="202.81" r="1.6"/><circle cx="345.91" cy="204.15" r="1.6"/><circle cx="346.68" cy="202.53" r="1.6"/><circle cx="348.03" cy="202.37" r="1.6"/><circle cx="349.35" cy="201.01" r="1.6"/><circle cx="350.89" cy="200.78" r="1.6"/><circle cx="352.14" cy="200.52" r="1.6"/><circle cx="353.78" cy="198.49" r="1.6"/><circle cx="354.14" cy="196.81" r="1.6"/><circle cx="354.58" cy="195.21" r="1.6"/><circle cx="354.88" cy="193.16" r="1.6"/><circle cx="355.89" cy="191.17" r="1.6"/><circle cx="356.31" cy="189.22" r="1.6"/><circle cx="356.60" cy="188.46" r="1.6"/><circle cx="358.30" cy="186.89" r="1.6"/><circle cx="359.08" cy="185.60" r="1.6"/><circle cx="359.43" cy="184.24" r="1.6"/><circle cx="360.44" cy="182.99" r="1.6"/><circle cx="360.38" cy="181.43" r="1.6"/><circle cx="361.21" cy="180.38" r="1.6"/><circle cx="361.91" cy="178.26" r="1.6"/><circle cx="362.90" cy="176.28" r="1.6"/><circle cx="363.61" cy="175.25" r="1.6"/><circle cx="364.10" cy="173.33" r="1.6"/><circle cx="364.87" cy="171.27" r="1.6"/><circle cx="365.50" cy="168.87" r="1.6"/><circle cx="365.39" cy="166.52" r="1.6"/><circle cx="366.04" cy="164.97" r="1.6"/><circle cx="366.96" cy="163.07" r="1.6"/><circle cx="367.93" cy="161.55" r="1.6"/><circle cx="367.71" cy="159.98" r="1.6"/><circle cx="369.13" cy="157.90" r="1.6"/><circle cx="370.74" cy="157.60" r="1.6"/><circle cx="371.58" cy="158.51" r="1.6"/><circle cx="373.26" cy="160.11" r="1.6"/><circle cx="373.65" cy="161.82" r="1.6"/><circle cx="375.09" cy="163.73" r="1.6"/><circle cx="375.51" cy="166.08" r="1.6"/><circle cx="375.08" cy="168.35" r="1.6"/><circle cx="376.04" cy="169.89" r="1.6"/><circle cx="376.91" cy="170.98" r="1.6"/><circle cx="376.59" cy="173.74" r="1.6"/><circle cx="377.09" cy="175.13" r="1.6"/><circle cx="378.16" cy="177.08" r="1.6"/><circle cx="378.78" cy="179.38" r="1.6"/><circle cx="378.66" cy="181.79" r="1.6"/><circle cx="378.65" cy="183.59" r="1.6"/><circle cx="378.94" cy="186.39" r="1.6"/><circle cx="379.19" cy="188.89" r="1.6"/><circle cx="379.46" cy="190.99" r="1.6"/><circle cx="380.25" cy="193.98" r="1.6"/><circle cx="380.53" cy="196.62" r="1.6"/><circle cx="380.13" cy="198.69" r="1.6"/><circle cx="380.29" cy="201.39" r="1.6"/><circle cx="381.30" cy="203.36" r="1.6"/><circle cx="382.37" cy="204.93" r="1.6"/><circle cx="382.62" cy="206.92" r="1.6"/><circle cx="383.39" cy="208.84" r="1.6"/><circle cx="383.55" cy="210.34" r="1.6"/><circle cx="384.26" cy="212.61" r="1.6"/><circle cx="385.12" cy="213.87" r="1.6"/><circle cx="385.22" cy="215.34" r="1.6"/><circle cx="387.40" cy="216.70" r="1.6"/><circle cx="388.29" cy="219.02" r="1.6"/><circle cx="389.67" cy="220.73" r="1.6"/><circle cx="391.31" cy="221.58" r="1.6"/><circle cx="391.75" cy="223.77" r="1.6"/><circle cx="393.33" cy="224.79" r="1.6"/><circle cx="394.46" cy="224.82" r="1.6"/><circle cx="395.44" cy="225.73" r="1.6"/><circle cx="397.16" cy="225.62" r="1.6"/><circle cx="398.76" cy="225.66" r="1.6"/><circle cx="399.30" cy="227.45" r="1.6"/><circle cx="400.61" cy="227.36" r="1.6"/><circle cx="401.77" cy="227.43" r="1.6"/></g></g>
<line x1="307.80" y1="235.00" x2="307.80" y2="237.60" stroke="#4d4d4d" stroke-width="0.8"/>
<text x="307.80" y="243.00" font-size="5.2" text-anchor="middle" fill="#222" stroke="#222" stroke-width="0.22" >590</text>
<line x1="329.53" y1="235.00" x2="329.53" y2="237.60" stroke="#4d4d4d" stroke-width="0.8"/>
<text x="329.53" y="243.00" font-size="5.2" text-anchor="middle" fill="#222" stroke="#222" stroke-width="0.22" >585</text>
<line x1="351.25" y1="235.00" x2="351.25" y2="237.60" stroke="#4d4d4d" stroke-width="0.8"/>
<text x="351.25" y="243.00" font-size="5.2" text-anchor="middle" fill="#222" stroke="#222" stroke-width="0.22" >580</text>
<line x1="372.98" y1="235.00" x2="372.98" y2="237.60" stroke="#4d4d4d" stroke-width="0.8"/>
<text x="372.98" y="243.00" font-size="5.2" text-anchor="middle" fill="#222" stroke="#222" stroke-width="0.22" >575</text>
<line x1="394.70" y1="235.00" x2="394.70" y2="237.60" stroke="#4d4d4d" stroke-width="0.8"/>
<text x="394.70" y="243.00" font-size="5.2" text-anchor="middle" fill="#222" stroke="#222" stroke-width="0.22" >570</text>
<line x1="296.70" y1="232.10" x2="299.30" y2="232.10" stroke="#4d4d4d" stroke-width="0.8"/>
<text x="294.10" y="234.00" font-size="5.2" text-anchor="end" fill="#222" stroke="#222" stroke-width="0.22" >24</text>
<line x1="296.70" y1="215.44" x2="299.30" y2="215.44" stroke="#4d4d4d" stroke-width="0.8"/>
<text x="294.10" y="217.34" font-size="5.2" text-anchor="end" fill="#222" stroke="#222" stroke-width="0.22" >26</text>
<line x1="296.70" y1="198.78" x2="299.30" y2="198.78" stroke="#4d4d4d" stroke-width="0.8"/>
<text x="294.10" y="200.68" font-size="5.2" text-anchor="end" fill="#222" stroke="#222" stroke-width="0.22" >28</text>
<line x1="296.70" y1="182.12" x2="299.30" y2="182.12" stroke="#4d4d4d" stroke-width="0.8"/>
<text x="294.10" y="184.02" font-size="5.2" text-anchor="end" fill="#222" stroke="#222" stroke-width="0.22" >30</text>
<line x1="296.70" y1="165.46" x2="299.30" y2="165.46" stroke="#4d4d4d" stroke-width="0.8"/>
<text x="294.10" y="167.36" font-size="5.2" text-anchor="end" fill="#222" stroke="#222" stroke-width="0.22" >32</text>
<line x1="296.70" y1="148.80" x2="299.30" y2="148.80" stroke="#4d4d4d" stroke-width="0.8"/>
<text x="294.10" y="150.70" font-size="5.2" text-anchor="end" fill="#222" stroke="#222" stroke-width="0.22" >34</text>
<rect x="299.30" y="145.50" width="104.30" height="89.50" fill="none" stroke="#4d4d4d" stroke-width="1"/>
<text x="351.20" y="253.60" font-size="6.75" text-anchor="middle" fill="#111" stroke="#111" stroke-width="0.22" >Binding energy (eV)</text>
<text x="0" y="0" font-size="6.55" text-anchor="middle" fill="#111" stroke="#111" stroke-width="0.22" transform="translate(285.20,189.85) rotate(-90)">Intensity (10<tspan font-size="4.2" dy="-2.1">3</tspan><tspan dy="2.1"> CPS)</tspan></text>
<text x="313.10" y="230.80" font-size="12.8" text-anchor="start" fill="#111" stroke="#111" stroke-width="0.22" >CrS</text>
<clipPath id="c7"><rect x="440.5" y="145.5" width="104.79999999999995" height="89.19999999999999"/></clipPath>
<g clip-path="url(#c7)"><g fill="none" stroke-width="1.2" stroke-linejoin="round"><path d="M491.00,183.48 L491.29,183.35 L491.57,183.23 L491.86,183.11 L492.14,182.96 L492.43,182.71 L492.71,182.47 L493.00,182.22 L493.29,181.97 L493.57,181.72 L493.86,181.47 L494.14,181.22 L494.43,180.97 L494.71,180.70 L495.00,180.42 L495.29,180.15 L495.57,179.87 L495.86,179.60 L496.14,179.32 L496.43,179.05 L496.71,178.77 L497.00,178.50 L497.29,178.07 L497.57,177.63 L497.86,177.20 L498.14,176.76 L498.43,176.33 L498.71,175.89 L499.00,175.46 L499.29,175.02 L499.57,174.51 L499.86,173.99 L500.14,173.47 L500.43,172.95 L500.71,172.41 L501.00,171.87 L501.29,171.34 L501.57,170.80 L501.86,170.27 L502.14,169.59 L502.43,168.76 L502.71,167.93 L503.00,167.11 L503.29,166.28 L503.57,165.45 L503.86,164.62 L504.14,163.53 L504.43,162.39 L504.71,161.24 L505.00,160.10 L505.29,159.51 L505.57,159.23 L505.86,158.94 L506.14,158.66 L506.43,158.37 L506.71,158.09 L507.00,157.80 L507.29,157.51 L507.57,157.33 L507.86,157.21 L508.14,157.09 L508.43,156.98 L508.71,156.86 L509.00,156.74 L509.29,156.62 L509.57,156.51 L509.86,156.39 L510.14,156.27 L510.43,156.15 L510.71,156.04 L511.00,155.96 L511.29,155.90 L511.57,155.84 L511.86,155.78 L512.14,155.72 L512.43,155.66 L512.71,155.60 L513.00,155.54 L513.29,155.83 L513.57,156.92 L513.86,158.01 L514.14,159.10 L514.43,160.32 L514.71,161.70 L515.00,163.08 L515.29,164.46 L515.57,165.95 L515.86,167.74 L516.14,169.53 L516.43,171.32 L516.71,174.23 L517.00,178.80 L517.29,182.29 L517.57,183.27 L517.86,184.24 L518.14,185.22 L518.43,186.19 L518.71,187.17 L519.00,188.09 L519.29,188.91 L519.57,189.74 L519.86,190.57 L520.14,191.39 L520.43,192.22 L520.71,193.05 L521.00,194.06 L521.29,195.07 L521.57,196.08 L521.86,197.08 L522.14,198.09 L522.43,199.06 L522.71,199.67 L523.00,200.27 L523.29,200.88 L523.57,201.48 L523.86,202.09 L524.14,202.66 L524.43,203.03 L524.71,203.40 L525.00,203.78" stroke="#000" stroke-width="1.2"/><path d="M484.00,190.00 L484.26,190.03 L484.53,190.07 L484.79,190.10 L485.06,190.13 L485.32,190.17 L485.58,190.20 L485.85,190.23 L486.11,190.26 L486.38,190.30 L486.64,190.33 L486.91,190.36 L487.17,190.40 L487.43,190.43 L487.70,190.46 L487.96,190.50 L488.23,190.46 L488.49,190.41 L488.75,190.37 L489.02,190.32 L489.28,190.28 L489.55,190.23 L489.81,190.18 L490.08,190.14 L490.34,190.09 L490.60,190.04 L490.87,190.00 L491.13,189.95 L491.40,189.91 L491.66,189.86 L491.92,189.81 L492.19,189.75 L492.45,189.67 L492.72,189.60 L492.98,189.52 L493.25,189.45 L493.51,189.38 L493.77,189.30 L494.04,189.23 L494.30,189.15 L494.57,189.08 L494.83,189.01 L495.09,188.93 L495.36,188.86 L495.62,188.78 L495.89,188.71 L496.15,188.63 L496.42,188.56 L496.68,188.49 L496.94,188.41 L497.21,188.34 L497.47,188.26 L497.74,188.25 L498.00,188.60 L498.26,188.96 L498.53,189.31 L498.79,189.66 L499.06,190.02 L499.32,190.37 L499.58,190.73 L499.85,191.08 L500.11,191.43 L500.38,191.79 L500.64,192.14 L500.91,192.50 L501.17,192.85 L501.43,193.21 L501.70,193.56 L501.96,193.91 L502.23,194.27 L502.49,194.59 L502.75,194.86 L503.02,195.13 L503.28,195.40 L503.55,195.67 L503.81,195.94 L504.08,196.21 L504.34,196.48 L504.60,196.75 L504.87,197.02 L505.13,197.28 L505.40,197.55 L505.66,197.82 L505.92,198.09 L506.19,198.36 L506.45,198.63 L506.72,198.90 L506.98,199.17 L507.25,199.44 L507.51,199.71 L507.77,199.94 L508.04,200.15 L508.30,200.37 L508.57,200.58 L508.83,200.79 L509.09,201.01 L509.36,201.22 L509.62,201.43 L509.89,201.65 L510.15,201.86 L510.42,202.07 L510.68,202.29 L510.94,202.50 L511.21,202.71 L511.47,202.93 L511.74,203.14 L512.00,203.35 L512.26,203.57 L512.53,203.78 L512.79,203.99 L513.06,204.17 L513.32,204.35 L513.58,204.53 L513.85,204.71 L514.11,204.88 L514.38,205.06 L514.64,205.24 L514.91,205.42 L515.17,205.60 L515.43,205.77 L515.70,205.95 L515.96,206.13 L516.23,206.31 L516.49,206.48 L516.75,206.66 L517.02,206.84 L517.28,207.02 L517.55,207.20 L517.81,207.37 L518.08,207.54 L518.34,207.66 L518.60,207.78 L518.87,207.91 L519.13,208.03 L519.40,208.16 L519.66,208.28 L519.92,208.41 L520.19,208.53 L520.45,208.66 L520.72,208.78 L520.98,208.91 L521.25,209.03 L521.51,209.16 L521.77,209.28 L522.04,209.40 L522.30,209.53 L522.57,209.65 L522.83,209.78 L523.09,209.90 L523.36,210.01 L523.62,210.06 L523.89,210.11 L524.15,210.16 L524.42,210.21 L524.68,210.26 L524.94,210.30 L525.21,210.35 L525.47,210.40 L525.74,210.45 L526.00,210.50" stroke="#a81c1c"/><path d="M484.00,190.00 L484.26,190.03 L484.53,190.07 L484.79,190.10 L485.06,190.13 L485.32,190.17 L485.58,190.20 L485.85,190.23 L486.11,190.26 L486.38,190.30 L486.64,190.33 L486.91,190.36 L487.17,190.40 L487.43,190.43 L487.70,190.46 L487.96,190.50 L488.23,190.46 L488.49,190.41 L488.75,190.37 L489.02,190.32 L489.28,190.28 L489.55,190.23 L489.81,190.18 L490.08,190.14 L490.34,190.09 L490.60,190.04 L490.87,190.00 L491.13,189.95 L491.40,189.91 L491.66,189.86 L491.92,189.81 L492.19,189.75 L492.45,189.67 L492.72,189.60 L492.98,189.52 L493.25,189.45 L493.51,189.38 L493.77,189.30 L494.04,189.23 L494.30,189.15 L494.57,189.07 L494.83,189.00 L495.09,188.92 L495.36,188.83 L495.62,188.74 L495.89,188.65 L496.15,188.54 L496.42,188.41 L496.68,188.27 L496.94,188.09 L497.21,187.87 L497.47,187.59 L497.74,187.31 L498.00,187.31 L498.26,187.20 L498.53,186.98 L498.79,186.62 L499.06,186.12 L499.32,185.45 L499.58,184.63 L499.85,183.66 L500.11,182.55 L500.38,181.34 L500.64,180.07 L500.91,178.79 L501.17,177.55 L501.43,176.42 L501.70,175.47 L501.96,174.76 L502.23,174.33 L502.49,174.20 L502.75,174.36 L503.02,174.88 L503.28,175.75 L503.55,176.92 L503.81,178.37 L504.08,180.02 L504.34,181.82 L504.60,183.71 L504.87,185.62 L505.13,187.49 L505.40,189.29 L505.66,190.97 L505.92,192.50 L506.19,193.88 L506.45,195.10 L506.72,196.17 L506.98,197.09 L507.25,197.89 L507.51,198.57 L507.77,199.12 L508.04,199.57 L508.30,199.96 L508.57,200.30 L508.83,200.61 L509.09,200.88 L509.36,201.14 L509.62,201.38 L509.89,201.61 L510.15,201.84 L510.42,202.06 L510.68,202.28 L510.94,202.50 L511.21,202.71 L511.47,202.93 L511.74,203.14 L512.00,203.35 L512.26,203.57 L512.53,203.78 L512.79,203.99 L513.06,204.17 L513.32,204.35 L513.58,204.53 L513.85,204.71 L514.11,204.88 L514.38,205.06 L514.64,205.24 L514.91,205.42 L515.17,205.60 L515.43,205.77 L515.70,205.95 L515.96,206.13 L516.23,206.31 L516.49,206.48 L516.75,206.66 L517.02,206.84 L517.28,207.02 L517.55,207.20 L517.81,207.37 L518.08,207.54 L518.34,207.66 L518.60,207.78 L518.87,207.91 L519.13,208.03 L519.40,208.16 L519.66,208.28 L519.92,208.41 L520.19,208.53 L520.45,208.66 L520.72,208.78 L520.98,208.91 L521.25,209.03 L521.51,209.16 L521.77,209.28 L522.04,209.40 L522.30,209.53 L522.57,209.65 L522.83,209.78 L523.09,209.90 L523.36,210.01 L523.62,210.06 L523.89,210.11 L524.15,210.16 L524.42,210.21 L524.68,210.26 L524.94,210.30 L525.21,210.35 L525.47,210.40 L525.74,210.45 L526.00,210.50" stroke="#a81c1c"/><path d="M484.00,190.00 L484.26,190.03 L484.53,190.07 L484.79,190.10 L485.06,190.13 L485.32,190.17 L485.58,190.20 L485.85,190.23 L486.11,190.26 L486.38,190.30 L486.64,190.33 L486.91,190.36 L487.17,190.40 L487.43,190.43 L487.70,190.46 L487.96,190.50 L488.23,190.46 L488.49,190.41 L488.75,190.37 L489.02,190.32 L489.28,190.28 L489.55,190.23 L489.81,190.18 L490.08,190.14 L490.34,190.09 L490.60,190.04 L490.87,190.00 L491.13,189.95 L491.40,189.91 L491.66,189.86 L491.92,189.81 L492.19,189.75 L492.45,189.67 L492.72,189.60 L492.98,189.52 L493.25,189.45 L493.51,189.38 L493.77,189.30 L494.04,189.23 L494.30,189.15 L494.57,189.08 L494.83,189.01 L495.09,188.93 L495.36,188.86 L495.62,188.78 L495.89,188.71 L496.15,188.63 L496.42,188.56 L496.68,188.49 L496.94,188.41 L497.21,188.34 L497.47,188.26 L497.74,188.25 L498.00,188.60 L498.26,188.95 L498.53,189.30 L498.79,189.65 L499.06,189.99 L499.32,190.33 L499.58,190.66 L499.85,190.97 L500.11,191.27 L500.38,191.54 L500.64,191.77 L500.91,191.95 L501.17,192.06 L501.43,192.09 L501.70,192.00 L501.96,191.77 L502.23,191.39 L502.49,190.78 L502.75,189.90 L503.02,188.79 L503.28,187.44 L503.55,185.85 L503.81,184.03 L504.08,182.02 L504.34,179.86 L504.60,177.62 L504.87,175.38 L505.13,173.24 L505.40,171.29 L505.66,169.63 L505.92,168.36 L506.19,167.54 L506.45,167.24 L506.72,167.47 L506.98,168.25 L507.25,169.55 L507.51,171.32 L507.77,173.44 L508.04,175.84 L508.30,178.45 L508.57,181.16 L508.83,183.89 L509.09,186.54 L509.36,189.06 L509.62,191.39 L509.89,193.49 L510.15,195.35 L510.42,196.97 L510.68,198.35 L510.94,199.52 L511.21,200.50 L511.47,201.31 L511.74,201.98 L512.00,202.53 L512.26,203.00 L512.53,203.39 L512.79,203.73 L513.06,204.00 L513.32,204.24 L513.58,204.46 L513.85,204.66 L514.11,204.86 L514.38,205.05 L514.64,205.23 L514.91,205.41 L515.17,205.59 L515.43,205.77 L515.70,205.95 L515.96,206.13 L516.23,206.31 L516.49,206.48 L516.75,206.66 L517.02,206.84 L517.28,207.02 L517.55,207.20 L517.81,207.37 L518.08,207.54 L518.34,207.66 L518.60,207.78 L518.87,207.91 L519.13,208.03 L519.40,208.16 L519.66,208.28 L519.92,208.41 L520.19,208.53 L520.45,208.66 L520.72,208.78 L520.98,208.91 L521.25,209.03 L521.51,209.16 L521.77,209.28 L522.04,209.40 L522.30,209.53 L522.57,209.65 L522.83,209.78 L523.09,209.90 L523.36,210.01 L523.62,210.06 L523.89,210.11 L524.15,210.16 L524.42,210.21 L524.68,210.26 L524.94,210.30 L525.21,210.35 L525.47,210.40 L525.74,210.45 L526.00,210.50" stroke="#a81c1c"/><path d="M484.00,190.00 L484.26,190.03 L484.53,190.07 L484.79,190.10 L485.06,190.13 L485.32,190.17 L485.58,190.20 L485.85,190.23 L486.11,190.26 L486.38,190.30 L486.64,190.33 L486.91,190.36 L487.17,190.40 L487.43,190.43 L487.70,190.46 L487.96,190.50 L488.23,190.46 L488.49,190.41 L488.75,190.37 L489.02,190.32 L489.28,190.28 L489.55,190.23 L489.81,190.18 L490.08,190.14 L490.34,190.09 L490.60,190.04 L490.87,190.00 L491.13,189.95 L491.40,189.91 L491.66,189.86 L491.92,189.81 L492.19,189.75 L492.45,189.67 L492.72,189.60 L492.98,189.52 L493.25,189.45 L493.51,189.38 L493.77,189.30 L494.04,189.23 L494.30,189.15 L494.57,189.08 L494.83,189.01 L495.09,188.93 L495.36,188.86 L495.62,188.78 L495.89,188.71 L496.15,188.63 L496.42,188.56 L496.68,188.49 L496.94,188.41 L497.21,188.34 L497.47,188.26 L497.74,188.25 L498.00,188.60 L498.26,188.96 L498.53,189.31 L498.79,189.66 L499.06,190.02 L499.32,190.37 L499.58,190.73 L499.85,191.08 L500.11,191.43 L500.38,191.79 L500.64,192.14 L500.91,192.50 L501.17,192.85 L501.43,193.20 L501.70,193.56 L501.96,193.91 L502.23,194.27 L502.49,194.59 L502.75,194.86 L503.02,195.12 L503.28,195.39 L503.55,195.65 L503.81,195.90 L504.08,196.14 L504.34,196.38 L504.60,196.59 L504.87,196.77 L505.13,196.92 L505.40,197.02 L505.66,197.04 L505.92,196.98 L506.19,196.79 L506.45,196.47 L506.72,195.96 L506.98,195.26 L507.25,194.31 L507.51,193.11 L507.77,191.59 L508.04,189.78 L508.30,187.69 L508.57,185.37 L508.83,182.85 L509.09,180.21 L509.36,177.52 L509.62,174.90 L509.89,172.46 L510.15,170.31 L510.42,168.55 L510.68,167.29 L510.94,166.59 L511.21,166.51 L511.47,167.05 L511.74,168.21 L512.00,169.93 L512.26,172.14 L512.53,174.74 L512.79,177.62 L513.06,180.64 L513.32,183.71 L513.58,186.74 L513.85,189.65 L514.11,192.35 L514.38,194.81 L514.64,197.00 L514.91,198.91 L515.17,200.55 L515.43,201.92 L515.70,203.06 L515.96,204.00 L516.23,204.77 L516.49,205.39 L516.75,205.90 L517.02,206.31 L517.28,206.66 L517.55,206.96 L517.81,207.22 L518.08,207.44 L518.34,207.60 L518.60,207.75 L518.87,207.89 L519.13,208.02 L519.40,208.15 L519.66,208.28 L519.92,208.41 L520.19,208.53 L520.45,208.66 L520.72,208.78 L520.98,208.91 L521.25,209.03 L521.51,209.16 L521.77,209.28 L522.04,209.40 L522.30,209.53 L522.57,209.65 L522.83,209.78 L523.09,209.90 L523.36,210.01 L523.62,210.06 L523.89,210.11 L524.15,210.16 L524.42,210.21 L524.68,210.26 L524.94,210.30 L525.21,210.35 L525.47,210.40 L525.74,210.45 L526.00,210.50" stroke="#a81c1c"/><path d="M484.00,190.00 L484.26,190.03 L484.53,190.07 L484.79,190.10 L485.06,190.13 L485.32,190.17 L485.58,190.20 L485.85,190.23 L486.11,190.26 L486.38,190.30 L486.64,190.33 L486.91,190.36 L487.17,190.40 L487.43,190.43 L487.70,190.46 L487.96,190.50 L488.23,190.46 L488.49,190.41 L488.75,190.37 L489.02,190.32 L489.28,190.28 L489.55,190.23 L489.81,190.18 L490.08,190.14 L490.34,190.09 L490.60,190.04 L490.87,190.00 L491.13,189.95 L491.40,189.91 L491.66,189.86 L491.92,189.81 L492.19,189.75 L492.45,189.67 L492.72,189.60 L492.98,189.52 L493.25,189.45 L493.51,189.38 L493.77,189.30 L494.04,189.23 L494.30,189.15 L494.57,189.08 L494.83,189.01 L495.09,188.93 L495.36,188.86 L495.62,188.78 L495.89,188.71 L496.15,188.63 L496.42,188.56 L496.68,188.49 L496.94,188.41 L497.21,188.34 L497.47,188.26 L497.74,188.25 L498.00,188.60 L498.26,188.96 L498.53,189.31 L498.79,189.66 L499.06,190.02 L499.32,190.37 L499.58,190.73 L499.85,191.08 L500.11,191.43 L500.38,191.79 L500.64,192.14 L500.91,192.50 L501.17,192.85 L501.43,193.21 L501.70,193.56 L501.96,193.91 L502.23,194.27 L502.49,194.59 L502.75,194.86 L503.02,195.13 L503.28,195.40 L503.55,195.67 L503.81,195.94 L504.08,196.21 L504.34,196.48 L504.60,196.75 L504.87,197.02 L505.13,197.28 L505.40,197.55 L505.66,197.82 L505.92,198.09 L506.19,198.36 L506.45,198.63 L506.72,198.90 L506.98,199.17 L507.25,199.43 L507.51,199.70 L507.77,199.93 L508.04,200.13 L508.30,200.34 L508.57,200.53 L508.83,200.71 L509.09,200.88 L509.36,201.03 L509.62,201.14 L509.89,201.21 L510.15,201.22 L510.42,201.15 L510.68,200.97 L510.94,200.67 L511.21,200.22 L511.47,199.58 L511.74,198.72 L512.00,197.63 L512.26,196.27 L512.53,194.65 L512.79,192.75 L513.06,190.58 L513.32,188.20 L513.58,185.67 L513.85,183.07 L514.11,180.49 L514.38,178.03 L514.64,175.80 L514.91,173.91 L515.17,172.46 L515.43,171.53 L515.70,171.18 L515.96,171.42 L516.23,172.27 L516.49,173.68 L516.75,175.59 L517.02,177.92 L517.28,180.57 L517.55,183.42 L517.81,186.37 L518.08,189.31 L518.34,192.11 L518.60,194.75 L518.87,197.17 L519.13,199.34 L519.40,201.24 L519.66,202.88 L519.92,204.26 L520.19,205.40 L520.45,206.33 L520.72,207.09 L520.98,207.69 L521.25,208.18 L521.51,208.56 L521.77,208.88 L522.04,209.14 L522.30,209.35 L522.57,209.54 L522.83,209.71 L523.09,209.86 L523.36,209.98 L523.62,210.04 L523.89,210.10 L524.15,210.15 L524.42,210.20 L524.68,210.25 L524.94,210.30 L525.21,210.35 L525.47,210.40 L525.74,210.45 L526.00,210.50" stroke="#a81c1c"/><path d="M484.00,190.00 L484.26,190.03 L484.53,190.07 L484.79,190.10 L485.06,190.13 L485.32,190.17 L485.58,190.20 L485.85,190.23 L486.11,190.26 L486.38,190.30 L486.64,190.33 L486.91,190.36 L487.17,190.40 L487.43,190.43 L487.70,190.46 L487.96,190.50 L488.23,190.46 L488.49,190.41 L488.75,190.37 L489.02,190.32 L489.28,190.28 L489.55,190.23 L489.81,190.18 L490.08,190.14 L490.34,190.09 L490.60,190.04 L490.87,190.00 L491.13,189.95 L491.40,189.91 L491.66,189.86 L491.92,189.81 L492.19,189.75 L492.45,189.67 L492.72,189.60 L492.98,189.52 L493.25,189.45 L493.51,189.38 L493.77,189.30 L494.04,189.23 L494.30,189.15 L494.57,189.08 L494.83,189.01 L495.09,188.93 L495.36,188.86 L495.62,188.78 L495.89,188.71 L496.15,188.63 L496.42,188.56 L496.68,188.49 L496.94,188.41 L497.21,188.34 L497.47,188.26 L497.74,188.25 L498.00,188.60 L498.26,188.96 L498.53,189.31 L498.79,189.66 L499.06,190.02 L499.32,190.37 L499.58,190.73 L499.85,191.08 L500.11,191.43 L500.38,191.79 L500.64,192.14 L500.91,192.50 L501.17,192.85 L501.43,193.21 L501.70,193.56 L501.96,193.91 L502.23,194.27 L502.49,194.59 L502.75,194.86 L503.02,195.13 L503.28,195.40 L503.55,195.67 L503.81,195.94 L504.08,196.21 L504.34,196.48 L504.60,196.75 L504.87,197.02 L505.13,197.28 L505.40,197.55 L505.66,197.82 L505.92,198.09 L506.19,198.36 L506.45,198.63 L506.72,198.90 L506.98,199.17 L507.25,199.44 L507.51,199.71 L507.77,199.94 L508.04,200.15 L508.30,200.37 L508.57,200.58 L508.83,200.79 L509.09,201.01 L509.36,201.22 L509.62,201.43 L509.89,201.65 L510.15,201.86 L510.42,202.07 L510.68,202.29 L510.94,202.50 L511.21,202.71 L511.47,202.92 L511.74,203.13 L512.00,203.33 L512.26,203.53 L512.53,203.72 L512.79,203.90 L513.06,204.02 L513.32,204.12 L513.58,204.18 L513.85,204.19 L514.11,204.14 L514.38,204.01 L514.64,203.78 L514.91,203.43 L515.17,202.94 L515.43,202.29 L515.70,201.47 L515.96,200.48 L516.23,199.32 L516.49,198.01 L516.75,196.58 L517.02,195.07 L517.28,193.54 L517.55,192.06 L517.81,190.70 L518.08,189.53 L518.34,188.58 L518.60,187.95 L518.87,187.69 L519.13,187.81 L519.40,188.32 L519.66,189.20 L519.92,190.40 L520.19,191.86 L520.45,193.52 L520.72,195.31 L520.98,197.14 L521.25,198.95 L521.51,200.68 L521.77,202.30 L522.04,203.76 L522.30,205.05 L522.57,206.17 L522.83,207.12 L523.09,207.91 L523.36,208.55 L523.62,209.01 L523.89,209.37 L524.15,209.64 L524.42,209.86 L524.68,210.02 L524.94,210.15 L525.21,210.26 L525.47,210.34 L525.74,210.41 L526.00,210.48" stroke="#a81c1c"/><path d="M497.21,188.16 L497.47,188.07 L497.74,188.05 L498.00,188.41 L498.26,188.79 L498.53,189.17 L498.79,189.55 L499.06,189.94 L499.32,190.32 L499.58,190.69 L499.85,191.06 L500.11,191.42 L500.38,191.78 L500.64,192.14 L500.91,192.50 L501.17,192.85 L501.43,193.20 L501.70,193.56 L501.96,193.91 L502.23,194.27 L502.49,194.59 L502.75,194.86 L503.02,195.13 L503.28,195.40 L503.55,195.67 L503.81,195.94 L504.08,196.21 L504.34,196.48 L504.60,196.75 L504.87,197.02 L505.13,197.28 L505.40,197.55 L505.66,197.82 L505.92,198.09 L506.19,198.36 L506.45,198.63 L506.72,198.90 L506.98,199.17 L507.25,199.44 L507.51,199.71 L507.77,199.94 L508.04,200.15 L508.30,200.37 L508.57,200.58 L508.83,200.79 L509.09,201.01 L509.36,201.22 L509.62,201.43 L509.89,201.65 L510.15,201.86 L510.42,202.07 L510.68,202.29 L510.94,202.50 L511.21,202.71 L511.47,202.93 L511.74,203.14 L512.00,203.35 L512.26,203.57 L512.53,203.78 L512.79,203.99 L513.06,204.17 L513.32,204.35 L513.58,204.53 L513.85,204.71 L514.11,204.88 L514.38,205.06 L514.64,205.24 L514.91,205.42 L515.17,205.60 L515.43,205.77 L515.70,205.95 L515.96,206.13 L516.23,206.31 L516.49,206.48 L516.75,206.66 L517.02,206.84 L517.28,207.02 L517.55,207.20 L517.81,207.37 L518.08,207.54 L518.34,207.66 L518.60,207.78 L518.87,207.91 L519.13,208.03 L519.40,208.16 L519.66,208.28 L519.92,208.41 L520.19,208.53 L520.45,208.66 L520.72,208.78 L520.98,208.91 L521.25,209.03 L521.51,209.16 L521.77,209.28 L522.04,209.40 L522.30,209.53 L522.57,209.65 L522.83,209.78 L523.09,209.90 L523.36,210.01 L523.62,210.06 L523.89,210.11 L524.15,210.16 L524.42,210.21 L524.68,210.26 L524.94,210.30 L525.21,210.35 L525.47,210.40 L525.74,210.45 L526.00,210.50" stroke="#1a1ae8" stroke-width="1.4"/></g></g>
<g fill="#fff" stroke="#3c3c3c" stroke-width="0.6"><g clip-path="url(#c7)"><circle cx="441.65" cy="193.49" r="1.6"/><circle cx="440.47" cy="197.19" r="1.6"/><circle cx="442.85" cy="196.19" r="1.6"/><circle cx="443.63" cy="194.23" r="1.6"/><circle cx="445.72" cy="195.65" r="1.6"/><circle cx="446.42" cy="193.80" r="1.6"/><circle cx="447.87" cy="194.35" r="1.6"/><circle cx="447.31" cy="191.39" r="1.6"/><circle cx="449.52" cy="191.44" r="1.6"/><circle cx="450.47" cy="190.98" r="1.6"/><circle cx="450.36" cy="188.78" r="1.6"/><circle cx="450.99" cy="187.08" r="1.6"/><circle cx="451.69" cy="186.09" r="1.6"/><circle cx="453.07" cy="184.89" r="1.6"/><circle cx="456.07" cy="185.14" r="1.6"/><circle cx="456.33" cy="182.94" r="1.6"/><circle cx="456.16" cy="180.53" r="1.6"/><circle cx="459.17" cy="180.36" r="1.6"/><circle cx="460.04" cy="178.71" r="1.6"/><circle cx="460.71" cy="177.04" r="1.6"/><circle cx="460.06" cy="173.73" r="1.6"/><circle cx="462.57" cy="172.80" r="1.6"/><circle cx="464.59" cy="171.53" r="1.6"/><circle cx="464.88" cy="171.63" r="1.6"/><circle cx="465.48" cy="169.98" r="1.6"/><circle cx="466.18" cy="168.99" r="1.6"/><circle cx="467.01" cy="170.69" r="1.6"/><circle cx="468.11" cy="168.41" r="1.6"/><circle cx="468.86" cy="169.98" r="1.6"/><circle cx="469.94" cy="169.94" r="1.6"/><circle cx="470.59" cy="171.48" r="1.6"/><circle cx="471.12" cy="172.70" r="1.6"/><circle cx="474.78" cy="171.95" r="1.6"/><circle cx="473.22" cy="176.17" r="1.6"/><circle cx="474.48" cy="177.14" r="1.6"/><circle cx="476.59" cy="177.86" r="1.6"/><circle cx="476.65" cy="180.22" r="1.6"/><circle cx="476.90" cy="182.48" r="1.6"/><circle cx="478.23" cy="183.63" r="1.6"/><circle cx="479.15" cy="184.73" r="1.6"/><circle cx="481.12" cy="183.99" r="1.6"/><circle cx="482.27" cy="184.74" r="1.6"/><circle cx="482.44" cy="187.46" r="1.6"/><circle cx="483.81" cy="185.44" r="1.6"/><circle cx="484.77" cy="184.37" r="1.6"/><circle cx="485.16" cy="184.27" r="1.6"/><circle cx="486.73" cy="184.82" r="1.6"/><circle cx="488.48" cy="186.55" r="1.6"/><circle cx="488.61" cy="182.75" r="1.6"/><circle cx="490.65" cy="185.56" r="1.6"/><circle cx="490.96" cy="183.63" r="1.6"/><circle cx="491.66" cy="182.67" r="1.6"/><circle cx="492.29" cy="180.95" r="1.6"/><circle cx="495.14" cy="182.51" r="1.6"/><circle cx="494.16" cy="179.36" r="1.6"/><circle cx="494.98" cy="178.13" r="1.6"/><circle cx="495.80" cy="177.37" r="1.6"/><circle cx="497.22" cy="176.12" r="1.6"/><circle cx="500.26" cy="176.49" r="1.6"/><circle cx="501.54" cy="174.77" r="1.6"/><circle cx="500.16" cy="171.07" r="1.6"/><circle cx="503.15" cy="170.94" r="1.6"/><circle cx="502.64" cy="168.40" r="1.6"/><circle cx="501.32" cy="165.94" r="1.6"/><circle cx="503.21" cy="165.91" r="1.6"/><circle cx="504.56" cy="164.59" r="1.6"/><circle cx="504.42" cy="161.75" r="1.6"/><circle cx="504.56" cy="159.75" r="1.6"/><circle cx="507.14" cy="159.75" r="1.6"/><circle cx="507.27" cy="158.16" r="1.6"/><circle cx="508.57" cy="158.57" r="1.6"/><circle cx="509.35" cy="157.91" r="1.6"/><circle cx="510.36" cy="157.78" r="1.6"/><circle cx="510.74" cy="155.55" r="1.6"/><circle cx="511.98" cy="155.26" r="1.6"/><circle cx="511.61" cy="156.78" r="1.6"/><circle cx="513.57" cy="156.42" r="1.6"/><circle cx="513.03" cy="159.32" r="1.6"/><circle cx="514.87" cy="161.04" r="1.6"/><circle cx="514.28" cy="163.47" r="1.6"/><circle cx="515.67" cy="165.46" r="1.6"/><circle cx="516.76" cy="167.96" r="1.6"/><circle cx="516.57" cy="170.15" r="1.6"/><circle cx="516.21" cy="171.55" r="1.6"/><circle cx="516.46" cy="174.44" r="1.6"/><circle cx="515.83" cy="179.57" r="1.6"/><circle cx="517.17" cy="182.32" r="1.6"/><circle cx="517.49" cy="183.60" r="1.6"/><circle cx="517.42" cy="184.96" r="1.6"/><circle cx="518.43" cy="186.74" r="1.6"/><circle cx="517.91" cy="188.86" r="1.6"/><circle cx="519.42" cy="189.39" r="1.6"/><circle cx="521.80" cy="189.63" r="1.6"/><circle cx="520.19" cy="192.05" r="1.6"/><circle cx="523.40" cy="192.60" r="1.6"/><circle cx="521.87" cy="195.46" r="1.6"/><circle cx="522.59" cy="197.02" r="1.6"/><circle cx="523.85" cy="199.69" r="1.6"/><circle cx="525.29" cy="201.38" r="1.6"/><circle cx="526.52" cy="202.49" r="1.6"/><circle cx="527.53" cy="203.69" r="1.6"/><circle cx="527.20" cy="205.80" r="1.6"/><circle cx="528.20" cy="206.95" r="1.6"/><circle cx="529.45" cy="207.43" r="1.6"/><circle cx="531.44" cy="206.98" r="1.6"/><circle cx="529.96" cy="211.15" r="1.6"/><circle cx="531.18" cy="211.40" r="1.6"/><circle cx="532.42" cy="212.14" r="1.6"/><circle cx="534.41" cy="211.23" r="1.6"/><circle cx="536.63" cy="210.40" r="1.6"/><circle cx="537.62" cy="212.08" r="1.6"/><circle cx="539.08" cy="212.47" r="1.6"/><circle cx="536.86" cy="217.11" r="1.6"/><circle cx="539.43" cy="217.20" r="1.6"/><circle cx="537.80" cy="220.67" r="1.6"/><circle cx="542.67" cy="218.46" r="1.6"/><circle cx="540.91" cy="222.40" r="1.6"/><circle cx="542.41" cy="222.67" r="1.6"/><circle cx="542.88" cy="224.92" r="1.6"/><circle cx="444.60" cy="202.80" r="1.6"/><circle cx="472.40" cy="182.90" r="1.6"/><circle cx="486.30" cy="193.30" r="1.6"/><circle cx="528.20" cy="219.40" r="1.6"/><circle cx="541.00" cy="228.60" r="1.6"/></g></g>
<line x1="449.30" y1="234.70" x2="449.30" y2="237.30" stroke="#4d4d4d" stroke-width="0.8"/>
<text x="449.30" y="242.70" font-size="5.2" text-anchor="middle" fill="#222" stroke="#222" stroke-width="0.22" >590</text>
<line x1="471.05" y1="234.70" x2="471.05" y2="237.30" stroke="#4d4d4d" stroke-width="0.8"/>
<text x="471.05" y="242.70" font-size="5.2" text-anchor="middle" fill="#222" stroke="#222" stroke-width="0.22" >585</text>
<line x1="492.80" y1="234.70" x2="492.80" y2="237.30" stroke="#4d4d4d" stroke-width="0.8"/>
<text x="492.80" y="242.70" font-size="5.2" text-anchor="middle" fill="#222" stroke="#222" stroke-width="0.22" >580</text>
<line x1="514.55" y1="234.70" x2="514.55" y2="237.30" stroke="#4d4d4d" stroke-width="0.8"/>
<text x="514.55" y="242.70" font-size="5.2" text-anchor="middle" fill="#222" stroke="#222" stroke-width="0.22" >575</text>
<line x1="536.30" y1="234.70" x2="536.30" y2="237.30" stroke="#4d4d4d" stroke-width="0.8"/>
<text x="536.30" y="242.70" font-size="5.2" text-anchor="middle" fill="#222" stroke="#222" stroke-width="0.22" >570</text>
<line x1="437.90" y1="227.50" x2="440.50" y2="227.50" stroke="#4d4d4d" stroke-width="0.8"/>
<text x="435.30" y="229.40" font-size="5.2" text-anchor="end" fill="#222" stroke="#222" stroke-width="0.22" >29</text>
<line x1="437.90" y1="212.54" x2="440.50" y2="212.54" stroke="#4d4d4d" stroke-width="0.8"/>
<text x="435.30" y="214.44" font-size="5.2" text-anchor="end" fill="#222" stroke="#222" stroke-width="0.22" >30</text>
<line x1="437.90" y1="197.58" x2="440.50" y2="197.58" stroke="#4d4d4d" stroke-width="0.8"/>
<text x="435.30" y="199.48" font-size="5.2" text-anchor="end" fill="#222" stroke="#222" stroke-width="0.22" >31</text>
<line x1="437.90" y1="182.62" x2="440.50" y2="182.62" stroke="#4d4d4d" stroke-width="0.8"/>
<text x="435.30" y="184.52" font-size="5.2" text-anchor="end" fill="#222" stroke="#222" stroke-width="0.22" >32</text>
<line x1="437.90" y1="167.66" x2="440.50" y2="167.66" stroke="#4d4d4d" stroke-width="0.8"/>
<text x="435.30" y="169.56" font-size="5.2" text-anchor="end" fill="#222" stroke="#222" stroke-width="0.22" >33</text>
<line x1="437.90" y1="152.70" x2="440.50" y2="152.70" stroke="#4d4d4d" stroke-width="0.8"/>
<text x="435.30" y="154.60" font-size="5.2" text-anchor="end" fill="#222" stroke="#222" stroke-width="0.22" >34</text>
<rect x="440.50" y="145.50" width="104.80" height="89.20" fill="none" stroke="#4d4d4d" stroke-width="1"/>
<text x="493.10" y="253.30" font-size="6.75" text-anchor="middle" fill="#111" stroke="#111" stroke-width="0.22" >Binding energy (eV)</text>
<text x="0" y="0" font-size="6.55" text-anchor="middle" fill="#111" stroke="#111" stroke-width="0.22" transform="translate(426.40,189.70) rotate(-90)">Intensity (10<tspan font-size="4.2" dy="-2.1">3</tspan><tspan dy="2.1"> CPS)</tspan></text>
<text x="456.50" y="229.80" font-size="11.3" text-anchor="start" fill="#111" stroke="#111" stroke-width="0.22" >CrAc</text>
<text x="23.00" y="9.00" font-size="8.5" text-anchor="start" fill="#222" stroke="#222" stroke-width="0.22" >ground samples</text>
<text x="24.20" y="20.90" font-size="8.4" text-anchor="start" fill="#111" stroke="#111" stroke-width="0.22" >Cr 2p</text>
<text x="57.30" y="32.20" font-size="8.6" text-anchor="start" fill="#111" stroke="#111" stroke-width="0.22" >Cr(VI)</text>
<text x="42.60" y="45.60" font-size="8.4" text-anchor="start" fill="#111" stroke="#111" stroke-width="0.22" >Cr 2p<tspan font-size="5.4" dy="1.6">1/2</tspan></text>
<text x="84.90" y="22.30" font-size="8.4" text-anchor="start" fill="#111" stroke="#111" stroke-width="0.22" >Cr 2p<tspan font-size="5.5" dy="1.8">3/2</tspan></text>
<line x1="73.3" y1="35.2" x2="77.4" y2="46.5" stroke="#000" stroke-width="0.7"/>
<path d="M75.2,46.8 L79.5,51.8 L79.6,45.2 Z" fill="#000"/>
<text x="22.90" y="140.60" font-size="8.5" text-anchor="start" fill="#222" stroke="#222" stroke-width="0.22" >not ground samples</text></svg></body></html>
